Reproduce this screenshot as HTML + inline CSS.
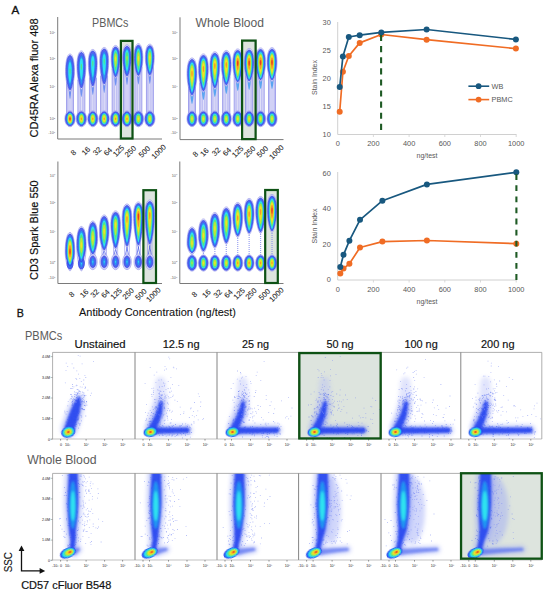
<!DOCTYPE html>
<html><head><meta charset="utf-8"><style>
html,body{margin:0;padding:0;background:#fff;width:550px;height:595px;overflow:hidden;}
svg{display:block;}
</style></head><body>
<svg width="550" height="595" viewBox="0 0 550 595">
<defs><filter id="bl1" x="-50%" y="-50%" width="200%" height="200%"><feGaussianBlur stdDeviation="1.1"/></filter><filter id="bl05" x="-50%" y="-50%" width="200%" height="200%"><feGaussianBlur stdDeviation="0.5"/></filter><filter id="bl03" x="-50%" y="-50%" width="200%" height="200%"><feGaussianBlur stdDeviation="0.3"/></filter><filter id="bl2" x="-50%" y="-50%" width="200%" height="200%"><feGaussianBlur stdDeviation="2.2"/></filter></defs>
<rect width="550" height="595" fill="#fff"/>
<rect x="119.8" y="39.8" width="13.799999999999997" height="99.2" fill="#dde4de"/>
<rect x="66.5" y="82" width="7" height="34" fill="#e4e4f9" stroke="#8282e6" stroke-width="0.7"/>
<path d="M67.6 82V116M72.4 82V116M69 82V116M71 82V116" stroke="#9898ec" stroke-width="0.5"/>
<path d="M70 82C70.78 82 71.3 84.04 71.3 87.1C71.3 93.05 70.39 99 70 99C69.61 99 68.7 93.05 68.7 87.1C68.7 84.04 69.22 82 70 82Z" fill="#4a7af0" opacity="0.75"/>
<ellipse cx="70" cy="118.8" rx="5.2" ry="8" fill="#e4e4f9" stroke="#9090ea" stroke-width="0.6"/>
<g filter="url(#bl03)">
<ellipse cx="70" cy="118.8" rx="4.5" ry="7.1" fill="#5566ee" stroke="#2434e6" stroke-width="0.6"/>
<ellipse cx="70" cy="118.8" rx="3.33" ry="6.25" fill="#2e94f2" stroke="#2a5cf0" stroke-width="0.4"/>
<ellipse cx="70" cy="118.8" rx="2.83" ry="5.68" fill="#2ee2f0"/>
<ellipse cx="70" cy="118.8" rx="2.39" ry="4.97" fill="#4fe68c"/>
<ellipse cx="70" cy="118.8" rx="2.11" ry="4.4" fill="#b4e83c"/>
<ellipse cx="70" cy="118.8" rx="1.89" ry="3.91" fill="#f2e226"/>
<ellipse cx="70" cy="118.8" rx="1.35" ry="2.7" fill="#f59a26"/>
<ellipse cx="70" cy="118.8" rx="0.72" ry="1.42" fill="#e83a1e"/>
</g>
<path d="M70 53.9C72.7 53.9 74.5 60.94 74.5 71.5C74.5 81.55 71.35 91.6 70 91.6C68.65 91.6 65.5 81.55 65.5 71.5C65.5 60.94 67.3 53.9 70 53.9Z" fill="#e4e4f9" stroke="#9090ea" stroke-width="0.6"/>
<g filter="url(#bl03)">
<path d="M70 55.5C72.28 55.5 73.8 61.9 73.8 71.5C73.8 80.75 71.14 90 70 90C68.86 90 66.2 80.75 66.2 71.5C66.2 61.9 67.72 55.5 70 55.5Z" fill="#5566ee" stroke="#2434e6" stroke-width="0.6"/>
<path d="M70 59.23C71.42 59.23 72.37 64.14 72.37 71.5C72.37 79.52 70.71 87.53 70 87.53C69.29 87.53 67.63 79.52 67.63 71.5C67.63 64.14 68.58 59.23 70 59.23Z" fill="#2e94f2" stroke="#2a5cf0" stroke-width="0.4"/>
<path d="M70 62.11C71 62.11 71.67 65.87 71.67 71.5C71.67 77.23 70.5 82.97 70 82.97C69.5 82.97 68.33 77.23 68.33 71.5C68.33 65.87 69 62.11 70 62.11Z" fill="#2ee2f0"/>
<path d="M70 68.3C70.39 68.3 70.65 69.58 70.65 71.5C70.65 73.07 70.19 74.64 70 74.64C69.81 74.64 69.35 73.07 69.35 71.5C69.35 69.58 69.61 68.3 70 68.3Z" fill="#4fe68c"/>
</g>
<rect x="77.9" y="80" width="7" height="36" fill="#e4e4f9" stroke="#8282e6" stroke-width="0.7"/>
<path d="M79 80V116M83.8 80V116M80.4 80V116M82.4 80V116" stroke="#9898ec" stroke-width="0.5"/>
<path d="M81.4 80C82.18 80 82.7 82.04 82.7 85.1C82.7 91.05 81.79 97 81.4 97C81.01 97 80.1 91.05 80.1 85.1C80.1 82.04 80.62 80 81.4 80Z" fill="#4a7af0" opacity="0.75"/>
<ellipse cx="81.4" cy="118.8" rx="5.2" ry="8" fill="#e4e4f9" stroke="#9090ea" stroke-width="0.6"/>
<g filter="url(#bl03)">
<ellipse cx="81.4" cy="118.8" rx="4.5" ry="7.1" fill="#5566ee" stroke="#2434e6" stroke-width="0.6"/>
<ellipse cx="81.4" cy="118.8" rx="3.25" ry="6.15" fill="#2e94f2" stroke="#2a5cf0" stroke-width="0.4"/>
<ellipse cx="81.4" cy="118.8" rx="2.69" ry="5.44" fill="#2ee2f0"/>
<ellipse cx="81.4" cy="118.8" rx="2.25" ry="4.69" fill="#4fe68c"/>
<ellipse cx="81.4" cy="118.8" rx="1.96" ry="4.07" fill="#b4e83c"/>
<ellipse cx="81.4" cy="118.8" rx="1.44" ry="2.9" fill="#f2e226"/>
<ellipse cx="81.4" cy="118.8" rx="0.72" ry="1.42" fill="#f59a26"/>
</g>
<path d="M81.4 50.9C84.1 50.9 85.9 57.14 85.9 66.5C85.9 78.05 82.75 89.6 81.4 89.6C80.05 89.6 76.9 78.05 76.9 66.5C76.9 57.14 78.7 50.9 81.4 50.9Z" fill="#e4e4f9" stroke="#9090ea" stroke-width="0.6"/>
<g filter="url(#bl03)">
<path d="M81.4 52.5C83.68 52.5 85.2 58.1 85.2 66.5C85.2 77.25 82.54 88 81.4 88C80.26 88 77.6 77.25 77.6 66.5C77.6 58.1 79.12 52.5 81.4 52.5Z" fill="#5566ee" stroke="#2434e6" stroke-width="0.6"/>
<path d="M81.4 55.77C82.82 55.77 83.77 60.06 83.77 66.5C83.77 75.82 82.11 85.13 81.4 85.13C80.69 85.13 79.03 75.82 79.03 66.5C79.03 60.06 79.98 55.77 81.4 55.77Z" fill="#2e94f2" stroke="#2a5cf0" stroke-width="0.4"/>
<path d="M81.4 58.29C82.4 58.29 83.07 61.57 83.07 66.5C83.07 73.16 81.9 79.83 81.4 79.83C80.9 79.83 79.73 73.16 79.73 66.5C79.73 61.57 80.4 58.29 81.4 58.29Z" fill="#2ee2f0"/>
<path d="M81.4 63.7C81.79 63.7 82.05 64.82 82.05 66.5C82.05 68.33 81.59 70.16 81.4 70.16C81.21 70.16 80.75 68.33 80.75 66.5C80.75 64.82 81.01 63.7 81.4 63.7Z" fill="#4fe68c"/>
</g>
<rect x="89.3" y="78" width="7" height="38" fill="#e4e4f9" stroke="#8282e6" stroke-width="0.7"/>
<path d="M90.4 78V116M95.2 78V116M91.8 78V116M93.8 78V116" stroke="#9898ec" stroke-width="0.5"/>
<path d="M92.8 78C93.58 78 94.1 80.04 94.1 83.1C94.1 89.05 93.19 95 92.8 95C92.41 95 91.5 89.05 91.5 83.1C91.5 80.04 92.02 78 92.8 78Z" fill="#4a7af0" opacity="0.75"/>
<ellipse cx="92.8" cy="118.8" rx="5.2" ry="8" fill="#e4e4f9" stroke="#9090ea" stroke-width="0.6"/>
<g filter="url(#bl03)">
<ellipse cx="92.8" cy="118.8" rx="4.5" ry="7.1" fill="#5566ee" stroke="#2434e6" stroke-width="0.6"/>
<ellipse cx="92.8" cy="118.8" rx="3.25" ry="6.15" fill="#2e94f2" stroke="#2a5cf0" stroke-width="0.4"/>
<ellipse cx="92.8" cy="118.8" rx="2.69" ry="5.44" fill="#2ee2f0"/>
<ellipse cx="92.8" cy="118.8" rx="2.25" ry="4.69" fill="#4fe68c"/>
<ellipse cx="92.8" cy="118.8" rx="1.96" ry="4.07" fill="#b4e83c"/>
<ellipse cx="92.8" cy="118.8" rx="1.44" ry="2.9" fill="#f2e226"/>
<ellipse cx="92.8" cy="118.8" rx="0.72" ry="1.42" fill="#f59a26"/>
</g>
<path d="M92.8 49.4C95.5 49.4 97.3 54.84 97.3 63C97.3 75.3 94.15 87.6 92.8 87.6C91.45 87.6 88.3 75.3 88.3 63C88.3 54.84 90.1 49.4 92.8 49.4Z" fill="#e4e4f9" stroke="#9090ea" stroke-width="0.6"/>
<g filter="url(#bl03)">
<path d="M92.8 51C95.08 51 96.6 55.8 96.6 63C96.6 74.5 93.94 86 92.8 86C91.66 86 89 74.5 89 63C89 55.8 90.52 51 92.8 51Z" fill="#5566ee" stroke="#2434e6" stroke-width="0.6"/>
<path d="M92.8 53.8C94.22 53.8 95.17 57.48 95.17 63C95.17 72.97 93.51 82.93 92.8 82.93C92.09 82.93 90.43 72.97 90.43 63C90.43 57.48 91.38 53.8 92.8 53.8Z" fill="#2e94f2" stroke="#2a5cf0" stroke-width="0.4"/>
<path d="M92.8 55.96C93.8 55.96 94.47 58.78 94.47 63C94.47 70.13 93.3 77.26 92.8 77.26C92.3 77.26 91.13 70.13 91.13 63C91.13 58.78 91.8 55.96 92.8 55.96Z" fill="#2ee2f0"/>
<path d="M92.8 60.6C93.19 60.6 93.45 61.56 93.45 63C93.45 64.95 92.99 66.91 92.8 66.91C92.61 66.91 92.15 64.95 92.15 63C92.15 61.56 92.41 60.6 92.8 60.6Z" fill="#4fe68c"/>
</g>
<rect x="100.7" y="76" width="7" height="40" fill="#e4e4f9" stroke="#8282e6" stroke-width="0.7"/>
<path d="M101.8 76V116M106.6 76V116M103.2 76V116M105.2 76V116" stroke="#9898ec" stroke-width="0.5"/>
<path d="M104.2 76C104.98 76 105.5 78.04 105.5 81.1C105.5 87.05 104.59 93 104.2 93C103.81 93 102.9 87.05 102.9 81.1C102.9 78.04 103.42 76 104.2 76Z" fill="#4a7af0" opacity="0.75"/>
<ellipse cx="104.2" cy="118.8" rx="5.2" ry="8" fill="#e4e4f9" stroke="#9090ea" stroke-width="0.6"/>
<g filter="url(#bl03)">
<ellipse cx="104.2" cy="118.8" rx="4.5" ry="7.1" fill="#5566ee" stroke="#2434e6" stroke-width="0.6"/>
<ellipse cx="104.2" cy="118.8" rx="3.25" ry="6.15" fill="#2e94f2" stroke="#2a5cf0" stroke-width="0.4"/>
<ellipse cx="104.2" cy="118.8" rx="2.69" ry="5.44" fill="#2ee2f0"/>
<ellipse cx="104.2" cy="118.8" rx="2.25" ry="4.69" fill="#4fe68c"/>
<ellipse cx="104.2" cy="118.8" rx="1.96" ry="4.07" fill="#b4e83c"/>
<ellipse cx="104.2" cy="118.8" rx="1.44" ry="2.9" fill="#f2e226"/>
<ellipse cx="104.2" cy="118.8" rx="0.72" ry="1.42" fill="#f59a26"/>
</g>
<path d="M104.2 47.4C106.9 47.4 108.7 52.84 108.7 61C108.7 73.3 105.55 85.6 104.2 85.6C102.85 85.6 99.7 73.3 99.7 61C99.7 52.84 101.5 47.4 104.2 47.4Z" fill="#e4e4f9" stroke="#9090ea" stroke-width="0.6"/>
<g filter="url(#bl03)">
<path d="M104.2 49C106.48 49 108 53.8 108 61C108 72.5 105.34 84 104.2 84C103.06 84 100.4 72.5 100.4 61C100.4 53.8 101.92 49 104.2 49Z" fill="#5566ee" stroke="#2434e6" stroke-width="0.6"/>
<path d="M104.2 51.8C105.62 51.8 106.57 55.48 106.57 61C106.57 70.97 104.91 80.93 104.2 80.93C103.49 80.93 101.83 70.97 101.83 61C101.83 55.48 102.78 51.8 104.2 51.8Z" fill="#2e94f2" stroke="#2a5cf0" stroke-width="0.4"/>
<path d="M104.2 53.96C105.2 53.96 105.87 56.78 105.87 61C105.87 68.13 104.7 75.26 104.2 75.26C103.7 75.26 102.53 68.13 102.53 61C102.53 56.78 103.2 53.96 104.2 53.96Z" fill="#2ee2f0"/>
<path d="M104.2 58.6C104.59 58.6 104.85 59.56 104.85 61C104.85 62.95 104.39 64.91 104.2 64.91C104.01 64.91 103.55 62.95 103.55 61C103.55 59.56 103.81 58.6 104.2 58.6Z" fill="#4fe68c"/>
</g>
<rect x="112.1" y="69" width="7" height="47" fill="#e4e4f9" stroke="#8282e6" stroke-width="0.7"/>
<path d="M113.2 69V116M118 69V116M114.6 69V116M116.6 69V116" stroke="#9898ec" stroke-width="0.5"/>
<path d="M115.6 69C116.38 69 116.9 71.04 116.9 74.1C116.9 80.05 115.99 86 115.6 86C115.21 86 114.3 80.05 114.3 74.1C114.3 71.04 114.82 69 115.6 69Z" fill="#4a7af0" opacity="0.75"/>
<ellipse cx="115.6" cy="118.8" rx="5.2" ry="8" fill="#e4e4f9" stroke="#9090ea" stroke-width="0.6"/>
<g filter="url(#bl03)">
<ellipse cx="115.6" cy="118.8" rx="4.5" ry="7.1" fill="#5566ee" stroke="#2434e6" stroke-width="0.6"/>
<ellipse cx="115.6" cy="118.8" rx="3.25" ry="6.15" fill="#2e94f2" stroke="#2a5cf0" stroke-width="0.4"/>
<ellipse cx="115.6" cy="118.8" rx="2.69" ry="5.44" fill="#2ee2f0"/>
<ellipse cx="115.6" cy="118.8" rx="2.25" ry="4.69" fill="#4fe68c"/>
<ellipse cx="115.6" cy="118.8" rx="1.96" ry="4.07" fill="#b4e83c"/>
<ellipse cx="115.6" cy="118.8" rx="1.44" ry="2.9" fill="#f2e226"/>
<ellipse cx="115.6" cy="118.8" rx="0.72" ry="1.42" fill="#f59a26"/>
</g>
<path d="M115.6 45.4C118.3 45.4 120.1 50.68 120.1 58.6C120.1 68.6 116.95 78.6 115.6 78.6C114.25 78.6 111.1 68.6 111.1 58.6C111.1 50.68 112.9 45.4 115.6 45.4Z" fill="#e4e4f9" stroke="#9090ea" stroke-width="0.6"/>
<g filter="url(#bl03)">
<path d="M115.6 47C117.88 47 119.4 51.64 119.4 58.6C119.4 67.8 116.74 77 115.6 77C114.46 77 111.8 67.8 111.8 58.6C111.8 51.64 113.32 47 115.6 47Z" fill="#5566ee" stroke="#2434e6" stroke-width="0.6"/>
<path d="M115.6 48.67C117.32 48.67 118.47 52.64 118.47 58.6C118.47 67.16 116.46 75.71 115.6 75.71C114.74 75.71 112.73 67.16 112.73 58.6C112.73 52.64 113.88 48.67 115.6 48.67Z" fill="#2e94f2" stroke="#2a5cf0" stroke-width="0.4"/>
<path d="M115.6 50.09C116.9 50.09 117.77 53.49 117.77 58.6C117.77 66.14 116.25 73.69 115.6 73.69C114.95 73.69 113.43 66.14 113.43 58.6C113.43 53.49 114.3 50.09 115.6 50.09Z" fill="#2ee2f0"/>
<path d="M115.6 51.36C116.67 51.36 117.38 54.26 117.38 58.6C117.38 64.82 116.13 71.04 115.6 71.04C115.07 71.04 113.82 64.82 113.82 58.6C113.82 54.26 114.53 51.36 115.6 51.36Z" fill="#4fe68c"/>
<path d="M115.6 53.22C116.42 53.22 116.97 55.37 116.97 58.6C116.97 62.94 116.01 67.28 115.6 67.28C115.19 67.28 114.23 62.94 114.23 58.6C114.23 55.37 114.78 53.22 115.6 53.22Z" fill="#b4e83c"/>
<path d="M115.6 56.28C115.99 56.28 116.25 57.21 116.25 58.6C116.25 60.16 115.79 61.73 115.6 61.73C115.41 61.73 114.95 60.16 114.95 58.6C114.95 57.21 115.21 56.28 115.6 56.28Z" fill="#f2e226"/>
</g>
<rect x="123.5" y="68" width="7" height="48" fill="#e4e4f9" stroke="#8282e6" stroke-width="0.7"/>
<path d="M124.6 68V116M129.4 68V116M126 68V116M128 68V116" stroke="#9898ec" stroke-width="0.5"/>
<path d="M127 68C127.78 68 128.3 70.04 128.3 73.1C128.3 79.05 127.39 85 127 85C126.61 85 125.7 79.05 125.7 73.1C125.7 70.04 126.22 68 127 68Z" fill="#4a7af0" opacity="0.75"/>
<ellipse cx="127" cy="118.8" rx="5.2" ry="8" fill="#e4e4f9" stroke="#9090ea" stroke-width="0.6"/>
<g filter="url(#bl03)">
<ellipse cx="127" cy="118.8" rx="4.5" ry="7.1" fill="#5566ee" stroke="#2434e6" stroke-width="0.6"/>
<ellipse cx="127" cy="118.8" rx="3.25" ry="6.15" fill="#2e94f2" stroke="#2a5cf0" stroke-width="0.4"/>
<ellipse cx="127" cy="118.8" rx="2.69" ry="5.44" fill="#2ee2f0"/>
<ellipse cx="127" cy="118.8" rx="2.25" ry="4.69" fill="#4fe68c"/>
<ellipse cx="127" cy="118.8" rx="1.96" ry="4.07" fill="#b4e83c"/>
<ellipse cx="127" cy="118.8" rx="1.44" ry="2.9" fill="#f2e226"/>
<ellipse cx="127" cy="118.8" rx="0.72" ry="1.42" fill="#f59a26"/>
</g>
<path d="M127 44.7C129.7 44.7 131.5 50.02 131.5 58C131.5 67.8 128.35 77.6 127 77.6C125.65 77.6 122.5 67.8 122.5 58C122.5 50.02 124.3 44.7 127 44.7Z" fill="#e4e4f9" stroke="#9090ea" stroke-width="0.6"/>
<g filter="url(#bl03)">
<path d="M127 46.3C129.28 46.3 130.8 50.98 130.8 58C130.8 67 128.14 76 127 76C125.86 76 123.2 67 123.2 58C123.2 50.98 124.72 46.3 127 46.3Z" fill="#5566ee" stroke="#2434e6" stroke-width="0.6"/>
<path d="M127 48.44C128.6 48.44 129.66 52.26 129.66 58C129.66 66.21 127.8 74.42 127 74.42C126.2 74.42 124.34 66.21 124.34 58C124.34 52.26 125.4 48.44 127 48.44Z" fill="#2e94f2" stroke="#2a5cf0" stroke-width="0.4"/>
<path d="M127 50.04C128.17 50.04 128.96 53.23 128.96 58C128.96 64.75 127.59 71.5 127 71.5C126.41 71.5 125.04 64.75 125.04 58C125.04 53.23 125.83 50.04 127 50.04Z" fill="#2ee2f0"/>
<path d="M127 51.92C127.9 51.92 128.5 54.35 128.5 58C128.5 62.81 127.45 67.63 127 67.63C126.55 67.63 125.5 62.81 125.5 58C125.5 54.35 126.1 51.92 127 51.92Z" fill="#4fe68c"/>
<path d="M127 55.66C127.39 55.66 127.65 56.6 127.65 58C127.65 59.53 127.19 61.06 127 61.06C126.81 61.06 126.35 59.53 126.35 58C126.35 56.6 126.61 55.66 127 55.66Z" fill="#b4e83c"/>
</g>
<rect x="134.9" y="67.5" width="7" height="48.5" fill="#e4e4f9" stroke="#8282e6" stroke-width="0.7"/>
<path d="M136 67.5V116M140.8 67.5V116M137.4 67.5V116M139.4 67.5V116" stroke="#9898ec" stroke-width="0.5"/>
<path d="M138.4 67.5C139.18 67.5 139.7 69.54 139.7 72.6C139.7 78.55 138.79 84.5 138.4 84.5C138.01 84.5 137.1 78.55 137.1 72.6C137.1 69.54 137.62 67.5 138.4 67.5Z" fill="#4a7af0" opacity="0.75"/>
<ellipse cx="138.4" cy="118.8" rx="5.2" ry="8" fill="#e4e4f9" stroke="#9090ea" stroke-width="0.6"/>
<g filter="url(#bl03)">
<ellipse cx="138.4" cy="118.8" rx="4.5" ry="7.1" fill="#5566ee" stroke="#2434e6" stroke-width="0.6"/>
<ellipse cx="138.4" cy="118.8" rx="3.13" ry="6.02" fill="#2e94f2" stroke="#2a5cf0" stroke-width="0.4"/>
<ellipse cx="138.4" cy="118.8" rx="2.48" ry="5.11" fill="#2ee2f0"/>
<ellipse cx="138.4" cy="118.8" rx="2.07" ry="4.3" fill="#4fe68c"/>
<ellipse cx="138.4" cy="118.8" rx="1.57" ry="3.18" fill="#b4e83c"/>
<ellipse cx="138.4" cy="118.8" rx="0.72" ry="1.42" fill="#f2e226"/>
</g>
<path d="M138.4 43.6C141.1 43.6 142.9 49.56 142.9 58.5C142.9 67.8 139.75 77.1 138.4 77.1C137.05 77.1 133.9 67.8 133.9 58.5C133.9 49.56 135.7 43.6 138.4 43.6Z" fill="#e4e4f9" stroke="#9090ea" stroke-width="0.6"/>
<g filter="url(#bl03)">
<path d="M138.4 45.2C140.68 45.2 142.2 50.52 142.2 58.5C142.2 67 139.54 75.5 138.4 75.5C137.26 75.5 134.6 67 134.6 58.5C134.6 50.52 136.12 45.2 138.4 45.2Z" fill="#5566ee" stroke="#2434e6" stroke-width="0.6"/>
<path d="M138.4 47.12C140.12 47.12 141.27 51.67 141.27 58.5C141.27 66.41 139.26 74.31 138.4 74.31C137.54 74.31 135.53 66.41 135.53 58.5C135.53 51.67 136.68 47.12 138.4 47.12Z" fill="#2e94f2" stroke="#2a5cf0" stroke-width="0.4"/>
<path d="M138.4 48.74C139.7 48.74 140.57 52.64 140.57 58.5C140.57 65.47 139.05 72.44 138.4 72.44C137.75 72.44 136.23 65.47 136.23 58.5C136.23 52.64 137.1 48.74 138.4 48.74Z" fill="#2ee2f0"/>
<path d="M138.4 50.2C139.47 50.2 140.18 53.52 140.18 58.5C140.18 64.25 138.93 69.99 138.4 69.99C137.87 69.99 136.62 64.25 136.62 58.5C136.62 53.52 137.33 50.2 138.4 50.2Z" fill="#4fe68c"/>
<path d="M138.4 52.33C139.22 52.33 139.77 54.8 139.77 58.5C139.77 62.51 138.81 66.52 138.4 66.52C137.99 66.52 137.03 62.51 137.03 58.5C137.03 54.8 137.58 52.33 138.4 52.33Z" fill="#b4e83c"/>
<path d="M138.4 55.84C138.79 55.84 139.05 56.9 139.05 58.5C139.05 59.95 138.59 61.39 138.4 61.39C138.21 61.39 137.75 59.95 137.75 58.5C137.75 56.9 138.01 55.84 138.4 55.84Z" fill="#f2e226"/>
</g>
<rect x="146.3" y="67" width="7" height="49" fill="#e4e4f9" stroke="#8282e6" stroke-width="0.7"/>
<path d="M147.4 67V116M152.2 67V116M148.8 67V116M150.8 67V116" stroke="#9898ec" stroke-width="0.5"/>
<path d="M149.8 67C150.58 67 151.1 69.04 151.1 72.1C151.1 78.05 150.19 84 149.8 84C149.41 84 148.5 78.05 148.5 72.1C148.5 69.04 149.02 67 149.8 67Z" fill="#4a7af0" opacity="0.75"/>
<ellipse cx="149.8" cy="118.8" rx="5.2" ry="8" fill="#e4e4f9" stroke="#9090ea" stroke-width="0.6"/>
<g filter="url(#bl03)">
<ellipse cx="149.8" cy="118.8" rx="4.5" ry="7.1" fill="#5566ee" stroke="#2434e6" stroke-width="0.6"/>
<ellipse cx="149.8" cy="118.8" rx="3.13" ry="6.02" fill="#2e94f2" stroke="#2a5cf0" stroke-width="0.4"/>
<ellipse cx="149.8" cy="118.8" rx="2.48" ry="5.11" fill="#2ee2f0"/>
<ellipse cx="149.8" cy="118.8" rx="2.07" ry="4.3" fill="#4fe68c"/>
<ellipse cx="149.8" cy="118.8" rx="1.57" ry="3.18" fill="#b4e83c"/>
<ellipse cx="149.8" cy="118.8" rx="0.72" ry="1.42" fill="#f2e226"/>
</g>
<path d="M149.8 44.1C152.5 44.1 154.3 49.46 154.3 57.5C154.3 67.05 151.15 76.6 149.8 76.6C148.45 76.6 145.3 67.05 145.3 57.5C145.3 49.46 147.1 44.1 149.8 44.1Z" fill="#e4e4f9" stroke="#9090ea" stroke-width="0.6"/>
<g filter="url(#bl03)">
<path d="M149.8 45.7C152.08 45.7 153.6 50.42 153.6 57.5C153.6 66.25 150.94 75 149.8 75C148.66 75 146 66.25 146 57.5C146 50.42 147.52 45.7 149.8 45.7Z" fill="#5566ee" stroke="#2434e6" stroke-width="0.6"/>
<path d="M149.8 47.4C151.52 47.4 152.67 51.44 152.67 57.5C152.67 65.64 150.66 73.78 149.8 73.78C148.94 73.78 146.93 65.64 146.93 57.5C146.93 51.44 148.08 47.4 149.8 47.4Z" fill="#2e94f2" stroke="#2a5cf0" stroke-width="0.4"/>
<path d="M149.8 48.84C151.1 48.84 151.97 52.3 151.97 57.5C151.97 64.67 150.45 71.85 149.8 71.85C149.15 71.85 147.63 64.67 147.63 57.5C147.63 52.3 148.5 48.84 149.8 48.84Z" fill="#2ee2f0"/>
<path d="M149.8 50.14C150.87 50.14 151.58 53.08 151.58 57.5C151.58 63.41 150.33 69.33 149.8 69.33C149.27 69.33 148.02 63.41 148.02 57.5C148.02 53.08 148.73 50.14 149.8 50.14Z" fill="#4fe68c"/>
<path d="M149.8 52.02C150.62 52.02 151.17 54.21 151.17 57.5C151.17 61.63 150.21 65.76 149.8 65.76C149.39 65.76 148.43 61.63 148.43 57.5C148.43 54.21 148.98 52.02 149.8 52.02Z" fill="#b4e83c"/>
<path d="M149.8 55.14C150.19 55.14 150.45 56.08 150.45 57.5C150.45 58.99 149.99 60.48 149.8 60.48C149.61 60.48 149.15 58.99 149.15 57.5C149.15 56.08 149.41 55.14 149.8 55.14Z" fill="#f2e226"/>
</g>
<path d="M57.7 17V139H162" fill="none" stroke="#7a7a7a" stroke-width="1"/>
<rect x="120.90" y="40.90" width="11.60" height="97.60" fill="none" stroke="#0e5214" stroke-width="2.2"/>
<text x="55.2" y="34.3" font-size="3.8" fill="#666" text-anchor="end" font-family="'Liberation Sans', sans-serif">10<tspan font-size="2.4" dy="-1.3">6</tspan></text>
<text x="55.2" y="60.3" font-size="3.8" fill="#666" text-anchor="end" font-family="'Liberation Sans', sans-serif">10<tspan font-size="2.4" dy="-1.3">5</tspan></text>
<text x="55.2" y="88.3" font-size="3.8" fill="#666" text-anchor="end" font-family="'Liberation Sans', sans-serif">10<tspan font-size="2.4" dy="-1.3">4</tspan></text>
<text x="55.2" y="119.8" font-size="3.8" fill="#666" text-anchor="end" font-family="'Liberation Sans', sans-serif">10<tspan font-size="2.4" dy="-1.3">2</tspan></text>
<text x="55.2" y="133.9" font-size="3.8" fill="#666" text-anchor="end" font-family="'Liberation Sans', sans-serif">-10<tspan font-size="2.4" dy="-1.3">1</tspan></text>
<text x="73.4" y="155.2" font-size="7.6" fill="#222" stroke="#222" stroke-width="0.08" text-anchor="middle" transform="rotate(-45 73.4 152.7)" font-family="'Liberation Sans', sans-serif">8</text>
<text x="86.0" y="153.5" font-size="7.6" fill="#222" stroke="#222" stroke-width="0.08" text-anchor="middle" transform="rotate(-45 86.0 151.0)" font-family="'Liberation Sans', sans-serif">16</text>
<text x="97.2" y="153.7" font-size="7.6" fill="#222" stroke="#222" stroke-width="0.08" text-anchor="middle" transform="rotate(-45 97.2 151.2)" font-family="'Liberation Sans', sans-serif">32</text>
<text x="108.1" y="154.1" font-size="7.6" fill="#222" stroke="#222" stroke-width="0.08" text-anchor="middle" transform="rotate(-45 108.1 151.6)" font-family="'Liberation Sans', sans-serif">64</text>
<text x="118.6" y="153.5" font-size="7.6" fill="#222" stroke="#222" stroke-width="0.08" text-anchor="middle" transform="rotate(-45 118.6 151.0)" font-family="'Liberation Sans', sans-serif">125</text>
<text x="130.6" y="153.9" font-size="7.6" fill="#222" stroke="#222" stroke-width="0.08" text-anchor="middle" transform="rotate(-45 130.6 151.4)" font-family="'Liberation Sans', sans-serif">250</text>
<text x="144.4" y="154.2" font-size="7.6" fill="#222" stroke="#222" stroke-width="0.08" text-anchor="middle" transform="rotate(-45 144.4 151.7)" font-family="'Liberation Sans', sans-serif">500</text>
<text x="158.7" y="154.2" font-size="7.6" fill="#222" stroke="#222" stroke-width="0.08" text-anchor="middle" transform="rotate(-45 158.7 151.7)" font-family="'Liberation Sans', sans-serif">1000</text>
<rect x="241" y="39.5" width="15.699999999999989" height="100.1" fill="#dde4de"/>
<rect x="188.4" y="87" width="7.2" height="29" fill="#e4e4f9" stroke="#8282e6" stroke-width="0.7"/>
<path d="M189.5 87V116M194.5 87V116M191 87V116M193 87V116" stroke="#9898ec" stroke-width="0.5"/>
<path d="M192 87C193.02 87 193.7 89.04 193.7 92.1C193.7 98.05 192.51 104 192 104C191.49 104 190.3 98.05 190.3 92.1C190.3 89.04 190.98 87 192 87Z" fill="#3a9af0" opacity="0.8"/>
<ellipse cx="192" cy="118.8" rx="5.1" ry="7.9" fill="#e4e4f9" stroke="#9090ea" stroke-width="0.6"/>
<g filter="url(#bl03)">
<ellipse cx="192" cy="118.8" rx="4.4" ry="7" fill="#5566ee" stroke="#2434e6" stroke-width="0.6"/>
<ellipse cx="192" cy="118.8" rx="3.06" ry="5.94" fill="#2e94f2" stroke="#2a5cf0" stroke-width="0.4"/>
<ellipse cx="192" cy="118.8" rx="2.42" ry="5.04" fill="#2ee2f0"/>
<ellipse cx="192" cy="118.8" rx="2.02" ry="4.24" fill="#4fe68c"/>
<ellipse cx="192" cy="118.8" rx="1.53" ry="3.14" fill="#b4e83c"/>
<ellipse cx="192" cy="118.8" rx="0.7" ry="1.4" fill="#f2e226"/>
</g>
<path d="M192 57.9C195 57.9 197 64.18 197 73.6C197 85.1 193.5 96.6 192 96.6C190.5 96.6 187 85.1 187 73.6C187 64.18 189 57.9 192 57.9Z" fill="#e4e4f9" stroke="#9090ea" stroke-width="0.6"/>
<g filter="url(#bl03)">
<path d="M192 59.5C194.58 59.5 196.3 65.14 196.3 73.6C196.3 84.3 193.29 95 192 95C190.71 95 187.7 84.3 187.7 73.6C187.7 65.14 189.42 59.5 192 59.5Z" fill="#5566ee" stroke="#2434e6" stroke-width="0.6"/>
<path d="M192 61.17C194.05 61.17 195.41 66.14 195.41 73.6C195.41 83.68 193.02 93.75 192 93.75C190.98 93.75 188.59 83.68 188.59 73.6C188.59 66.14 189.95 61.17 192 61.17Z" fill="#2e94f2" stroke="#2a5cf0" stroke-width="0.4"/>
<path d="M192 62.79C193.61 62.79 194.68 67.11 194.68 73.6C194.68 82.87 192.8 92.15 192 92.15C191.2 92.15 189.32 82.87 189.32 73.6C189.32 67.11 190.39 62.79 192 62.79Z" fill="#2ee2f0"/>
<path d="M192 64.01C193.33 64.01 194.21 67.85 194.21 73.6C194.21 81.62 192.66 89.65 192 89.65C191.34 89.65 189.79 81.62 189.79 73.6C189.79 67.85 190.67 64.01 192 64.01Z" fill="#4fe68c"/>
<path d="M192 65.33C193.14 65.33 193.89 68.64 193.89 73.6C193.89 80.23 192.57 86.87 192 86.87C191.43 86.87 190.11 80.23 190.11 73.6C190.11 68.64 190.86 65.33 192 65.33Z" fill="#b4e83c"/>
<path d="M192 67.58C192.87 67.58 193.45 69.99 193.45 73.6C193.45 78.2 192.43 82.8 192 82.8C191.57 82.8 190.55 78.2 190.55 73.6C190.55 69.99 191.13 67.58 192 67.58Z" fill="#f2e226"/>
<path d="M192 70.78C192.44 70.78 192.73 71.91 192.73 73.6C192.73 75.42 192.22 77.24 192 77.24C191.78 77.24 191.27 75.42 191.27 73.6C191.27 71.91 191.56 70.78 192 70.78Z" fill="#f59a26"/>
</g>
<rect x="199.83" y="83" width="7.2" height="33" fill="#e4e4f9" stroke="#8282e6" stroke-width="0.7"/>
<path d="M200.93 83V116M205.93 83V116M202.43 83V116M204.43 83V116" stroke="#9898ec" stroke-width="0.5"/>
<path d="M203.43 83C204.45 83 205.13 85.04 205.13 88.1C205.13 94.05 203.94 100 203.43 100C202.92 100 201.73 94.05 201.73 88.1C201.73 85.04 202.41 83 203.43 83Z" fill="#3a9af0" opacity="0.8"/>
<ellipse cx="203.43" cy="118.8" rx="5.1" ry="7.9" fill="#e4e4f9" stroke="#9090ea" stroke-width="0.6"/>
<g filter="url(#bl03)">
<ellipse cx="203.43" cy="118.8" rx="4.4" ry="7" fill="#5566ee" stroke="#2434e6" stroke-width="0.6"/>
<ellipse cx="203.43" cy="118.8" rx="3.06" ry="5.94" fill="#2e94f2" stroke="#2a5cf0" stroke-width="0.4"/>
<ellipse cx="203.43" cy="118.8" rx="2.42" ry="5.04" fill="#2ee2f0"/>
<ellipse cx="203.43" cy="118.8" rx="2.02" ry="4.24" fill="#4fe68c"/>
<ellipse cx="203.43" cy="118.8" rx="1.53" ry="3.14" fill="#b4e83c"/>
<ellipse cx="203.43" cy="118.8" rx="0.7" ry="1.4" fill="#f2e226"/>
</g>
<path d="M203.43 53.9C206.43 53.9 208.43 59.74 208.43 68.5C208.43 80.55 204.93 92.6 203.43 92.6C201.93 92.6 198.43 80.55 198.43 68.5C198.43 59.74 200.43 53.9 203.43 53.9Z" fill="#e4e4f9" stroke="#9090ea" stroke-width="0.6"/>
<g filter="url(#bl03)">
<path d="M203.43 55.5C206.01 55.5 207.73 60.7 207.73 68.5C207.73 79.75 204.72 91 203.43 91C202.14 91 199.13 79.75 199.13 68.5C199.13 60.7 200.85 55.5 203.43 55.5Z" fill="#5566ee" stroke="#2434e6" stroke-width="0.6"/>
<path d="M203.43 57.04C205.48 57.04 206.84 61.62 206.84 68.5C206.84 79.09 204.45 89.69 203.43 89.69C202.41 89.69 200.02 79.09 200.02 68.5C200.02 61.62 201.38 57.04 203.43 57.04Z" fill="#2e94f2" stroke="#2a5cf0" stroke-width="0.4"/>
<path d="M203.43 58.53C205.04 58.53 206.11 62.52 206.11 68.5C206.11 78.25 204.23 88 203.43 88C202.63 88 200.75 78.25 200.75 68.5C200.75 62.52 201.82 58.53 203.43 58.53Z" fill="#2ee2f0"/>
<path d="M203.43 59.66C204.76 59.66 205.64 63.2 205.64 68.5C205.64 76.94 204.09 85.38 203.43 85.38C202.77 85.38 201.22 76.94 201.22 68.5C201.22 63.2 202.1 59.66 203.43 59.66Z" fill="#4fe68c"/>
<path d="M203.43 60.87C204.57 60.87 205.32 63.92 205.32 68.5C205.32 75.47 204 82.45 203.43 82.45C202.86 82.45 201.54 75.47 201.54 68.5C201.54 63.92 202.29 60.87 203.43 60.87Z" fill="#b4e83c"/>
<path d="M203.43 62.95C204.3 62.95 204.88 65.17 204.88 68.5C204.88 73.34 203.86 78.17 203.43 78.17C203 78.17 201.98 73.34 201.98 68.5C201.98 65.17 202.56 62.95 203.43 62.95Z" fill="#f2e226"/>
<path d="M203.43 65.9C203.87 65.9 204.16 66.94 204.16 68.5C204.16 70.41 203.65 72.33 203.43 72.33C203.21 72.33 202.7 70.41 202.7 68.5C202.7 66.94 202.99 65.9 203.43 65.9Z" fill="#f59a26"/>
</g>
<rect x="211.26" y="80" width="7.2" height="36" fill="#e4e4f9" stroke="#8282e6" stroke-width="0.7"/>
<path d="M212.36 80V116M217.36 80V116M213.86 80V116M215.86 80V116" stroke="#9898ec" stroke-width="0.5"/>
<path d="M214.86 80C215.88 80 216.56 82.04 216.56 85.1C216.56 91.05 215.37 97 214.86 97C214.35 97 213.16 91.05 213.16 85.1C213.16 82.04 213.84 80 214.86 80Z" fill="#3a9af0" opacity="0.8"/>
<ellipse cx="214.86" cy="118.8" rx="5.1" ry="7.9" fill="#e4e4f9" stroke="#9090ea" stroke-width="0.6"/>
<g filter="url(#bl03)">
<ellipse cx="214.86" cy="118.8" rx="4.4" ry="7" fill="#5566ee" stroke="#2434e6" stroke-width="0.6"/>
<ellipse cx="214.86" cy="118.8" rx="3.06" ry="5.94" fill="#2e94f2" stroke="#2a5cf0" stroke-width="0.4"/>
<ellipse cx="214.86" cy="118.8" rx="2.42" ry="5.04" fill="#2ee2f0"/>
<ellipse cx="214.86" cy="118.8" rx="2.02" ry="4.24" fill="#4fe68c"/>
<ellipse cx="214.86" cy="118.8" rx="1.53" ry="3.14" fill="#b4e83c"/>
<ellipse cx="214.86" cy="118.8" rx="0.7" ry="1.4" fill="#f2e226"/>
</g>
<path d="M214.86 51.7C217.86 51.7 219.86 57.22 219.86 65.5C219.86 77.55 216.36 89.6 214.86 89.6C213.36 89.6 209.86 77.55 209.86 65.5C209.86 57.22 211.86 51.7 214.86 51.7Z" fill="#e4e4f9" stroke="#9090ea" stroke-width="0.6"/>
<g filter="url(#bl03)">
<path d="M214.86 53.3C217.44 53.3 219.16 58.18 219.16 65.5C219.16 76.75 216.15 88 214.86 88C213.57 88 210.56 76.75 210.56 65.5C210.56 58.18 212.28 53.3 214.86 53.3Z" fill="#5566ee" stroke="#2434e6" stroke-width="0.6"/>
<path d="M214.86 54.74C216.91 54.74 218.27 59.05 218.27 65.5C218.27 76.09 215.88 86.69 214.86 86.69C213.84 86.69 211.45 76.09 211.45 65.5C211.45 59.05 212.81 54.74 214.86 54.74Z" fill="#2e94f2" stroke="#2a5cf0" stroke-width="0.4"/>
<path d="M214.86 56.15C216.47 56.15 217.54 59.89 217.54 65.5C217.54 75.25 215.66 85 214.86 85C214.06 85 212.18 75.25 212.18 65.5C212.18 59.89 213.25 56.15 214.86 56.15Z" fill="#2ee2f0"/>
<path d="M214.86 57.2C216.19 57.2 217.07 60.52 217.07 65.5C217.07 73.94 215.52 82.38 214.86 82.38C214.2 82.38 212.65 73.94 212.65 65.5C212.65 60.52 213.53 57.2 214.86 57.2Z" fill="#4fe68c"/>
<path d="M214.86 58.34C216 58.34 216.75 61.21 216.75 65.5C216.75 72.47 215.43 79.45 214.86 79.45C214.29 79.45 212.97 72.47 212.97 65.5C212.97 61.21 213.72 58.34 214.86 58.34Z" fill="#b4e83c"/>
<path d="M214.86 60.29C215.73 60.29 216.31 62.38 216.31 65.5C216.31 70.34 215.29 75.17 214.86 75.17C214.43 75.17 213.41 70.34 213.41 65.5C213.41 62.38 213.99 60.29 214.86 60.29Z" fill="#f2e226"/>
<path d="M214.86 63.06C215.3 63.06 215.59 64.04 215.59 65.5C215.59 67.41 215.08 69.33 214.86 69.33C214.64 69.33 214.13 67.41 214.13 65.5C214.13 64.04 214.42 63.06 214.86 63.06Z" fill="#f59a26"/>
</g>
<rect x="222.69" y="77" width="7.2" height="39" fill="#e4e4f9" stroke="#8282e6" stroke-width="0.7"/>
<path d="M223.79 77V116M228.79 77V116M225.29 77V116M227.29 77V116" stroke="#9898ec" stroke-width="0.5"/>
<path d="M226.29 77C227.31 77 227.99 79.04 227.99 82.1C227.99 88.05 226.8 94 226.29 94C225.78 94 224.59 88.05 224.59 82.1C224.59 79.04 225.27 77 226.29 77Z" fill="#3a9af0" opacity="0.8"/>
<ellipse cx="226.29" cy="118.8" rx="5.1" ry="7.9" fill="#e4e4f9" stroke="#9090ea" stroke-width="0.6"/>
<g filter="url(#bl03)">
<ellipse cx="226.29" cy="118.8" rx="4.4" ry="7" fill="#5566ee" stroke="#2434e6" stroke-width="0.6"/>
<ellipse cx="226.29" cy="118.8" rx="3.06" ry="5.94" fill="#2e94f2" stroke="#2a5cf0" stroke-width="0.4"/>
<ellipse cx="226.29" cy="118.8" rx="2.42" ry="5.04" fill="#2ee2f0"/>
<ellipse cx="226.29" cy="118.8" rx="2.02" ry="4.24" fill="#4fe68c"/>
<ellipse cx="226.29" cy="118.8" rx="1.53" ry="3.14" fill="#b4e83c"/>
<ellipse cx="226.29" cy="118.8" rx="0.7" ry="1.4" fill="#f2e226"/>
</g>
<path d="M226.29 50.4C229.29 50.4 231.29 56.04 231.29 64.5C231.29 75.55 227.79 86.6 226.29 86.6C224.79 86.6 221.29 75.55 221.29 64.5C221.29 56.04 223.29 50.4 226.29 50.4Z" fill="#e4e4f9" stroke="#9090ea" stroke-width="0.6"/>
<g filter="url(#bl03)">
<path d="M226.29 52C228.87 52 230.59 57 230.59 64.5C230.59 74.75 227.58 85 226.29 85C225 85 221.99 74.75 221.99 64.5C221.99 57 223.71 52 226.29 52Z" fill="#5566ee" stroke="#2434e6" stroke-width="0.6"/>
<path d="M226.29 53.48C228.34 53.48 229.7 57.89 229.7 64.5C229.7 74.15 227.31 83.8 226.29 83.8C225.27 83.8 222.88 74.15 222.88 64.5C222.88 57.89 224.24 53.48 226.29 53.48Z" fill="#2e94f2" stroke="#2a5cf0" stroke-width="0.4"/>
<path d="M226.29 54.92C227.9 54.92 228.97 58.75 228.97 64.5C228.97 73.38 227.09 82.27 226.29 82.27C225.49 82.27 223.61 73.38 223.61 64.5C223.61 58.75 224.68 54.92 226.29 54.92Z" fill="#2ee2f0"/>
<path d="M226.29 56C227.62 56 228.5 59.4 228.5 64.5C228.5 72.19 226.95 79.88 226.29 79.88C225.63 79.88 224.08 72.19 224.08 64.5C224.08 59.4 224.96 56 226.29 56Z" fill="#4fe68c"/>
<path d="M226.29 57.17C227.43 57.17 228.18 60.1 228.18 64.5C228.18 70.85 226.86 77.21 226.29 77.21C225.72 77.21 224.4 70.85 224.4 64.5C224.4 60.1 225.15 57.17 226.29 57.17Z" fill="#b4e83c"/>
<path d="M226.29 59.17C227.16 59.17 227.74 61.3 227.74 64.5C227.74 68.91 226.72 73.31 226.29 73.31C225.86 73.31 224.84 68.91 224.84 64.5C224.84 61.3 225.42 59.17 226.29 59.17Z" fill="#f2e226"/>
<path d="M226.29 62C226.73 62 227.02 63 227.02 64.5C227.02 66.24 226.51 67.98 226.29 67.98C226.07 67.98 225.56 66.24 225.56 64.5C225.56 63 225.85 62 226.29 62Z" fill="#f59a26"/>
</g>
<rect x="234.12" y="74" width="7.2" height="42" fill="#e4e4f9" stroke="#8282e6" stroke-width="0.7"/>
<path d="M235.22 74V116M240.22 74V116M236.72 74V116M238.72 74V116" stroke="#9898ec" stroke-width="0.5"/>
<path d="M237.72 74C238.74 74 239.42 76.04 239.42 79.1C239.42 85.05 238.23 91 237.72 91C237.21 91 236.02 85.05 236.02 79.1C236.02 76.04 236.7 74 237.72 74Z" fill="#3a9af0" opacity="0.8"/>
<ellipse cx="237.72" cy="118.8" rx="5.1" ry="7.9" fill="#e4e4f9" stroke="#9090ea" stroke-width="0.6"/>
<g filter="url(#bl03)">
<ellipse cx="237.72" cy="118.8" rx="4.4" ry="7" fill="#5566ee" stroke="#2434e6" stroke-width="0.6"/>
<ellipse cx="237.72" cy="118.8" rx="3.06" ry="5.94" fill="#2e94f2" stroke="#2a5cf0" stroke-width="0.4"/>
<ellipse cx="237.72" cy="118.8" rx="2.42" ry="5.04" fill="#2ee2f0"/>
<ellipse cx="237.72" cy="118.8" rx="2.02" ry="4.24" fill="#4fe68c"/>
<ellipse cx="237.72" cy="118.8" rx="1.53" ry="3.14" fill="#b4e83c"/>
<ellipse cx="237.72" cy="118.8" rx="0.7" ry="1.4" fill="#f2e226"/>
</g>
<path d="M237.72 48.9C240.72 48.9 242.72 54.54 242.72 63C242.72 73.3 239.22 83.6 237.72 83.6C236.22 83.6 232.72 73.3 232.72 63C232.72 54.54 234.72 48.9 237.72 48.9Z" fill="#e4e4f9" stroke="#9090ea" stroke-width="0.6"/>
<g filter="url(#bl03)">
<path d="M237.72 50.5C240.3 50.5 242.02 55.5 242.02 63C242.02 72.5 239.01 82 237.72 82C236.43 82 233.42 72.5 233.42 63C233.42 55.5 235.14 50.5 237.72 50.5Z" fill="#5566ee" stroke="#2434e6" stroke-width="0.6"/>
<path d="M237.72 51.75C239.84 51.75 241.25 56.25 241.25 63C241.25 72.03 238.78 81.05 237.72 81.05C236.66 81.05 234.19 72.03 234.19 63C234.19 56.25 235.6 51.75 237.72 51.75Z" fill="#2e94f2" stroke="#2a5cf0" stroke-width="0.4"/>
<path d="M237.72 53.12C239.42 53.12 240.56 57.08 240.56 63C240.56 71.55 238.57 80.1 237.72 80.1C236.87 80.1 234.88 71.55 234.88 63C234.88 57.08 236.02 53.12 237.72 53.12Z" fill="#2ee2f0"/>
<path d="M237.72 54C239.14 54 240.09 57.6 240.09 63C240.09 70.6 238.43 78.2 237.72 78.2C237.01 78.2 235.35 70.6 235.35 63C235.35 57.6 236.3 54 237.72 54Z" fill="#4fe68c"/>
<path d="M237.72 55C238.96 55 239.78 58.2 239.78 63C239.78 69.65 238.34 76.3 237.72 76.3C237.1 76.3 235.66 69.65 235.66 63C235.66 58.2 236.48 55 237.72 55Z" fill="#b4e83c"/>
<path d="M237.72 56C238.8 56 239.53 58.8 239.53 63C239.53 68.51 238.26 74.02 237.72 74.02C237.18 74.02 235.91 68.51 235.91 63C235.91 58.8 236.64 56 237.72 56Z" fill="#f2e226"/>
<path d="M237.72 58C238.55 58 239.1 60 239.1 63C239.1 66.8 238.13 70.6 237.72 70.6C237.31 70.6 236.34 66.8 236.34 63C236.34 60 236.89 58 237.72 58Z" fill="#f59a26"/>
<path d="M237.72 60.5C238.16 60.5 238.45 61.5 238.45 63C238.45 64.62 237.94 66.23 237.72 66.23C237.5 66.23 236.99 64.62 236.99 63C236.99 61.5 237.28 60.5 237.72 60.5Z" fill="#e83a1e"/>
</g>
<rect x="245.55" y="73" width="7.2" height="43" fill="#e4e4f9" stroke="#8282e6" stroke-width="0.7"/>
<path d="M246.65 73V116M251.65 73V116M248.15 73V116M250.15 73V116" stroke="#9898ec" stroke-width="0.5"/>
<path d="M249.15 73C250.17 73 250.85 75.04 250.85 78.1C250.85 84.05 249.66 90 249.15 90C248.64 90 247.45 84.05 247.45 78.1C247.45 75.04 248.13 73 249.15 73Z" fill="#3a9af0" opacity="0.8"/>
<ellipse cx="249.15" cy="118.8" rx="5.1" ry="7.9" fill="#e4e4f9" stroke="#9090ea" stroke-width="0.6"/>
<g filter="url(#bl03)">
<ellipse cx="249.15" cy="118.8" rx="4.4" ry="7" fill="#5566ee" stroke="#2434e6" stroke-width="0.6"/>
<ellipse cx="249.15" cy="118.8" rx="3.06" ry="5.94" fill="#2e94f2" stroke="#2a5cf0" stroke-width="0.4"/>
<ellipse cx="249.15" cy="118.8" rx="2.42" ry="5.04" fill="#2ee2f0"/>
<ellipse cx="249.15" cy="118.8" rx="2.02" ry="4.24" fill="#4fe68c"/>
<ellipse cx="249.15" cy="118.8" rx="1.53" ry="3.14" fill="#b4e83c"/>
<ellipse cx="249.15" cy="118.8" rx="0.7" ry="1.4" fill="#f2e226"/>
</g>
<path d="M249.15 48.4C252.15 48.4 254.15 54.24 254.15 63C254.15 72.8 250.65 82.6 249.15 82.6C247.65 82.6 244.15 72.8 244.15 63C244.15 54.24 246.15 48.4 249.15 48.4Z" fill="#e4e4f9" stroke="#9090ea" stroke-width="0.6"/>
<g filter="url(#bl03)">
<path d="M249.15 50C251.73 50 253.45 55.2 253.45 63C253.45 72 250.44 81 249.15 81C247.86 81 244.85 72 244.85 63C244.85 55.2 246.57 50 249.15 50Z" fill="#5566ee" stroke="#2434e6" stroke-width="0.6"/>
<path d="M249.15 51.3C251.27 51.3 252.68 55.98 252.68 63C252.68 71.55 250.21 80.1 249.15 80.1C248.09 80.1 245.62 71.55 245.62 63C245.62 55.98 247.03 51.3 249.15 51.3Z" fill="#2e94f2" stroke="#2a5cf0" stroke-width="0.4"/>
<path d="M249.15 52.73C250.85 52.73 251.99 56.84 251.99 63C251.99 71.1 250 79.2 249.15 79.2C248.3 79.2 246.31 71.1 246.31 63C246.31 56.84 247.45 52.73 249.15 52.73Z" fill="#2ee2f0"/>
<path d="M249.15 53.64C250.57 53.64 251.52 57.38 251.52 63C251.52 70.2 249.86 77.4 249.15 77.4C248.44 77.4 246.78 70.2 246.78 63C246.78 57.38 247.73 53.64 249.15 53.64Z" fill="#4fe68c"/>
<path d="M249.15 54.68C250.39 54.68 251.21 58.01 251.21 63C251.21 69.3 249.77 75.6 249.15 75.6C248.53 75.6 247.09 69.3 247.09 63C247.09 58.01 247.91 54.68 249.15 54.68Z" fill="#b4e83c"/>
<path d="M249.15 55.72C250.23 55.72 250.96 58.63 250.96 63C250.96 68.22 249.69 73.44 249.15 73.44C248.61 73.44 247.34 68.22 247.34 63C247.34 58.63 248.07 55.72 249.15 55.72Z" fill="#f2e226"/>
<path d="M249.15 57.8C249.98 57.8 250.53 59.88 250.53 63C250.53 66.6 249.56 70.2 249.15 70.2C248.74 70.2 247.77 66.6 247.77 63C247.77 59.88 248.32 57.8 249.15 57.8Z" fill="#f59a26"/>
<path d="M249.15 60.4C249.59 60.4 249.88 61.44 249.88 63C249.88 64.53 249.37 66.06 249.15 66.06C248.93 66.06 248.42 64.53 248.42 63C248.42 61.44 248.71 60.4 249.15 60.4Z" fill="#e83a1e"/>
</g>
<rect x="256.98" y="72" width="7.2" height="44" fill="#e4e4f9" stroke="#8282e6" stroke-width="0.7"/>
<path d="M258.08 72V116M263.08 72V116M259.58 72V116M261.58 72V116" stroke="#9898ec" stroke-width="0.5"/>
<path d="M260.58 72C261.6 72 262.28 74.04 262.28 77.1C262.28 83.05 261.09 89 260.58 89C260.07 89 258.88 83.05 258.88 77.1C258.88 74.04 259.56 72 260.58 72Z" fill="#3a9af0" opacity="0.8"/>
<ellipse cx="260.58" cy="118.8" rx="5.1" ry="7.9" fill="#e4e4f9" stroke="#9090ea" stroke-width="0.6"/>
<g filter="url(#bl03)">
<ellipse cx="260.58" cy="118.8" rx="4.4" ry="7" fill="#5566ee" stroke="#2434e6" stroke-width="0.6"/>
<ellipse cx="260.58" cy="118.8" rx="3.06" ry="5.94" fill="#2e94f2" stroke="#2a5cf0" stroke-width="0.4"/>
<ellipse cx="260.58" cy="118.8" rx="2.42" ry="5.04" fill="#2ee2f0"/>
<ellipse cx="260.58" cy="118.8" rx="2.02" ry="4.24" fill="#4fe68c"/>
<ellipse cx="260.58" cy="118.8" rx="1.53" ry="3.14" fill="#b4e83c"/>
<ellipse cx="260.58" cy="118.8" rx="0.7" ry="1.4" fill="#f2e226"/>
</g>
<path d="M260.58 47.9C263.58 47.9 265.58 53.74 265.58 62.5C265.58 72.05 262.08 81.6 260.58 81.6C259.08 81.6 255.58 72.05 255.58 62.5C255.58 53.74 257.58 47.9 260.58 47.9Z" fill="#e4e4f9" stroke="#9090ea" stroke-width="0.6"/>
<g filter="url(#bl03)">
<path d="M260.58 49.5C263.16 49.5 264.88 54.7 264.88 62.5C264.88 71.25 261.87 80 260.58 80C259.29 80 256.28 71.25 256.28 62.5C256.28 54.7 258 49.5 260.58 49.5Z" fill="#5566ee" stroke="#2434e6" stroke-width="0.6"/>
<path d="M260.58 50.8C262.7 50.8 264.11 55.48 264.11 62.5C264.11 70.81 261.64 79.12 260.58 79.12C259.52 79.12 257.05 70.81 257.05 62.5C257.05 55.48 258.46 50.8 260.58 50.8Z" fill="#2e94f2" stroke="#2a5cf0" stroke-width="0.4"/>
<path d="M260.58 52.23C262.28 52.23 263.42 56.34 263.42 62.5C263.42 70.38 261.43 78.25 260.58 78.25C259.73 78.25 257.74 70.38 257.74 62.5C257.74 56.34 258.88 52.23 260.58 52.23Z" fill="#2ee2f0"/>
<path d="M260.58 53.14C262 53.14 262.94 56.88 262.94 62.5C262.94 69.5 261.29 76.5 260.58 76.5C259.87 76.5 258.21 69.5 258.21 62.5C258.21 56.88 259.16 53.14 260.58 53.14Z" fill="#4fe68c"/>
<path d="M260.58 54.18C261.82 54.18 262.64 57.51 262.64 62.5C262.64 68.62 261.2 74.75 260.58 74.75C259.96 74.75 258.52 68.62 258.52 62.5C258.52 57.51 259.34 54.18 260.58 54.18Z" fill="#b4e83c"/>
<path d="M260.58 55.22C261.66 55.22 262.39 58.13 262.39 62.5C262.39 67.58 261.12 72.65 260.58 72.65C260.04 72.65 258.77 67.58 258.77 62.5C258.77 58.13 259.5 55.22 260.58 55.22Z" fill="#f2e226"/>
<path d="M260.58 57.3C261.41 57.3 261.96 59.38 261.96 62.5C261.96 66 260.99 69.5 260.58 69.5C260.17 69.5 259.2 66 259.2 62.5C259.2 59.38 259.75 57.3 260.58 57.3Z" fill="#f59a26"/>
<path d="M260.58 59.9C261.02 59.9 261.31 60.94 261.31 62.5C261.31 63.99 260.8 65.47 260.58 65.47C260.36 65.47 259.85 63.99 259.85 62.5C259.85 60.94 260.14 59.9 260.58 59.9Z" fill="#e83a1e"/>
</g>
<rect x="268.41" y="72" width="7.2" height="44" fill="#e4e4f9" stroke="#8282e6" stroke-width="0.7"/>
<path d="M269.51 72V116M274.51 72V116M271.01 72V116M273.01 72V116" stroke="#9898ec" stroke-width="0.5"/>
<path d="M272.01 72C273.03 72 273.71 74.04 273.71 77.1C273.71 83.05 272.52 89 272.01 89C271.5 89 270.31 83.05 270.31 77.1C270.31 74.04 270.99 72 272.01 72Z" fill="#3a9af0" opacity="0.8"/>
<ellipse cx="272.01" cy="118.8" rx="5.1" ry="7.9" fill="#e4e4f9" stroke="#9090ea" stroke-width="0.6"/>
<g filter="url(#bl03)">
<ellipse cx="272.01" cy="118.8" rx="4.4" ry="7" fill="#5566ee" stroke="#2434e6" stroke-width="0.6"/>
<ellipse cx="272.01" cy="118.8" rx="3.06" ry="5.94" fill="#2e94f2" stroke="#2a5cf0" stroke-width="0.4"/>
<ellipse cx="272.01" cy="118.8" rx="2.42" ry="5.04" fill="#2ee2f0"/>
<ellipse cx="272.01" cy="118.8" rx="2.02" ry="4.24" fill="#4fe68c"/>
<ellipse cx="272.01" cy="118.8" rx="1.53" ry="3.14" fill="#b4e83c"/>
<ellipse cx="272.01" cy="118.8" rx="0.7" ry="1.4" fill="#f2e226"/>
</g>
<path d="M272.01 47.6C275.01 47.6 277.01 53.56 277.01 62.5C277.01 72.05 273.51 81.6 272.01 81.6C270.51 81.6 267.01 72.05 267.01 62.5C267.01 53.56 269.01 47.6 272.01 47.6Z" fill="#e4e4f9" stroke="#9090ea" stroke-width="0.6"/>
<g filter="url(#bl03)">
<path d="M272.01 49.2C274.59 49.2 276.31 54.52 276.31 62.5C276.31 71.25 273.3 80 272.01 80C270.72 80 267.71 71.25 267.71 62.5C267.71 54.52 269.43 49.2 272.01 49.2Z" fill="#5566ee" stroke="#2434e6" stroke-width="0.6"/>
<path d="M272.01 50.53C274.13 50.53 275.54 55.32 275.54 62.5C275.54 70.81 273.07 79.12 272.01 79.12C270.95 79.12 268.48 70.81 268.48 62.5C268.48 55.32 269.89 50.53 272.01 50.53Z" fill="#2e94f2" stroke="#2a5cf0" stroke-width="0.4"/>
<path d="M272.01 51.99C273.71 51.99 274.85 56.2 274.85 62.5C274.85 70.38 272.86 78.25 272.01 78.25C271.16 78.25 269.17 70.38 269.17 62.5C269.17 56.2 270.31 51.99 272.01 51.99Z" fill="#2ee2f0"/>
<path d="M272.01 52.92C273.43 52.92 274.38 56.75 274.38 62.5C274.38 69.5 272.72 76.5 272.01 76.5C271.3 76.5 269.64 69.5 269.64 62.5C269.64 56.75 270.59 52.92 272.01 52.92Z" fill="#4fe68c"/>
<path d="M272.01 53.99C273.25 53.99 274.07 57.39 274.07 62.5C274.07 68.62 272.63 74.75 272.01 74.75C271.39 74.75 269.95 68.62 269.95 62.5C269.95 57.39 270.77 53.99 272.01 53.99Z" fill="#b4e83c"/>
<path d="M272.01 55.05C273.09 55.05 273.82 58.03 273.82 62.5C273.82 67.58 272.55 72.65 272.01 72.65C271.47 72.65 270.2 67.58 270.2 62.5C270.2 58.03 270.93 55.05 272.01 55.05Z" fill="#f2e226"/>
<path d="M272.01 57.18C272.84 57.18 273.39 59.31 273.39 62.5C273.39 66 272.42 69.5 272.01 69.5C271.6 69.5 270.63 66 270.63 62.5C270.63 59.31 271.18 57.18 272.01 57.18Z" fill="#f59a26"/>
<path d="M272.01 59.84C272.45 59.84 272.74 60.9 272.74 62.5C272.74 63.99 272.23 65.47 272.01 65.47C271.79 65.47 271.28 63.99 271.28 62.5C271.28 60.9 271.57 59.84 272.01 59.84Z" fill="#e83a1e"/>
</g>
<path d="M180 17.3V139.6H283.5" fill="none" stroke="#7a7a7a" stroke-width="1"/>
<rect x="242.10" y="40.60" width="13.50" height="98.50" fill="none" stroke="#0e5214" stroke-width="2.2"/>
<text x="177.5" y="34.3" font-size="3.8" fill="#666" text-anchor="end" font-family="'Liberation Sans', sans-serif">10<tspan font-size="2.4" dy="-1.3">6</tspan></text>
<text x="177.5" y="60.3" font-size="3.8" fill="#666" text-anchor="end" font-family="'Liberation Sans', sans-serif">10<tspan font-size="2.4" dy="-1.3">5</tspan></text>
<text x="177.5" y="88.3" font-size="3.8" fill="#666" text-anchor="end" font-family="'Liberation Sans', sans-serif">10<tspan font-size="2.4" dy="-1.3">4</tspan></text>
<text x="177.5" y="119.8" font-size="3.8" fill="#666" text-anchor="end" font-family="'Liberation Sans', sans-serif">10<tspan font-size="2.4" dy="-1.3">2</tspan></text>
<text x="177.5" y="133.9" font-size="3.8" fill="#666" text-anchor="end" font-family="'Liberation Sans', sans-serif">-10<tspan font-size="2.4" dy="-1.3">1</tspan></text>
<text x="195.4" y="156.8" font-size="7.6" fill="#222" stroke="#222" stroke-width="0.08" text-anchor="middle" transform="rotate(-45 195.4 154.3)" font-family="'Liberation Sans', sans-serif">8</text>
<text x="204.6" y="154.8" font-size="7.6" fill="#222" stroke="#222" stroke-width="0.08" text-anchor="middle" transform="rotate(-45 204.6 152.3)" font-family="'Liberation Sans', sans-serif">16</text>
<text x="216.2" y="154.2" font-size="7.6" fill="#222" stroke="#222" stroke-width="0.08" text-anchor="middle" transform="rotate(-45 216.2 151.7)" font-family="'Liberation Sans', sans-serif">32</text>
<text x="226.9" y="154.2" font-size="7.6" fill="#222" stroke="#222" stroke-width="0.08" text-anchor="middle" transform="rotate(-45 226.9 151.7)" font-family="'Liberation Sans', sans-serif">64</text>
<text x="237.7" y="154.2" font-size="7.6" fill="#222" stroke="#222" stroke-width="0.08" text-anchor="middle" transform="rotate(-45 237.7 151.7)" font-family="'Liberation Sans', sans-serif">125</text>
<text x="249.8" y="154.2" font-size="7.6" fill="#222" stroke="#222" stroke-width="0.08" text-anchor="middle" transform="rotate(-45 249.8 151.7)" font-family="'Liberation Sans', sans-serif">250</text>
<text x="262.6" y="154.2" font-size="7.6" fill="#222" stroke="#222" stroke-width="0.08" text-anchor="middle" transform="rotate(-45 262.6 151.7)" font-family="'Liberation Sans', sans-serif">500</text>
<text x="276.5" y="154.8" font-size="7.6" fill="#222" stroke="#222" stroke-width="0.08" text-anchor="middle" transform="rotate(-45 276.5 152.3)" font-family="'Liberation Sans', sans-serif">1000</text>
<rect x="142.3" y="189.1" width="14.799999999999983" height="94.4" fill="#dde4de"/>
<path d="M70 232.4C72.88 232.4 74.8 240.32 74.8 252.2C74.8 261.6 71.44 271 70 271C68.56 271 65.2 261.6 65.2 252.2C65.2 240.32 67.12 232.4 70 232.4Z" fill="#e4e4f9" stroke="#9090ea" stroke-width="0.6"/>
<path d="M67 262Q70 269 73 262" fill="none" stroke="#9c9cee" stroke-width="0.5"/>
<g filter="url(#bl03)">
<ellipse cx="70" cy="263.5" rx="3" ry="5.6" fill="#5566ee" stroke="#2434e6" stroke-width="0.6"/>
<ellipse cx="70" cy="263.5" rx="1.5" ry="3.7" fill="#2e94f2" stroke="#2a5cf0" stroke-width="0.4"/>
<ellipse cx="70" cy="263.5" rx="0.48" ry="1.12" fill="#2ee2f0"/>
</g>
<g filter="url(#bl03)">
<path d="M70 234C72.52 234 74.2 241.28 74.2 252.2C74.2 259.1 71.26 266 70 266C68.74 266 65.8 259.1 65.8 252.2C65.8 241.28 67.48 234 70 234Z" fill="#5566ee" stroke="#2434e6" stroke-width="0.6"/>
<path d="M70 235.82C72.07 235.82 73.44 242.37 73.44 252.2C73.44 258.75 71.03 265.31 70 265.31C68.97 265.31 66.56 258.75 66.56 252.2C66.56 242.37 67.93 235.82 70 235.82Z" fill="#2e94f2" stroke="#2a5cf0" stroke-width="0.4"/>
<path d="M70 237.82C71.66 237.82 72.77 243.57 72.77 252.2C72.77 258.41 70.83 264.62 70 264.62C69.17 264.62 67.23 258.41 67.23 252.2C67.23 243.57 68.34 237.82 70 237.82Z" fill="#2ee2f0"/>
<path d="M70 239.1C71.39 239.1 72.31 244.34 72.31 252.2C72.31 257.72 70.69 263.24 70 263.24C69.31 263.24 67.69 257.72 67.69 252.2C67.69 244.34 68.61 239.1 70 239.1Z" fill="#4fe68c"/>
<path d="M70 240.55C71.21 240.55 72.02 245.21 72.02 252.2C72.02 257.03 70.6 261.86 70 261.86C69.4 261.86 67.98 257.03 67.98 252.2C67.98 245.21 68.79 240.55 70 240.55Z" fill="#b4e83c"/>
<path d="M70 242.01C71.06 242.01 71.76 246.08 71.76 252.2C71.76 256.2 70.53 260.2 70 260.2C69.47 260.2 68.24 256.2 68.24 252.2C68.24 246.08 68.94 242.01 70 242.01Z" fill="#f2e226"/>
<path d="M70 244.92C70.81 244.92 71.34 247.83 71.34 252.2C71.34 254.96 70.4 257.72 70 257.72C69.6 257.72 68.66 254.96 68.66 252.2C68.66 247.83 69.19 244.92 70 244.92Z" fill="#f59a26"/>
<path d="M70 248.56C70.43 248.56 70.71 250.02 70.71 252.2C70.71 253.37 70.21 254.55 70 254.55C69.79 254.55 69.29 253.37 69.29 252.2C69.29 250.02 69.57 248.56 70 248.56Z" fill="#e83a1e"/>
</g>
<path d="M81.4 226.4C84.28 226.4 86.2 234.04 86.2 245.5C86.2 258.25 82.84 271 81.4 271C79.96 271 76.6 258.25 76.6 245.5C76.6 234.04 78.52 226.4 81.4 226.4Z" fill="#e4e4f9" stroke="#9090ea" stroke-width="0.6"/>
<path d="M78.4 258Q81.4 265 84.4 258" fill="none" stroke="#9c9cee" stroke-width="0.5"/>
<g filter="url(#bl03)">
<ellipse cx="81.4" cy="263.5" rx="3" ry="5.6" fill="#5566ee" stroke="#2434e6" stroke-width="0.6"/>
<ellipse cx="81.4" cy="263.5" rx="1.5" ry="3.7" fill="#2e94f2" stroke="#2a5cf0" stroke-width="0.4"/>
<ellipse cx="81.4" cy="263.5" rx="0.48" ry="1.12" fill="#2ee2f0"/>
</g>
<g filter="url(#bl03)">
<path d="M81.4 228C83.92 228 85.6 235 85.6 245.5C85.6 253.75 82.66 262 81.4 262C80.14 262 77.2 253.75 77.2 245.5C77.2 235 78.88 228 81.4 228Z" fill="#5566ee" stroke="#2434e6" stroke-width="0.6"/>
<path d="M81.4 230.52C83.31 230.52 84.58 236.51 84.58 245.5C84.58 253.17 82.35 260.85 81.4 260.85C80.45 260.85 78.22 253.17 78.22 245.5C78.22 236.51 79.49 230.52 81.4 230.52Z" fill="#2e94f2" stroke="#2a5cf0" stroke-width="0.4"/>
<path d="M81.4 232.66C82.84 232.66 83.8 237.79 83.8 245.5C83.8 252.26 82.12 259.03 81.4 259.03C80.68 259.03 79 252.26 79 245.5C79 237.79 79.96 232.66 81.4 232.66Z" fill="#2ee2f0"/>
<path d="M81.4 234.58C82.58 234.58 83.37 238.95 83.37 245.5C83.37 251.08 81.99 256.65 81.4 256.65C80.81 256.65 79.43 251.08 79.43 245.5C79.43 238.95 80.22 234.58 81.4 234.58Z" fill="#4fe68c"/>
<path d="M81.4 237.38C82.31 237.38 82.91 240.63 82.91 245.5C82.91 249.39 81.85 253.29 81.4 253.29C80.95 253.29 79.89 249.39 79.89 245.5C79.89 240.63 80.49 237.38 81.4 237.38Z" fill="#b4e83c"/>
<path d="M81.4 242C81.83 242 82.11 243.4 82.11 245.5C82.11 246.9 81.61 248.31 81.4 248.31C81.19 248.31 80.69 246.9 80.69 245.5C80.69 243.4 80.97 242 81.4 242Z" fill="#f2e226"/>
</g>
<path d="M91 248L94.6 256M94.6 248L91 256" stroke="#3a4ae8" stroke-width="0.7"/>
<rect x="90.6" y="248" width="4.4" height="14" fill="none" stroke="#9090ea" stroke-width="0.6"/>
<ellipse cx="92.8" cy="261.8" rx="4.4" ry="7.9" fill="#e4e4f9" stroke="#9090ea" stroke-width="0.6"/>
<ellipse cx="92.8" cy="261.8" rx="3.4" ry="6.6" fill="none" stroke="#9c9cee" stroke-width="0.5"/>
<g filter="url(#bl03)">
<ellipse cx="92.8" cy="261.8" rx="3" ry="5.8" fill="#5566ee" stroke="#2434e6" stroke-width="0.6"/>
<ellipse cx="92.8" cy="261.8" rx="1.5" ry="3.83" fill="#2e94f2" stroke="#2a5cf0" stroke-width="0.4"/>
<ellipse cx="92.8" cy="261.8" rx="0.48" ry="1.16" fill="#2ee2f0"/>
</g>
<path d="M92.8 221C95.74 221 97.7 228 97.7 238.5C97.7 247.05 94.27 255.6 92.8 255.6C91.33 255.6 87.9 247.05 87.9 238.5C87.9 228 89.86 221 92.8 221Z" fill="#e4e4f9" stroke="#9090ea" stroke-width="0.6"/>
<g filter="url(#bl03)">
<path d="M92.8 222.6C95.32 222.6 97 228.96 97 238.5C97 246.25 94.06 254 92.8 254C91.54 254 88.6 246.25 88.6 238.5C88.6 228.96 90.28 222.6 92.8 222.6Z" fill="#5566ee" stroke="#2434e6" stroke-width="0.6"/>
<path d="M92.8 224.89C94.71 224.89 95.98 230.33 95.98 238.5C95.98 245.71 93.75 252.91 92.8 252.91C91.85 252.91 89.62 245.71 89.62 238.5C89.62 230.33 90.89 224.89 92.8 224.89Z" fill="#2e94f2" stroke="#2a5cf0" stroke-width="0.4"/>
<path d="M92.8 226.83C94.24 226.83 95.2 231.5 95.2 238.5C95.2 244.86 93.52 251.21 92.8 251.21C92.08 251.21 90.4 244.86 90.4 238.5C90.4 231.5 91.36 226.83 92.8 226.83Z" fill="#2ee2f0"/>
<path d="M92.8 228.58C93.98 228.58 94.77 232.55 94.77 238.5C94.77 243.74 93.39 248.98 92.8 248.98C92.21 248.98 90.83 243.74 90.83 238.5C90.83 232.55 91.62 228.58 92.8 228.58Z" fill="#4fe68c"/>
<path d="M92.8 231.12C93.71 231.12 94.31 234.07 94.31 238.5C94.31 242.16 93.25 245.82 92.8 245.82C92.35 245.82 91.29 242.16 91.29 238.5C91.29 234.07 91.89 231.12 92.8 231.12Z" fill="#b4e83c"/>
<path d="M92.8 235.32C93.23 235.32 93.51 236.59 93.51 238.5C93.51 239.82 93.01 241.13 92.8 241.13C92.59 241.13 92.09 239.82 92.09 238.5C92.09 236.59 92.37 235.32 92.8 235.32Z" fill="#f2e226"/>
</g>
<path d="M102.4 244L106 256M106 244L102.4 256" stroke="#3a4ae8" stroke-width="0.7"/>
<rect x="102" y="244" width="4.4" height="18" fill="none" stroke="#9090ea" stroke-width="0.6"/>
<ellipse cx="104.2" cy="261.8" rx="4.4" ry="7.9" fill="#e4e4f9" stroke="#9090ea" stroke-width="0.6"/>
<ellipse cx="104.2" cy="261.8" rx="3.4" ry="6.6" fill="none" stroke="#9c9cee" stroke-width="0.5"/>
<g filter="url(#bl03)">
<ellipse cx="104.2" cy="261.8" rx="3" ry="5.8" fill="#5566ee" stroke="#2434e6" stroke-width="0.6"/>
<ellipse cx="104.2" cy="261.8" rx="1.5" ry="3.83" fill="#2e94f2" stroke="#2a5cf0" stroke-width="0.4"/>
<ellipse cx="104.2" cy="261.8" rx="0.48" ry="1.16" fill="#2ee2f0"/>
</g>
<path d="M104.2 214.9C107.14 214.9 109.1 221.46 109.1 231.3C109.1 241.45 105.67 251.6 104.2 251.6C102.73 251.6 99.3 241.45 99.3 231.3C99.3 221.46 101.26 214.9 104.2 214.9Z" fill="#e4e4f9" stroke="#9090ea" stroke-width="0.6"/>
<g filter="url(#bl03)">
<path d="M104.2 216.5C106.72 216.5 108.4 222.42 108.4 231.3C108.4 240.65 105.46 250 104.2 250C102.94 250 100 240.65 100 231.3C100 222.42 101.68 216.5 104.2 216.5Z" fill="#5566ee" stroke="#2434e6" stroke-width="0.6"/>
<path d="M104.2 218.63C106.11 218.63 107.38 223.7 107.38 231.3C107.38 240 105.15 248.69 104.2 248.69C103.25 248.69 101.02 240 101.02 231.3C101.02 223.7 102.29 218.63 104.2 218.63Z" fill="#2e94f2" stroke="#2a5cf0" stroke-width="0.4"/>
<path d="M104.2 220.44C105.64 220.44 106.6 224.78 106.6 231.3C106.6 238.97 104.92 246.63 104.2 246.63C103.48 246.63 101.8 238.97 101.8 231.3C101.8 224.78 102.76 220.44 104.2 220.44Z" fill="#2ee2f0"/>
<path d="M104.2 222.06C105.38 222.06 106.17 225.76 106.17 231.3C106.17 237.62 104.79 243.94 104.2 243.94C103.61 243.94 102.23 237.62 102.23 231.3C102.23 225.76 103.02 222.06 104.2 222.06Z" fill="#4fe68c"/>
<path d="M104.2 224.43C105.11 224.43 105.71 227.18 105.71 231.3C105.71 235.71 104.65 240.13 104.2 240.13C103.75 240.13 102.69 235.71 102.69 231.3C102.69 227.18 103.29 224.43 104.2 224.43Z" fill="#b4e83c"/>
<path d="M104.2 228.34C104.63 228.34 104.91 229.52 104.91 231.3C104.91 232.89 104.41 234.48 104.2 234.48C103.99 234.48 103.49 232.89 103.49 231.3C103.49 229.52 103.77 228.34 104.2 228.34Z" fill="#f2e226"/>
</g>
<path d="M113.8 242L117.4 256M117.4 242L113.8 256" stroke="#3a4ae8" stroke-width="0.7"/>
<rect x="113.4" y="242" width="4.4" height="20" fill="none" stroke="#9090ea" stroke-width="0.6"/>
<ellipse cx="115.6" cy="261.8" rx="4.4" ry="7.9" fill="#e4e4f9" stroke="#9090ea" stroke-width="0.6"/>
<ellipse cx="115.6" cy="261.8" rx="3.4" ry="6.6" fill="none" stroke="#9c9cee" stroke-width="0.5"/>
<g filter="url(#bl03)">
<ellipse cx="115.6" cy="261.8" rx="3" ry="5.8" fill="#5566ee" stroke="#2434e6" stroke-width="0.6"/>
<ellipse cx="115.6" cy="261.8" rx="1.5" ry="3.83" fill="#2e94f2" stroke="#2a5cf0" stroke-width="0.4"/>
<ellipse cx="115.6" cy="261.8" rx="0.48" ry="1.16" fill="#2ee2f0"/>
</g>
<path d="M115.6 210.9C118.54 210.9 120.5 216.34 120.5 224.5C120.5 237.05 117.07 249.6 115.6 249.6C114.13 249.6 110.7 237.05 110.7 224.5C110.7 216.34 112.66 210.9 115.6 210.9Z" fill="#e4e4f9" stroke="#9090ea" stroke-width="0.6"/>
<g filter="url(#bl03)">
<path d="M115.6 212.5C118.12 212.5 119.8 217.3 119.8 224.5C119.8 236.25 116.86 248 115.6 248C114.34 248 111.4 236.25 111.4 224.5C111.4 217.3 113.08 212.5 115.6 212.5Z" fill="#5566ee" stroke="#2434e6" stroke-width="0.6"/>
<path d="M115.6 214.23C117.51 214.23 118.78 218.34 118.78 224.5C118.78 235.43 116.55 246.35 115.6 246.35C114.65 246.35 112.42 235.43 112.42 224.5C112.42 218.34 113.69 214.23 115.6 214.23Z" fill="#2e94f2" stroke="#2a5cf0" stroke-width="0.4"/>
<path d="M115.6 215.69C117.04 215.69 118 219.22 118 224.5C118 234.13 116.32 243.77 115.6 243.77C114.88 243.77 113.2 234.13 113.2 224.5C113.2 219.22 114.16 215.69 115.6 215.69Z" fill="#2ee2f0"/>
<path d="M115.6 217.01C116.78 217.01 117.57 220.01 117.57 224.5C117.57 232.44 116.19 240.39 115.6 240.39C115.01 240.39 113.63 232.44 113.63 224.5C113.63 220.01 114.42 217.01 115.6 217.01Z" fill="#4fe68c"/>
<path d="M115.6 218.93C116.51 218.93 117.11 221.16 117.11 224.5C117.11 230.05 116.05 235.59 115.6 235.59C115.15 235.59 114.09 230.05 114.09 224.5C114.09 221.16 114.69 218.93 115.6 218.93Z" fill="#b4e83c"/>
<path d="M115.6 222.1C116.03 222.1 116.31 223.06 116.31 224.5C116.31 226.5 115.81 228.5 115.6 228.5C115.39 228.5 114.89 226.5 114.89 224.5C114.89 223.06 115.17 222.1 115.6 222.1Z" fill="#f2e226"/>
</g>
<path d="M125.2 240L128.8 256M128.8 240L125.2 256" stroke="#3a4ae8" stroke-width="0.7"/>
<rect x="124.8" y="240" width="4.4" height="22" fill="none" stroke="#9090ea" stroke-width="0.6"/>
<ellipse cx="127" cy="261.8" rx="4.4" ry="7.9" fill="#e4e4f9" stroke="#9090ea" stroke-width="0.6"/>
<ellipse cx="127" cy="261.8" rx="3.4" ry="6.6" fill="none" stroke="#9c9cee" stroke-width="0.5"/>
<g filter="url(#bl03)">
<ellipse cx="127" cy="261.8" rx="3" ry="5.8" fill="#5566ee" stroke="#2434e6" stroke-width="0.6"/>
<ellipse cx="127" cy="261.8" rx="1.5" ry="3.83" fill="#2e94f2" stroke="#2a5cf0" stroke-width="0.4"/>
<ellipse cx="127" cy="261.8" rx="0.48" ry="1.16" fill="#2ee2f0"/>
</g>
<path d="M127 203.9C129.94 203.9 131.9 209.78 131.9 218.6C131.9 233.1 128.47 247.6 127 247.6C125.53 247.6 122.1 233.1 122.1 218.6C122.1 209.78 124.06 203.9 127 203.9Z" fill="#e4e4f9" stroke="#9090ea" stroke-width="0.6"/>
<g filter="url(#bl03)">
<path d="M127 205.5C129.52 205.5 131.2 210.74 131.2 218.6C131.2 232.3 128.26 246 127 246C125.74 246 122.8 232.3 122.8 218.6C122.8 210.74 124.48 205.5 127 205.5Z" fill="#5566ee" stroke="#2434e6" stroke-width="0.6"/>
<path d="M127 207.05C129 207.05 130.33 211.67 130.33 218.6C130.33 231.5 128 244.4 127 244.4C126 244.4 123.67 231.5 123.67 218.6C123.67 211.67 125 207.05 127 207.05Z" fill="#2e94f2" stroke="#2a5cf0" stroke-width="0.4"/>
<path d="M127 208.56C128.57 208.56 129.62 212.57 129.62 218.6C129.62 230.47 127.79 242.35 127 242.35C126.21 242.35 124.38 230.47 124.38 218.6C124.38 212.57 125.43 208.56 127 208.56Z" fill="#2ee2f0"/>
<path d="M127 209.69C128.3 209.69 129.16 213.26 129.16 218.6C129.16 228.88 127.65 239.15 127 239.15C126.35 239.15 124.84 228.88 124.84 218.6C124.84 213.26 125.7 209.69 127 209.69Z" fill="#4fe68c"/>
<path d="M127 210.91C128.11 210.91 128.85 213.99 128.85 218.6C128.85 227.09 127.55 235.59 127 235.59C126.45 235.59 125.15 227.09 125.15 218.6C125.15 213.99 125.89 210.91 127 210.91Z" fill="#b4e83c"/>
<path d="M127 213.01C127.85 213.01 128.41 215.25 128.41 218.6C128.41 224.49 127.42 230.38 127 230.38C126.58 230.38 125.59 224.49 125.59 218.6C125.59 215.25 126.15 213.01 127 213.01Z" fill="#f2e226"/>
<path d="M127 215.98C127.43 215.98 127.71 217.03 127.71 218.6C127.71 220.93 127.21 223.26 127 223.26C126.79 223.26 126.29 220.93 126.29 218.6C126.29 217.03 126.57 215.98 127 215.98Z" fill="#f59a26"/>
</g>
<path d="M136.6 239L140.2 256M140.2 239L136.6 256" stroke="#3a4ae8" stroke-width="0.7"/>
<rect x="136.2" y="239" width="4.4" height="23" fill="none" stroke="#9090ea" stroke-width="0.6"/>
<ellipse cx="138.4" cy="261.8" rx="4.4" ry="7.9" fill="#e4e4f9" stroke="#9090ea" stroke-width="0.6"/>
<ellipse cx="138.4" cy="261.8" rx="3.4" ry="6.6" fill="none" stroke="#9c9cee" stroke-width="0.5"/>
<g filter="url(#bl03)">
<ellipse cx="138.4" cy="261.8" rx="3" ry="5.8" fill="#5566ee" stroke="#2434e6" stroke-width="0.6"/>
<ellipse cx="138.4" cy="261.8" rx="1.5" ry="3.83" fill="#2e94f2" stroke="#2a5cf0" stroke-width="0.4"/>
<ellipse cx="138.4" cy="261.8" rx="0.48" ry="1.16" fill="#2ee2f0"/>
</g>
<path d="M138.4 201.9C141.34 201.9 143.3 207.46 143.3 215.8C143.3 231.2 139.87 246.6 138.4 246.6C136.93 246.6 133.5 231.2 133.5 215.8C133.5 207.46 135.46 201.9 138.4 201.9Z" fill="#e4e4f9" stroke="#9090ea" stroke-width="0.6"/>
<g filter="url(#bl03)">
<path d="M138.4 203.5C140.92 203.5 142.6 208.42 142.6 215.8C142.6 230.4 139.66 245 138.4 245C137.14 245 134.2 230.4 134.2 215.8C134.2 208.42 135.88 203.5 138.4 203.5Z" fill="#5566ee" stroke="#2434e6" stroke-width="0.6"/>
<path d="M138.4 204.73C140.47 204.73 141.84 209.16 141.84 215.8C141.84 229.67 139.43 243.54 138.4 243.54C137.37 243.54 134.96 229.67 134.96 215.8C134.96 209.16 136.33 204.73 138.4 204.73Z" fill="#2e94f2" stroke="#2a5cf0" stroke-width="0.4"/>
<path d="M138.4 206.08C140.06 206.08 141.17 209.97 141.17 215.8C141.17 228.94 139.23 242.08 138.4 242.08C137.57 242.08 135.63 228.94 135.63 215.8C135.63 209.97 136.74 206.08 138.4 206.08Z" fill="#2ee2f0"/>
<path d="M138.4 206.94C139.79 206.94 140.71 210.49 140.71 215.8C140.71 227.48 139.09 239.16 138.4 239.16C137.71 239.16 136.09 227.48 136.09 215.8C136.09 210.49 137.01 206.94 138.4 206.94Z" fill="#4fe68c"/>
<path d="M138.4 207.93C139.61 207.93 140.42 211.08 140.42 215.8C140.42 226.02 139 236.24 138.4 236.24C137.8 236.24 136.38 226.02 136.38 215.8C136.38 211.08 137.19 207.93 138.4 207.93Z" fill="#b4e83c"/>
<path d="M138.4 208.91C139.46 208.91 140.16 211.67 140.16 215.8C140.16 224.27 138.93 232.74 138.4 232.74C137.87 232.74 136.64 224.27 136.64 215.8C136.64 211.67 137.34 208.91 138.4 208.91Z" fill="#f2e226"/>
<path d="M138.4 210.88C139.21 210.88 139.74 212.85 139.74 215.8C139.74 221.64 138.8 227.48 138.4 227.48C138 227.48 137.06 221.64 137.06 215.8C137.06 212.85 137.59 210.88 138.4 210.88Z" fill="#f59a26"/>
<path d="M138.4 213.34C138.83 213.34 139.11 214.32 139.11 215.8C139.11 218.28 138.61 220.76 138.4 220.76C138.19 220.76 137.69 218.28 137.69 215.8C137.69 214.32 137.97 213.34 138.4 213.34Z" fill="#e83a1e"/>
</g>
<path d="M148 238L151.6 256M151.6 238L148 256" stroke="#3a4ae8" stroke-width="0.7"/>
<rect x="147.6" y="238" width="4.4" height="24" fill="none" stroke="#9090ea" stroke-width="0.6"/>
<ellipse cx="149.8" cy="261.8" rx="4.4" ry="7.9" fill="#e4e4f9" stroke="#9090ea" stroke-width="0.6"/>
<ellipse cx="149.8" cy="261.8" rx="3.4" ry="6.6" fill="none" stroke="#9c9cee" stroke-width="0.5"/>
<g filter="url(#bl03)">
<ellipse cx="149.8" cy="261.8" rx="3" ry="5.8" fill="#5566ee" stroke="#2434e6" stroke-width="0.6"/>
<ellipse cx="149.8" cy="261.8" rx="1.5" ry="3.83" fill="#2e94f2" stroke="#2a5cf0" stroke-width="0.4"/>
<ellipse cx="149.8" cy="261.8" rx="0.48" ry="1.16" fill="#2ee2f0"/>
</g>
<path d="M149.8 199.9C152.74 199.9 154.7 205.82 154.7 214.7C154.7 230.15 151.27 245.6 149.8 245.6C148.33 245.6 144.9 230.15 144.9 214.7C144.9 205.82 146.86 199.9 149.8 199.9Z" fill="#e4e4f9" stroke="#9090ea" stroke-width="0.6"/>
<g filter="url(#bl03)">
<path d="M149.8 201.5C152.32 201.5 154 206.78 154 214.7C154 229.35 151.06 244 149.8 244C148.54 244 145.6 229.35 145.6 214.7C145.6 206.78 147.28 201.5 149.8 201.5Z" fill="#5566ee" stroke="#2434e6" stroke-width="0.6"/>
<path d="M149.8 203.06C151.8 203.06 153.13 207.72 153.13 214.7C153.13 228.5 150.8 242.29 149.8 242.29C148.8 242.29 146.47 228.5 146.47 214.7C146.47 207.72 147.8 203.06 149.8 203.06Z" fill="#2e94f2" stroke="#2a5cf0" stroke-width="0.4"/>
<path d="M149.8 204.58C151.37 204.58 152.42 208.63 152.42 214.7C152.42 227.4 150.59 240.09 149.8 240.09C149.01 240.09 147.18 227.4 147.18 214.7C147.18 208.63 148.23 204.58 149.8 204.58Z" fill="#2ee2f0"/>
<path d="M149.8 205.72C151.1 205.72 151.96 209.31 151.96 214.7C151.96 225.69 150.45 236.68 149.8 236.68C149.15 236.68 147.64 225.69 147.64 214.7C147.64 209.31 148.5 205.72 149.8 205.72Z" fill="#4fe68c"/>
<path d="M149.8 206.96C150.91 206.96 151.65 210.05 151.65 214.7C151.65 223.78 150.35 232.87 149.8 232.87C149.25 232.87 147.95 223.78 147.95 214.7C147.95 210.05 148.69 206.96 149.8 206.96Z" fill="#b4e83c"/>
<path d="M149.8 209.07C150.65 209.07 151.21 211.32 151.21 214.7C151.21 221 150.22 227.3 149.8 227.3C149.38 227.3 148.39 221 148.39 214.7C148.39 211.32 148.95 209.07 149.8 209.07Z" fill="#f2e226"/>
<path d="M149.8 212.06C150.23 212.06 150.51 213.12 150.51 214.7C150.51 217.19 150.01 219.68 149.8 219.68C149.59 219.68 149.09 217.19 149.09 214.7C149.09 213.12 149.37 212.06 149.8 212.06Z" fill="#f59a26"/>
</g>
<path d="M57.9 161.5V283.5H162" fill="none" stroke="#7a7a7a" stroke-width="1"/>
<rect x="143.40" y="190.20" width="12.60" height="92.80" fill="none" stroke="#0e5214" stroke-width="2.2"/>
<text x="55.4" y="176.6" font-size="3.8" fill="#666" text-anchor="end" font-family="'Liberation Sans', sans-serif">10<tspan font-size="2.4" dy="-1.3">6</tspan></text>
<text x="55.4" y="204.3" font-size="3.8" fill="#666" text-anchor="end" font-family="'Liberation Sans', sans-serif">10<tspan font-size="2.4" dy="-1.3">5</tspan></text>
<text x="55.4" y="233.3" font-size="3.8" fill="#666" text-anchor="end" font-family="'Liberation Sans', sans-serif">10<tspan font-size="2.4" dy="-1.3">4</tspan></text>
<text x="55.4" y="263.7" font-size="3.8" fill="#666" text-anchor="end" font-family="'Liberation Sans', sans-serif">10<tspan font-size="2.4" dy="-1.3">2</tspan></text>
<text x="55.4" y="278.8" font-size="3.8" fill="#666" text-anchor="end" font-family="'Liberation Sans', sans-serif">-10<tspan font-size="2.4" dy="-1.3">1</tspan></text>
<text x="71.8" y="296.9" font-size="7.6" fill="#222" stroke="#222" stroke-width="0.08" text-anchor="middle" transform="rotate(-45 71.8 294.4)" font-family="'Liberation Sans', sans-serif">8</text>
<text x="84.2" y="296.1" font-size="7.6" fill="#222" stroke="#222" stroke-width="0.08" text-anchor="middle" transform="rotate(-45 84.2 293.6)" font-family="'Liberation Sans', sans-serif">16</text>
<text x="94.7" y="296.0" font-size="7.6" fill="#222" stroke="#222" stroke-width="0.08" text-anchor="middle" transform="rotate(-45 94.7 293.5)" font-family="'Liberation Sans', sans-serif">32</text>
<text x="105.6" y="296.3" font-size="7.6" fill="#222" stroke="#222" stroke-width="0.08" text-anchor="middle" transform="rotate(-45 105.6 293.8)" font-family="'Liberation Sans', sans-serif">64</text>
<text x="116.3" y="296.3" font-size="7.6" fill="#222" stroke="#222" stroke-width="0.08" text-anchor="middle" transform="rotate(-45 116.3 293.8)" font-family="'Liberation Sans', sans-serif">125</text>
<text x="128.2" y="296.3" font-size="7.6" fill="#222" stroke="#222" stroke-width="0.08" text-anchor="middle" transform="rotate(-45 128.2 293.8)" font-family="'Liberation Sans', sans-serif">250</text>
<text x="141.1" y="296.9" font-size="7.6" fill="#222" stroke="#222" stroke-width="0.08" text-anchor="middle" transform="rotate(-45 141.1 294.4)" font-family="'Liberation Sans', sans-serif">500</text>
<text x="153.5" y="297.3" font-size="7.6" fill="#222" stroke="#222" stroke-width="0.08" text-anchor="middle" transform="rotate(-45 153.5 294.8)" font-family="'Liberation Sans', sans-serif">1000</text>
<rect x="264.1" y="188.9" width="14.799999999999955" height="94.6" fill="#dde4de"/>
<path d="M192 253V256" stroke="#7a84ec" stroke-width="1.2" stroke-dasharray="0.8 1.2"/>
<ellipse cx="192" cy="263" rx="5" ry="8.2" fill="#e4e4f9" stroke="#9090ea" stroke-width="0.6"/>
<g filter="url(#bl03)">
<ellipse cx="192" cy="263" rx="4.3" ry="7.3" fill="#5566ee" stroke="#2434e6" stroke-width="0.6"/>
<ellipse cx="192" cy="263" rx="2.83" ry="5.99" fill="#2e94f2" stroke="#2a5cf0" stroke-width="0.4"/>
<ellipse cx="192" cy="263" rx="2.15" ry="4.82" fill="#2ee2f0"/>
<ellipse cx="192" cy="263" rx="1.68" ry="3.7" fill="#4fe68c"/>
<ellipse cx="192" cy="263" rx="0.69" ry="1.46" fill="#b4e83c"/>
</g>
<path d="M192 226.9C195 226.9 197 233.58 197 243.6C197 249.1 193.5 254.6 192 254.6C190.5 254.6 187 249.1 187 243.6C187 233.58 189 226.9 192 226.9Z" fill="#e4e4f9" stroke="#9090ea" stroke-width="0.6"/>
<g filter="url(#bl03)">
<path d="M192 228.5C194.58 228.5 196.3 234.54 196.3 243.6C196.3 248.3 193.29 253 192 253C190.71 253 187.7 248.3 187.7 243.6C187.7 234.54 189.42 228.5 192 228.5Z" fill="#5566ee" stroke="#2434e6" stroke-width="0.6"/>
<path d="M192 230.67C193.95 230.67 195.25 235.84 195.25 243.6C195.25 247.97 192.98 252.34 192 252.34C191.02 252.34 188.75 247.97 188.75 243.6C188.75 235.84 190.05 230.67 192 230.67Z" fill="#2e94f2" stroke="#2a5cf0" stroke-width="0.4"/>
<path d="M192 232.52C193.48 232.52 194.46 236.95 194.46 243.6C194.46 247.45 192.74 251.31 192 251.31C191.26 251.31 189.54 247.45 189.54 243.6C189.54 236.95 190.52 232.52 192 232.52Z" fill="#2ee2f0"/>
<path d="M192 234.18C193.21 234.18 194.01 237.95 194.01 243.6C194.01 246.78 192.6 249.95 192 249.95C191.4 249.95 189.99 246.78 189.99 243.6C189.99 237.95 190.79 234.18 192 234.18Z" fill="#4fe68c"/>
<path d="M192 236.59C192.93 236.59 193.55 239.4 193.55 243.6C193.55 245.82 192.46 248.04 192 248.04C191.54 248.04 190.45 245.82 190.45 243.6C190.45 239.4 191.07 236.59 192 236.59Z" fill="#b4e83c"/>
<path d="M192 240.58C192.44 240.58 192.73 241.79 192.73 243.6C192.73 244.4 192.22 245.2 192 245.2C191.78 245.2 191.27 244.4 191.27 243.6C191.27 241.79 191.56 240.58 192 240.58Z" fill="#f2e226"/>
</g>
<path d="M203.43 251V256" stroke="#7a84ec" stroke-width="1.2" stroke-dasharray="0.8 1.2"/>
<ellipse cx="203.43" cy="263" rx="5" ry="8.2" fill="#e4e4f9" stroke="#9090ea" stroke-width="0.6"/>
<g filter="url(#bl03)">
<ellipse cx="203.43" cy="263" rx="4.3" ry="7.3" fill="#5566ee" stroke="#2434e6" stroke-width="0.6"/>
<ellipse cx="203.43" cy="263" rx="2.99" ry="6.19" fill="#2e94f2" stroke="#2a5cf0" stroke-width="0.4"/>
<ellipse cx="203.43" cy="263" rx="2.37" ry="5.26" fill="#2ee2f0"/>
<ellipse cx="203.43" cy="263" rx="1.98" ry="4.42" fill="#4fe68c"/>
<ellipse cx="203.43" cy="263" rx="1.5" ry="3.27" fill="#b4e83c"/>
<ellipse cx="203.43" cy="263" rx="0.69" ry="1.46" fill="#f2e226"/>
</g>
<path d="M203.43 218.9C206.43 218.9 208.43 225.62 208.43 235.7C208.43 244.15 204.93 252.6 203.43 252.6C201.93 252.6 198.43 244.15 198.43 235.7C198.43 225.62 200.43 218.9 203.43 218.9Z" fill="#e4e4f9" stroke="#9090ea" stroke-width="0.6"/>
<g filter="url(#bl03)">
<path d="M203.43 220.5C206.01 220.5 207.73 226.58 207.73 235.7C207.73 243.35 204.72 251 203.43 251C202.14 251 199.13 243.35 199.13 235.7C199.13 226.58 200.85 220.5 203.43 220.5Z" fill="#5566ee" stroke="#2434e6" stroke-width="0.6"/>
<path d="M203.43 222.69C205.38 222.69 206.68 227.89 206.68 235.7C206.68 242.81 204.41 249.93 203.43 249.93C202.45 249.93 200.18 242.81 200.18 235.7C200.18 227.89 201.48 222.69 203.43 222.69Z" fill="#2e94f2" stroke="#2a5cf0" stroke-width="0.4"/>
<path d="M203.43 224.54C204.91 224.54 205.89 229.01 205.89 235.7C205.89 241.97 204.17 248.25 203.43 248.25C202.69 248.25 200.97 241.97 200.97 235.7C200.97 229.01 201.95 224.54 203.43 224.54Z" fill="#2ee2f0"/>
<path d="M203.43 226.22C204.64 226.22 205.44 230.01 205.44 235.7C205.44 240.87 204.03 246.04 203.43 246.04C202.83 246.04 201.42 240.87 201.42 235.7C201.42 230.01 202.22 226.22 203.43 226.22Z" fill="#4fe68c"/>
<path d="M203.43 228.65C204.36 228.65 204.98 231.47 204.98 235.7C204.98 239.31 203.89 242.92 203.43 242.92C202.97 242.92 201.88 239.31 201.88 235.7C201.88 231.47 202.5 228.65 203.43 228.65Z" fill="#b4e83c"/>
<path d="M203.43 232.66C203.87 232.66 204.16 233.88 204.16 235.7C204.16 237 203.65 238.3 203.43 238.3C203.21 238.3 202.7 237 202.7 235.7C202.7 233.88 202.99 232.66 203.43 232.66Z" fill="#f2e226"/>
</g>
<path d="M214.86 247V256" stroke="#7a84ec" stroke-width="1.2" stroke-dasharray="0.8 1.2"/>
<ellipse cx="214.86" cy="263" rx="5" ry="8.2" fill="#e4e4f9" stroke="#9090ea" stroke-width="0.6"/>
<g filter="url(#bl03)">
<ellipse cx="214.86" cy="263" rx="4.3" ry="7.3" fill="#5566ee" stroke="#2434e6" stroke-width="0.6"/>
<ellipse cx="214.86" cy="263" rx="2.99" ry="6.19" fill="#2e94f2" stroke="#2a5cf0" stroke-width="0.4"/>
<ellipse cx="214.86" cy="263" rx="2.37" ry="5.26" fill="#2ee2f0"/>
<ellipse cx="214.86" cy="263" rx="1.98" ry="4.42" fill="#4fe68c"/>
<ellipse cx="214.86" cy="263" rx="1.5" ry="3.27" fill="#b4e83c"/>
<ellipse cx="214.86" cy="263" rx="0.69" ry="1.46" fill="#f2e226"/>
</g>
<path d="M214.86 212.4C217.86 212.4 219.86 218.84 219.86 228.5C219.86 238.55 216.36 248.6 214.86 248.6C213.36 248.6 209.86 238.55 209.86 228.5C209.86 218.84 211.86 212.4 214.86 212.4Z" fill="#e4e4f9" stroke="#9090ea" stroke-width="0.6"/>
<g filter="url(#bl03)">
<path d="M214.86 214C217.44 214 219.16 219.8 219.16 228.5C219.16 237.75 216.15 247 214.86 247C213.57 247 210.56 237.75 210.56 228.5C210.56 219.8 212.28 214 214.86 214Z" fill="#5566ee" stroke="#2434e6" stroke-width="0.6"/>
<path d="M214.86 216.09C216.81 216.09 218.11 221.05 218.11 228.5C218.11 237.1 215.84 245.7 214.86 245.7C213.88 245.7 211.61 237.1 211.61 228.5C211.61 221.05 212.91 216.09 214.86 216.09Z" fill="#2e94f2" stroke="#2a5cf0" stroke-width="0.4"/>
<path d="M214.86 217.86C216.34 217.86 217.32 222.11 217.32 228.5C217.32 236.09 215.6 243.67 214.86 243.67C214.12 243.67 212.4 236.09 212.4 228.5C212.4 222.11 213.38 217.86 214.86 217.86Z" fill="#2ee2f0"/>
<path d="M214.86 219.45C216.07 219.45 216.87 223.07 216.87 228.5C216.87 234.75 215.46 241.01 214.86 241.01C214.26 241.01 212.85 234.75 212.85 228.5C212.85 223.07 213.65 219.45 214.86 219.45Z" fill="#4fe68c"/>
<path d="M214.86 221.77C215.79 221.77 216.41 224.46 216.41 228.5C216.41 232.87 215.32 237.23 214.86 237.23C214.4 237.23 213.31 232.87 213.31 228.5C213.31 224.46 213.93 221.77 214.86 221.77Z" fill="#b4e83c"/>
<path d="M214.86 225.6C215.3 225.6 215.59 226.76 215.59 228.5C215.59 230.07 215.08 231.65 214.86 231.65C214.64 231.65 214.13 230.07 214.13 228.5C214.13 226.76 214.42 225.6 214.86 225.6Z" fill="#f2e226"/>
</g>
<path d="M226.29 243V256" stroke="#7a84ec" stroke-width="1.2" stroke-dasharray="0.8 1.2"/>
<ellipse cx="226.29" cy="263" rx="5" ry="8.2" fill="#e4e4f9" stroke="#9090ea" stroke-width="0.6"/>
<g filter="url(#bl03)">
<ellipse cx="226.29" cy="263" rx="4.3" ry="7.3" fill="#5566ee" stroke="#2434e6" stroke-width="0.6"/>
<ellipse cx="226.29" cy="263" rx="2.99" ry="6.19" fill="#2e94f2" stroke="#2a5cf0" stroke-width="0.4"/>
<ellipse cx="226.29" cy="263" rx="2.37" ry="5.26" fill="#2ee2f0"/>
<ellipse cx="226.29" cy="263" rx="1.98" ry="4.42" fill="#4fe68c"/>
<ellipse cx="226.29" cy="263" rx="1.5" ry="3.27" fill="#b4e83c"/>
<ellipse cx="226.29" cy="263" rx="0.69" ry="1.46" fill="#f2e226"/>
</g>
<path d="M226.29 206.9C229.29 206.9 231.29 213.34 231.29 223C231.29 233.8 227.79 244.6 226.29 244.6C224.79 244.6 221.29 233.8 221.29 223C221.29 213.34 223.29 206.9 226.29 206.9Z" fill="#e4e4f9" stroke="#9090ea" stroke-width="0.6"/>
<g filter="url(#bl03)">
<path d="M226.29 208.5C228.87 208.5 230.59 214.3 230.59 223C230.59 233 227.58 243 226.29 243C225 243 221.99 233 221.99 223C221.99 214.3 223.71 208.5 226.29 208.5Z" fill="#5566ee" stroke="#2434e6" stroke-width="0.6"/>
<path d="M226.29 210.59C228.24 210.59 229.54 215.55 229.54 223C229.54 232.3 227.27 241.6 226.29 241.6C225.31 241.6 223.04 232.3 223.04 223C223.04 215.55 224.34 210.59 226.29 210.59Z" fill="#2e94f2" stroke="#2a5cf0" stroke-width="0.4"/>
<path d="M226.29 212.36C227.77 212.36 228.75 216.61 228.75 223C228.75 231.2 227.03 239.4 226.29 239.4C225.55 239.4 223.83 231.2 223.83 223C223.83 216.61 224.81 212.36 226.29 212.36Z" fill="#2ee2f0"/>
<path d="M226.29 213.95C227.5 213.95 228.3 217.57 228.3 223C228.3 229.76 226.89 236.52 226.29 236.52C225.69 236.52 224.28 229.76 224.28 223C224.28 217.57 225.08 213.95 226.29 213.95Z" fill="#4fe68c"/>
<path d="M226.29 216.27C227.22 216.27 227.84 218.96 227.84 223C227.84 227.72 226.75 232.44 226.29 232.44C225.83 232.44 224.74 227.72 224.74 223C224.74 218.96 225.36 216.27 226.29 216.27Z" fill="#b4e83c"/>
<path d="M226.29 220.1C226.73 220.1 227.02 221.26 227.02 223C227.02 224.7 226.51 226.4 226.29 226.4C226.07 226.4 225.56 224.7 225.56 223C225.56 221.26 225.85 220.1 226.29 220.1Z" fill="#f2e226"/>
</g>
<path d="M237.72 236V256" stroke="#7a84ec" stroke-width="1.2" stroke-dasharray="0.8 1.2"/>
<ellipse cx="237.72" cy="263" rx="5" ry="8.2" fill="#e4e4f9" stroke="#9090ea" stroke-width="0.6"/>
<g filter="url(#bl03)">
<ellipse cx="237.72" cy="263" rx="4.3" ry="7.3" fill="#5566ee" stroke="#2434e6" stroke-width="0.6"/>
<ellipse cx="237.72" cy="263" rx="3.1" ry="6.33" fill="#2e94f2" stroke="#2a5cf0" stroke-width="0.4"/>
<ellipse cx="237.72" cy="263" rx="2.57" ry="5.6" fill="#2ee2f0"/>
<ellipse cx="237.72" cy="263" rx="2.15" ry="4.82" fill="#4fe68c"/>
<ellipse cx="237.72" cy="263" rx="1.88" ry="4.19" fill="#b4e83c"/>
<ellipse cx="237.72" cy="263" rx="1.38" ry="2.98" fill="#f2e226"/>
<ellipse cx="237.72" cy="263" rx="0.69" ry="1.46" fill="#f59a26"/>
</g>
<path d="M237.72 202.4C240.72 202.4 242.72 208.64 242.72 218C242.72 227.8 239.22 237.6 237.72 237.6C236.22 237.6 232.72 227.8 232.72 218C232.72 208.64 234.72 202.4 237.72 202.4Z" fill="#e4e4f9" stroke="#9090ea" stroke-width="0.6"/>
<g filter="url(#bl03)">
<path d="M237.72 204C240.3 204 242.02 209.6 242.02 218C242.02 227 239.01 236 237.72 236C236.43 236 233.42 227 233.42 218C233.42 209.6 235.14 204 237.72 204Z" fill="#5566ee" stroke="#2434e6" stroke-width="0.6"/>
<path d="M237.72 205.66C239.77 205.66 241.13 210.59 241.13 218C241.13 226.47 238.74 234.95 237.72 234.95C236.7 234.95 234.31 226.47 234.31 218C234.31 210.59 235.67 205.66 237.72 205.66Z" fill="#2e94f2" stroke="#2a5cf0" stroke-width="0.4"/>
<path d="M237.72 207.27C239.33 207.27 240.4 211.56 240.4 218C240.4 225.8 238.52 233.6 237.72 233.6C236.92 233.6 235.04 225.8 235.04 218C235.04 211.56 236.11 207.27 237.72 207.27Z" fill="#2ee2f0"/>
<path d="M237.72 208.48C239.05 208.48 239.93 212.29 239.93 218C239.93 224.75 238.38 231.5 237.72 231.5C237.06 231.5 235.51 224.75 235.51 218C235.51 212.29 236.39 208.48 237.72 208.48Z" fill="#4fe68c"/>
<path d="M237.72 209.79C238.86 209.79 239.61 213.07 239.61 218C239.61 223.58 238.29 229.16 237.72 229.16C237.15 229.16 235.83 223.58 235.83 218C235.83 213.07 236.58 209.79 237.72 209.79Z" fill="#b4e83c"/>
<path d="M237.72 212.03C238.59 212.03 239.17 214.42 239.17 218C239.17 221.87 238.15 225.74 237.72 225.74C237.29 225.74 236.27 221.87 236.27 218C236.27 214.42 236.85 212.03 237.72 212.03Z" fill="#f2e226"/>
<path d="M237.72 215.2C238.16 215.2 238.45 216.32 238.45 218C238.45 219.53 237.94 221.06 237.72 221.06C237.5 221.06 236.99 219.53 236.99 218C236.99 216.32 237.28 215.2 237.72 215.2Z" fill="#f59a26"/>
</g>
<path d="M249.15 233V256" stroke="#7a84ec" stroke-width="1.2" stroke-dasharray="0.8 1.2"/>
<ellipse cx="249.15" cy="263" rx="5" ry="8.2" fill="#e4e4f9" stroke="#9090ea" stroke-width="0.6"/>
<g filter="url(#bl03)">
<ellipse cx="249.15" cy="263" rx="4.3" ry="7.3" fill="#5566ee" stroke="#2434e6" stroke-width="0.6"/>
<ellipse cx="249.15" cy="263" rx="3.1" ry="6.33" fill="#2e94f2" stroke="#2a5cf0" stroke-width="0.4"/>
<ellipse cx="249.15" cy="263" rx="2.57" ry="5.6" fill="#2ee2f0"/>
<ellipse cx="249.15" cy="263" rx="2.15" ry="4.82" fill="#4fe68c"/>
<ellipse cx="249.15" cy="263" rx="1.88" ry="4.19" fill="#b4e83c"/>
<ellipse cx="249.15" cy="263" rx="1.38" ry="2.98" fill="#f2e226"/>
<ellipse cx="249.15" cy="263" rx="0.69" ry="1.46" fill="#f59a26"/>
</g>
<path d="M249.15 198.4C252.15 198.4 254.15 204.64 254.15 214C254.15 224.3 250.65 234.6 249.15 234.6C247.65 234.6 244.15 224.3 244.15 214C244.15 204.64 246.15 198.4 249.15 198.4Z" fill="#e4e4f9" stroke="#9090ea" stroke-width="0.6"/>
<g filter="url(#bl03)">
<path d="M249.15 200C251.73 200 253.45 205.6 253.45 214C253.45 223.5 250.44 233 249.15 233C247.86 233 244.85 223.5 244.85 214C244.85 205.6 246.57 200 249.15 200Z" fill="#5566ee" stroke="#2434e6" stroke-width="0.6"/>
<path d="M249.15 201.66C251.2 201.66 252.56 206.59 252.56 214C252.56 222.95 250.17 231.89 249.15 231.89C248.13 231.89 245.74 222.95 245.74 214C245.74 206.59 247.1 201.66 249.15 201.66Z" fill="#2e94f2" stroke="#2a5cf0" stroke-width="0.4"/>
<path d="M249.15 203.27C250.76 203.27 251.83 207.56 251.83 214C251.83 222.23 249.95 230.47 249.15 230.47C248.35 230.47 246.47 222.23 246.47 214C246.47 207.56 247.54 203.27 249.15 203.27Z" fill="#2ee2f0"/>
<path d="M249.15 204.48C250.48 204.48 251.36 208.29 251.36 214C251.36 221.12 249.81 228.25 249.15 228.25C248.49 228.25 246.94 221.12 246.94 214C246.94 208.29 247.82 204.48 249.15 204.48Z" fill="#4fe68c"/>
<path d="M249.15 205.79C250.29 205.79 251.04 209.07 251.04 214C251.04 219.89 249.72 225.78 249.15 225.78C248.58 225.78 247.26 219.89 247.26 214C247.26 209.07 248.01 205.79 249.15 205.79Z" fill="#b4e83c"/>
<path d="M249.15 208.03C250.02 208.03 250.6 210.42 250.6 214C250.6 218.08 249.58 222.17 249.15 222.17C248.72 222.17 247.7 218.08 247.7 214C247.7 210.42 248.28 208.03 249.15 208.03Z" fill="#f2e226"/>
<path d="M249.15 211.2C249.59 211.2 249.88 212.32 249.88 214C249.88 215.62 249.37 217.23 249.15 217.23C248.93 217.23 248.42 215.62 248.42 214C248.42 212.32 248.71 211.2 249.15 211.2Z" fill="#f59a26"/>
</g>
<path d="M260.58 232V256" stroke="#7a84ec" stroke-width="1.2" stroke-dasharray="0.8 1.2"/>
<ellipse cx="260.58" cy="263" rx="5" ry="8.2" fill="#e4e4f9" stroke="#9090ea" stroke-width="0.6"/>
<g filter="url(#bl03)">
<ellipse cx="260.58" cy="263" rx="4.3" ry="7.3" fill="#5566ee" stroke="#2434e6" stroke-width="0.6"/>
<ellipse cx="260.58" cy="263" rx="3.1" ry="6.33" fill="#2e94f2" stroke="#2a5cf0" stroke-width="0.4"/>
<ellipse cx="260.58" cy="263" rx="2.57" ry="5.6" fill="#2ee2f0"/>
<ellipse cx="260.58" cy="263" rx="2.15" ry="4.82" fill="#4fe68c"/>
<ellipse cx="260.58" cy="263" rx="1.88" ry="4.19" fill="#b4e83c"/>
<ellipse cx="260.58" cy="263" rx="1.38" ry="2.98" fill="#f2e226"/>
<ellipse cx="260.58" cy="263" rx="0.69" ry="1.46" fill="#f59a26"/>
</g>
<path d="M260.58 196.4C263.58 196.4 265.58 202.56 265.58 211.8C265.58 222.7 262.08 233.6 260.58 233.6C259.08 233.6 255.58 222.7 255.58 211.8C255.58 202.56 257.58 196.4 260.58 196.4Z" fill="#e4e4f9" stroke="#9090ea" stroke-width="0.6"/>
<g filter="url(#bl03)">
<path d="M260.58 198C263.16 198 264.88 203.52 264.88 211.8C264.88 221.9 261.87 232 260.58 232C259.29 232 256.28 221.9 256.28 211.8C256.28 203.52 258 198 260.58 198Z" fill="#5566ee" stroke="#2434e6" stroke-width="0.6"/>
<path d="M260.58 199.63C262.63 199.63 263.99 204.5 263.99 211.8C263.99 221.31 261.6 230.82 260.58 230.82C259.56 230.82 257.17 221.31 257.17 211.8C257.17 204.5 258.53 199.63 260.58 199.63Z" fill="#2e94f2" stroke="#2a5cf0" stroke-width="0.4"/>
<path d="M260.58 201.22C262.19 201.22 263.26 205.45 263.26 211.8C263.26 220.55 261.38 229.31 260.58 229.31C259.78 229.31 257.9 220.55 257.9 211.8C257.9 205.45 258.97 201.22 260.58 201.22Z" fill="#2ee2f0"/>
<path d="M260.58 202.42C261.91 202.42 262.79 206.17 262.79 211.8C262.79 219.38 261.24 226.95 260.58 226.95C259.92 226.95 258.37 219.38 258.37 211.8C258.37 206.17 259.25 202.42 260.58 202.42Z" fill="#4fe68c"/>
<path d="M260.58 203.7C261.72 203.7 262.47 206.94 262.47 211.8C262.47 218.06 261.15 224.32 260.58 224.32C260.01 224.32 258.69 218.06 258.69 211.8C258.69 206.94 259.44 203.7 260.58 203.7Z" fill="#b4e83c"/>
<path d="M260.58 205.91C261.45 205.91 262.03 208.27 262.03 211.8C262.03 216.14 261.01 220.49 260.58 220.49C260.15 220.49 259.13 216.14 259.13 211.8C259.13 208.27 259.71 205.91 260.58 205.91Z" fill="#f2e226"/>
<path d="M260.58 209.04C261.02 209.04 261.31 210.14 261.31 211.8C261.31 213.52 260.8 215.23 260.58 215.23C260.36 215.23 259.85 213.52 259.85 211.8C259.85 210.14 260.14 209.04 260.58 209.04Z" fill="#f59a26"/>
</g>
<path d="M272.01 231V256" stroke="#7a84ec" stroke-width="1.2" stroke-dasharray="0.8 1.2"/>
<ellipse cx="272.01" cy="263" rx="5" ry="8.2" fill="#e4e4f9" stroke="#9090ea" stroke-width="0.6"/>
<g filter="url(#bl03)">
<ellipse cx="272.01" cy="263" rx="4.3" ry="7.3" fill="#5566ee" stroke="#2434e6" stroke-width="0.6"/>
<ellipse cx="272.01" cy="263" rx="3.1" ry="6.33" fill="#2e94f2" stroke="#2a5cf0" stroke-width="0.4"/>
<ellipse cx="272.01" cy="263" rx="2.57" ry="5.6" fill="#2ee2f0"/>
<ellipse cx="272.01" cy="263" rx="2.15" ry="4.82" fill="#4fe68c"/>
<ellipse cx="272.01" cy="263" rx="1.88" ry="4.19" fill="#b4e83c"/>
<ellipse cx="272.01" cy="263" rx="1.38" ry="2.98" fill="#f2e226"/>
<ellipse cx="272.01" cy="263" rx="0.69" ry="1.46" fill="#f59a26"/>
</g>
<path d="M272.01 194.4C275.01 194.4 277.01 200.84 277.01 210.5C277.01 221.55 273.51 232.6 272.01 232.6C270.51 232.6 267.01 221.55 267.01 210.5C267.01 200.84 269.01 194.4 272.01 194.4Z" fill="#e4e4f9" stroke="#9090ea" stroke-width="0.6"/>
<g filter="url(#bl03)">
<path d="M272.01 196C274.59 196 276.31 201.8 276.31 210.5C276.31 220.75 273.3 231 272.01 231C270.72 231 267.71 220.75 267.71 210.5C267.71 201.8 269.43 196 272.01 196Z" fill="#5566ee" stroke="#2434e6" stroke-width="0.6"/>
<path d="M272.01 197.45C274.13 197.45 275.54 202.67 275.54 210.5C275.54 220.24 273.07 229.97 272.01 229.97C270.95 229.97 268.48 220.24 268.48 210.5C268.48 202.67 269.89 197.45 272.01 197.45Z" fill="#2e94f2" stroke="#2a5cf0" stroke-width="0.4"/>
<path d="M272.01 199.04C273.71 199.04 274.85 203.63 274.85 210.5C274.85 219.72 272.86 228.95 272.01 228.95C271.16 228.95 269.17 219.72 269.17 210.5C269.17 203.63 270.31 199.04 272.01 199.04Z" fill="#2ee2f0"/>
<path d="M272.01 200.06C273.43 200.06 274.38 204.24 274.38 210.5C274.38 218.7 272.72 226.9 272.01 226.9C271.3 226.9 269.64 218.7 269.64 210.5C269.64 204.24 270.59 200.06 272.01 200.06Z" fill="#4fe68c"/>
<path d="M272.01 201.22C273.25 201.22 274.07 204.93 274.07 210.5C274.07 217.68 272.63 224.85 272.01 224.85C271.39 224.85 269.95 217.68 269.95 210.5C269.95 204.93 270.77 201.22 272.01 201.22Z" fill="#b4e83c"/>
<path d="M272.01 202.38C273.09 202.38 273.82 205.63 273.82 210.5C273.82 216.44 272.55 222.39 272.01 222.39C271.47 222.39 270.2 216.44 270.2 210.5C270.2 205.63 270.93 202.38 272.01 202.38Z" fill="#f2e226"/>
<path d="M272.01 204.7C272.84 204.7 273.39 207.02 273.39 210.5C273.39 214.6 272.42 218.7 272.01 218.7C271.6 218.7 270.63 214.6 270.63 210.5C270.63 207.02 271.18 204.7 272.01 204.7Z" fill="#f59a26"/>
<path d="M272.01 207.6C272.45 207.6 272.74 208.76 272.74 210.5C272.74 212.24 272.23 213.99 272.01 213.99C271.79 213.99 271.28 212.24 271.28 210.5C271.28 208.76 271.57 207.6 272.01 207.6Z" fill="#e83a1e"/>
</g>
<path d="M179.8 161.5V283.5H283.5" fill="none" stroke="#7a7a7a" stroke-width="1"/>
<rect x="265.20" y="190.00" width="12.60" height="93.00" fill="none" stroke="#0e5214" stroke-width="2.2"/>
<text x="177.3" y="176.6" font-size="3.8" fill="#666" text-anchor="end" font-family="'Liberation Sans', sans-serif">10<tspan font-size="2.4" dy="-1.3">6</tspan></text>
<text x="177.3" y="204.3" font-size="3.8" fill="#666" text-anchor="end" font-family="'Liberation Sans', sans-serif">10<tspan font-size="2.4" dy="-1.3">5</tspan></text>
<text x="177.3" y="233.3" font-size="3.8" fill="#666" text-anchor="end" font-family="'Liberation Sans', sans-serif">10<tspan font-size="2.4" dy="-1.3">4</tspan></text>
<text x="177.3" y="263.7" font-size="3.8" fill="#666" text-anchor="end" font-family="'Liberation Sans', sans-serif">10<tspan font-size="2.4" dy="-1.3">2</tspan></text>
<text x="177.3" y="278.8" font-size="3.8" fill="#666" text-anchor="end" font-family="'Liberation Sans', sans-serif">-10<tspan font-size="2.4" dy="-1.3">1</tspan></text>
<text x="194.4" y="296.9" font-size="7.6" fill="#222" stroke="#222" stroke-width="0.08" text-anchor="middle" transform="rotate(-45 194.4 294.4)" font-family="'Liberation Sans', sans-serif">8</text>
<text x="206.6" y="296.3" font-size="7.6" fill="#222" stroke="#222" stroke-width="0.08" text-anchor="middle" transform="rotate(-45 206.6 293.8)" font-family="'Liberation Sans', sans-serif">16</text>
<text x="217.7" y="296.3" font-size="7.6" fill="#222" stroke="#222" stroke-width="0.08" text-anchor="middle" transform="rotate(-45 217.7 293.8)" font-family="'Liberation Sans', sans-serif">32</text>
<text x="228.4" y="296.3" font-size="7.6" fill="#222" stroke="#222" stroke-width="0.08" text-anchor="middle" transform="rotate(-45 228.4 293.8)" font-family="'Liberation Sans', sans-serif">64</text>
<text x="239.3" y="296.3" font-size="7.6" fill="#222" stroke="#222" stroke-width="0.08" text-anchor="middle" transform="rotate(-45 239.3 293.8)" font-family="'Liberation Sans', sans-serif">125</text>
<text x="251.1" y="296.3" font-size="7.6" fill="#222" stroke="#222" stroke-width="0.08" text-anchor="middle" transform="rotate(-45 251.1 293.8)" font-family="'Liberation Sans', sans-serif">250</text>
<text x="264.5" y="296.9" font-size="7.6" fill="#222" stroke="#222" stroke-width="0.08" text-anchor="middle" transform="rotate(-45 264.5 294.4)" font-family="'Liberation Sans', sans-serif">500</text>
<text x="276.5" y="297.3" font-size="7.6" fill="#222" stroke="#222" stroke-width="0.08" text-anchor="middle" transform="rotate(-45 276.5 294.8)" font-family="'Liberation Sans', sans-serif">1000</text>
<line x1="337.7" y1="22" x2="337.7" y2="134.5" stroke="#d0d0d0" stroke-width="1"/>
<line x1="337.7" y1="134.5" x2="516.5" y2="134.5" stroke="#d0d0d0" stroke-width="1"/>
<line x1="373.4" y1="134.5" x2="373.4" y2="137.0" stroke="#d0d0d0" stroke-width="0.8"/>
<line x1="409.1" y1="134.5" x2="409.1" y2="137.0" stroke="#d0d0d0" stroke-width="0.8"/>
<line x1="444.8" y1="134.5" x2="444.8" y2="137.0" stroke="#d0d0d0" stroke-width="0.8"/>
<line x1="480.5" y1="134.5" x2="480.5" y2="137.0" stroke="#d0d0d0" stroke-width="0.8"/>
<line x1="516.2" y1="134.5" x2="516.2" y2="137.0" stroke="#d0d0d0" stroke-width="0.8"/>
<text x="330.8" y="25.3" font-size="7.4" fill="#595959" text-anchor="end" font-family="'Liberation Sans', sans-serif">30</text>
<text x="330.8" y="53.4" font-size="7.4" fill="#595959" text-anchor="end" font-family="'Liberation Sans', sans-serif">25</text>
<text x="330.8" y="81.3" font-size="7.4" fill="#595959" text-anchor="end" font-family="'Liberation Sans', sans-serif">20</text>
<text x="330.8" y="109.2" font-size="7.4" fill="#595959" text-anchor="end" font-family="'Liberation Sans', sans-serif">15</text>
<text x="330.8" y="136.8" font-size="7.4" fill="#595959" text-anchor="end" font-family="'Liberation Sans', sans-serif">10</text>
<text x="337.7" y="146.4" font-size="7.4" fill="#595959" text-anchor="middle" font-family="'Liberation Sans', sans-serif">0</text>
<text x="373.4" y="146.4" font-size="7.4" fill="#595959" text-anchor="middle" font-family="'Liberation Sans', sans-serif">200</text>
<text x="409.1" y="146.4" font-size="7.4" fill="#595959" text-anchor="middle" font-family="'Liberation Sans', sans-serif">400</text>
<text x="444.8" y="146.4" font-size="7.4" fill="#595959" text-anchor="middle" font-family="'Liberation Sans', sans-serif">600</text>
<text x="480.5" y="146.4" font-size="7.4" fill="#595959" text-anchor="middle" font-family="'Liberation Sans', sans-serif">800</text>
<text x="516.2" y="146.4" font-size="7.4" fill="#595959" text-anchor="middle" font-family="'Liberation Sans', sans-serif">1000</text>
<text x="427" y="158.1" font-size="7" fill="#595959" text-anchor="middle" font-family="'Liberation Sans', sans-serif">ng/test</text>
<text x="315" y="77.5" font-size="7" fill="#595959" text-anchor="middle" transform="rotate(-90 315 77.5) translate(0 2.4)" font-family="'Liberation Sans', sans-serif">Stain Index</text>
<path d="M339.7 111.7 L342.9 71.8 L348.8 56.0 L359.7 42.9 L381.3 34.5 L426.6 39.7 L515.9 48.6" fill="none" stroke="#f06c24" stroke-width="1.7" stroke-linejoin="round"/>
<circle cx="339.7" cy="111.7" r="3.0" fill="#f06c24"/>
<circle cx="342.9" cy="71.8" r="3.0" fill="#f06c24"/>
<circle cx="348.8" cy="56.0" r="3.0" fill="#f06c24"/>
<circle cx="359.7" cy="42.9" r="3.0" fill="#f06c24"/>
<circle cx="381.3" cy="34.5" r="3.0" fill="#f06c24"/>
<circle cx="426.6" cy="39.7" r="3.0" fill="#f06c24"/>
<circle cx="515.9" cy="48.6" r="3.0" fill="#f06c24"/>
<path d="M339.7 87.1 L342.9 56.4 L348.8 37.0 L359.7 35.2 L381.3 32.4 L426.6 29.5 L515.9 39.4" fill="none" stroke="#18587f" stroke-width="1.7" stroke-linejoin="round"/>
<circle cx="339.7" cy="87.1" r="3.0" fill="#18587f"/>
<circle cx="342.9" cy="56.4" r="3.0" fill="#18587f"/>
<circle cx="348.8" cy="37.0" r="3.0" fill="#18587f"/>
<circle cx="359.7" cy="35.2" r="3.0" fill="#18587f"/>
<circle cx="381.3" cy="32.4" r="3.0" fill="#18587f"/>
<circle cx="426.6" cy="29.5" r="3.0" fill="#18587f"/>
<circle cx="515.9" cy="39.4" r="3.0" fill="#18587f"/>
<line x1="381.1" y1="35.0" x2="381.1" y2="130.2" stroke="#1e5a24" stroke-width="2.1" stroke-dasharray="6.1 5.0"/>
<line x1="468.4" y1="86.2" x2="489.2" y2="86.2" stroke="#18587f" stroke-width="1.6"/>
<circle cx="478.6" cy="86.2" r="2.9" fill="#18587f"/>
<text x="491.6" y="88.8" font-size="7.3" fill="#595959" font-family="'Liberation Sans', sans-serif">WB</text>
<line x1="468.4" y1="99.6" x2="489.2" y2="99.6" stroke="#f06c24" stroke-width="1.6"/>
<circle cx="478.6" cy="99.6" r="2.9" fill="#f06c24"/>
<text x="491.6" y="102.2" font-size="7.3" fill="#595959" font-family="'Liberation Sans', sans-serif">PBMC</text>
<line x1="337.7" y1="172" x2="337.7" y2="280" stroke="#d0d0d0" stroke-width="1"/>
<line x1="337.7" y1="280" x2="516.5" y2="280" stroke="#d0d0d0" stroke-width="1"/>
<line x1="373.4" y1="280" x2="373.4" y2="282.5" stroke="#d0d0d0" stroke-width="0.8"/>
<line x1="409.1" y1="280" x2="409.1" y2="282.5" stroke="#d0d0d0" stroke-width="0.8"/>
<line x1="444.8" y1="280" x2="444.8" y2="282.5" stroke="#d0d0d0" stroke-width="0.8"/>
<line x1="480.5" y1="280" x2="480.5" y2="282.5" stroke="#d0d0d0" stroke-width="0.8"/>
<line x1="516.2" y1="280" x2="516.2" y2="282.5" stroke="#d0d0d0" stroke-width="0.8"/>
<text x="330.8" y="175.6" font-size="7.4" fill="#595959" text-anchor="end" font-family="'Liberation Sans', sans-serif">60</text>
<text x="330.8" y="211.3" font-size="7.4" fill="#595959" text-anchor="end" font-family="'Liberation Sans', sans-serif">40</text>
<text x="330.8" y="246.8" font-size="7.4" fill="#595959" text-anchor="end" font-family="'Liberation Sans', sans-serif">20</text>
<text x="330.8" y="282.2" font-size="7.4" fill="#595959" text-anchor="end" font-family="'Liberation Sans', sans-serif">0</text>
<text x="337.7" y="291.6" font-size="7.4" fill="#595959" text-anchor="middle" font-family="'Liberation Sans', sans-serif">0</text>
<text x="373.4" y="291.6" font-size="7.4" fill="#595959" text-anchor="middle" font-family="'Liberation Sans', sans-serif">200</text>
<text x="409.1" y="291.6" font-size="7.4" fill="#595959" text-anchor="middle" font-family="'Liberation Sans', sans-serif">400</text>
<text x="444.8" y="291.6" font-size="7.4" fill="#595959" text-anchor="middle" font-family="'Liberation Sans', sans-serif">600</text>
<text x="480.5" y="291.6" font-size="7.4" fill="#595959" text-anchor="middle" font-family="'Liberation Sans', sans-serif">800</text>
<text x="516.2" y="291.6" font-size="7.4" fill="#595959" text-anchor="middle" font-family="'Liberation Sans', sans-serif">1000</text>
<text x="427" y="303.8" font-size="7" fill="#595959" text-anchor="middle" font-family="'Liberation Sans', sans-serif">ng/test</text>
<text x="315" y="226.0" font-size="7" fill="#595959" text-anchor="middle" transform="rotate(-90 315 226.0) translate(0 2.4)" font-family="'Liberation Sans', sans-serif">Stain Index</text>
<path d="M340.3 273.6 L343.5 268.5 L349.4 263.8 L360.0 247.5 L382.4 241.6 L426.9 240.5 L516.3 243.7" fill="none" stroke="#f06c24" stroke-width="1.7" stroke-linejoin="round"/>
<circle cx="340.3" cy="273.6" r="3.0" fill="#f06c24"/>
<circle cx="343.5" cy="268.5" r="3.0" fill="#f06c24"/>
<circle cx="349.4" cy="263.8" r="3.0" fill="#f06c24"/>
<circle cx="360.0" cy="247.5" r="3.0" fill="#f06c24"/>
<circle cx="382.4" cy="241.6" r="3.0" fill="#f06c24"/>
<circle cx="426.9" cy="240.5" r="3.0" fill="#f06c24"/>
<circle cx="516.3" cy="243.7" r="3.0" fill="#f06c24"/>
<path d="M340.3 267.0 L343.5 254.8 L349.4 240.7 L360.0 219.8 L382.4 200.7 L426.9 184.4 L516.3 172.3" fill="none" stroke="#18587f" stroke-width="1.7" stroke-linejoin="round"/>
<circle cx="340.3" cy="267.0" r="3.0" fill="#18587f"/>
<circle cx="343.5" cy="254.8" r="3.0" fill="#18587f"/>
<circle cx="349.4" cy="240.7" r="3.0" fill="#18587f"/>
<circle cx="360.0" cy="219.8" r="3.0" fill="#18587f"/>
<circle cx="382.4" cy="200.7" r="3.0" fill="#18587f"/>
<circle cx="426.9" cy="184.4" r="3.0" fill="#18587f"/>
<circle cx="516.3" cy="172.3" r="3.0" fill="#18587f"/>
<line x1="516.4" y1="174.2" x2="516.4" y2="280" stroke="#1e5a24" stroke-width="2.1" stroke-dasharray="5.8 5.3"/>
<text x="11.4" y="13.8" font-size="11.6" fill="#111" stroke="#111" stroke-width="0.35" font-family="'Liberation Sans', sans-serif">A</text>
<text x="92.1" y="27.3" font-size="12.4" fill="#5c5c5c" textLength="36.3" lengthAdjust="spacingAndGlyphs" font-family="'Liberation Sans', sans-serif">PBMCs</text>
<text x="195.6" y="27.4" font-size="12.4" fill="#5c5c5c" textLength="68.4" lengthAdjust="spacingAndGlyphs" font-family="'Liberation Sans', sans-serif">Whole Blood</text>
<text x="38.3" y="137.4" font-size="11.6" fill="#111" stroke="#111" stroke-width="0.2" textLength="119" lengthAdjust="spacingAndGlyphs" transform="rotate(-90 38.3 137.4)" font-family="'Liberation Sans', sans-serif">CD45RA Alexa fluor 488</text>
<text x="38.2" y="280" font-size="11.6" fill="#111" stroke="#111" stroke-width="0.2" textLength="99.7" lengthAdjust="spacingAndGlyphs" transform="rotate(-90 38.2 280)" font-family="'Liberation Sans', sans-serif">CD3 Spark Blue 550</text>
<text x="79" y="316.2" font-size="10.4" fill="#111" stroke="#111" stroke-width="0.08" textLength="157" lengthAdjust="spacingAndGlyphs" font-family="'Liberation Sans', sans-serif">Antibody Concentration (ng/test)</text>
<text x="16.8" y="316.7" font-size="10.6" fill="#111" stroke="#111" stroke-width="0.3" font-family="'Liberation Sans', sans-serif">B</text>
<text x="25" y="339.6" font-size="13" fill="#5c5c5c" textLength="37.3" lengthAdjust="spacingAndGlyphs" font-family="'Liberation Sans', sans-serif">PBMCs</text>
<text x="27.2" y="464.2" font-size="13" fill="#5c5c5c" textLength="69.3" lengthAdjust="spacingAndGlyphs" font-family="'Liberation Sans', sans-serif">Whole Blood</text>
<text x="74.6" y="348.4" font-size="10.2" fill="#111" stroke="#111" stroke-width="0.16" textLength="51.0" lengthAdjust="spacingAndGlyphs" font-family="'Liberation Sans', sans-serif">Unstained</text>
<text x="162.7" y="348.4" font-size="10.2" fill="#111" stroke="#111" stroke-width="0.16" textLength="36.9" lengthAdjust="spacingAndGlyphs" font-family="'Liberation Sans', sans-serif">12.5 ng</text>
<text x="242.1" y="348.4" font-size="10.2" fill="#111" stroke="#111" stroke-width="0.16" textLength="27.0" lengthAdjust="spacingAndGlyphs" font-family="'Liberation Sans', sans-serif">25 ng</text>
<text x="326.4" y="348.4" font-size="10.2" fill="#111" stroke="#111" stroke-width="0.16" textLength="27.2" lengthAdjust="spacingAndGlyphs" font-family="'Liberation Sans', sans-serif">50 ng</text>
<text x="404.5" y="348.4" font-size="10.2" fill="#111" stroke="#111" stroke-width="0.16" textLength="33.2" lengthAdjust="spacingAndGlyphs" font-family="'Liberation Sans', sans-serif">100 ng</text>
<text x="481" y="348.4" font-size="10.2" fill="#111" stroke="#111" stroke-width="0.16" textLength="33.5" lengthAdjust="spacingAndGlyphs" font-family="'Liberation Sans', sans-serif">200 ng</text>
<clipPath id="c52_352"><rect x="52.6" y="352.4" width="82.4" height="86.60000000000002"/></clipPath>
<g clip-path="url(#c52_352)">
<g filter="url(#bl2)" fill="#93a0f6" opacity="0.6"><path d="M76.9 431.5L79.9 422.5L82.5 413.3L83.9 404.8L83.7 400.2L73.9 397.8L71.7 401.2L68.1 408.7L64.7 417.5L61.7 426.5Z"/><circle cx="69.3" cy="429.0" r="8.0"/><circle cx="78.8" cy="399.0" r="5.0"/></g>
<g filter="url(#bl1)" fill="#2a48f0" opacity="0.95"><path d="M74.0 430.6L77.0 421.6L79.7 412.4L81.1 404.0L80.7 399.5L76.9 398.5L74.5 402.0L70.9 409.6L67.6 418.4L64.6 427.4Z"/><circle cx="69.3" cy="429.0" r="5.0"/><circle cx="78.8" cy="399.0" r="2.0"/></g>
<path d="M69.6 399.4h0.8v0.8h-0.8zM73.4 399.7h0.8v0.8h-0.8zM79.4 392.9h0.8v0.8h-0.8zM90.2 394.9h0.8v0.8h-0.8zM82.9 399.3h0.8v0.8h-0.8zM71.8 396.6h0.8v0.8h-0.8zM78.2 373.8h0.8v0.8h-0.8zM80.9 381.2h0.8v0.8h-0.8zM79.4 398.6h0.8v0.8h-0.8zM79.4 378.3h0.8v0.8h-0.8zM83.4 379.6h0.8v0.8h-0.8zM77.8 355.3h0.8v0.8h-0.8zM75.0 401.6h0.8v0.8h-0.8zM83.3 401.4h0.8v0.8h-0.8zM71.5 396.3h0.8v0.8h-0.8zM79.8 386.4h0.8v0.8h-0.8zM71.7 363.4h0.8v0.8h-0.8zM86.3 401.6h0.8v0.8h-0.8zM77.9 392.6h0.8v0.8h-0.8zM84.8 386.5h0.8v0.8h-0.8zM80.3 391.4h0.8v0.8h-0.8zM72.1 386.2h0.8v0.8h-0.8zM84.3 401.8h0.8v0.8h-0.8zM72.2 384.1h0.8v0.8h-0.8zM76.0 395.2h0.8v0.8h-0.8zM85.4 377.1h0.8v0.8h-0.8zM76.3 384.7h0.8v0.8h-0.8zM72.4 401.0h0.8v0.8h-0.8zM65.8 362.7h0.8v0.8h-0.8zM84.5 375.3h0.8v0.8h-0.8zM67.3 366.3h0.8v0.8h-0.8zM83.4 391.9h0.8v0.8h-0.8zM75.9 395.1h0.8v0.8h-0.8zM75.6 378.1h0.8v0.8h-0.8zM76.4 370.4h0.8v0.8h-0.8zM75.9 395.2h0.8v0.8h-0.8zM79.1 396.9h0.8v0.8h-0.8zM70.9 398.5h0.8v0.8h-0.8zM73.4 367.6h0.8v0.8h-0.8zM80.9 399.5h0.8v0.8h-0.8zM73.5 386.5h0.8v0.8h-0.8zM70.7 394.2h0.8v0.8h-0.8zM78.1 390.7h0.8v0.8h-0.8zM79.7 355.8h0.8v0.8h-0.8zM72.1 401.7h0.8v0.8h-0.8zM93.1 360.9h0.8v0.8h-0.8zM73.2 398.3h0.8v0.8h-0.8zM77.2 393.0h0.8v0.8h-0.8zM74.9 393.9h0.8v0.8h-0.8zM76.6 385.0h0.8v0.8h-0.8zM64.9 382.5h0.8v0.8h-0.8zM76.3 379.3h0.8v0.8h-0.8zM70.0 388.2h0.8v0.8h-0.8zM72.4 388.0h0.8v0.8h-0.8zM80.8 395.3h0.8v0.8h-0.8zM79.3 399.7h0.8v0.8h-0.8zM67.8 401.3h0.8v0.8h-0.8zM79.0 390.4h0.8v0.8h-0.8zM75.7 385.5h0.8v0.8h-0.8zM71.0 387.9h0.8v0.8h-0.8zM87.5 389.8h0.8v0.8h-0.8zM77.2 398.7h0.8v0.8h-0.8zM85.5 395.0h0.8v0.8h-0.8zM81.7 386.8h0.8v0.8h-0.8zM76.2 401.8h0.8v0.8h-0.8zM65.6 370.3h0.8v0.8h-0.8zM81.7 363.5h0.8v0.8h-0.8z" fill="#8090f4" fill-opacity="0.7"/>
<path d="M78.0 418.9h0.8v0.8h-0.8zM67.8 423.8h0.8v0.8h-0.8zM70.6 424.9h0.8v0.8h-0.8zM77.0 411.9h0.8v0.8h-0.8zM76.2 410.4h0.8v0.8h-0.8zM65.7 413.7h0.8v0.8h-0.8zM66.7 411.2h0.8v0.8h-0.8zM74.1 423.4h0.8v0.8h-0.8zM75.5 423.5h0.8v0.8h-0.8zM81.1 401.2h0.8v0.8h-0.8zM73.1 406.7h0.8v0.8h-0.8zM74.7 425.5h0.8v0.8h-0.8zM73.9 403.7h0.8v0.8h-0.8zM72.9 406.7h0.8v0.8h-0.8zM77.4 396.3h0.8v0.8h-0.8zM67.4 405.4h0.8v0.8h-0.8zM74.9 408.9h0.8v0.8h-0.8zM65.8 425.2h0.8v0.8h-0.8zM71.4 421.6h0.8v0.8h-0.8zM77.9 399.0h0.8v0.8h-0.8zM76.5 399.7h0.8v0.8h-0.8zM72.3 404.0h0.8v0.8h-0.8zM83.7 395.6h0.8v0.8h-0.8zM83.8 404.8h0.8v0.8h-0.8zM85.5 403.5h0.8v0.8h-0.8zM68.8 419.7h0.8v0.8h-0.8zM68.9 426.6h0.8v0.8h-0.8zM79.5 424.6h0.8v0.8h-0.8zM72.5 425.3h0.8v0.8h-0.8zM83.4 397.2h0.8v0.8h-0.8zM82.4 403.5h0.8v0.8h-0.8zM78.2 399.0h0.8v0.8h-0.8zM83.0 409.1h0.8v0.8h-0.8zM74.1 423.5h0.8v0.8h-0.8zM67.4 419.0h0.8v0.8h-0.8zM78.4 417.6h0.8v0.8h-0.8zM64.4 410.7h0.8v0.8h-0.8zM71.3 401.7h0.8v0.8h-0.8zM86.5 404.8h0.8v0.8h-0.8zM84.0 395.1h0.8v0.8h-0.8zM73.1 413.7h0.8v0.8h-0.8zM78.6 404.6h0.8v0.8h-0.8zM75.3 421.8h0.8v0.8h-0.8zM74.4 425.1h0.8v0.8h-0.8zM71.5 423.9h0.8v0.8h-0.8zM77.2 394.4h0.8v0.8h-0.8zM71.1 420.3h0.8v0.8h-0.8zM80.7 414.9h0.8v0.8h-0.8zM73.6 410.4h0.8v0.8h-0.8zM70.3 425.3h0.8v0.8h-0.8zM79.3 397.7h0.8v0.8h-0.8zM77.4 392.5h0.8v0.8h-0.8zM81.6 408.1h0.8v0.8h-0.8zM84.6 388.3h0.8v0.8h-0.8zM71.8 418.9h0.8v0.8h-0.8zM70.6 398.2h0.8v0.8h-0.8zM75.7 420.5h0.8v0.8h-0.8zM85.1 387.2h0.8v0.8h-0.8zM78.5 395.4h0.8v0.8h-0.8zM75.3 408.9h0.8v0.8h-0.8zM70.9 428.3h0.8v0.8h-0.8zM82.3 401.2h0.8v0.8h-0.8zM90.9 392.7h0.8v0.8h-0.8zM75.2 416.0h0.8v0.8h-0.8zM74.9 423.9h0.8v0.8h-0.8zM82.2 391.7h0.8v0.8h-0.8zM77.8 402.3h0.8v0.8h-0.8zM83.9 400.4h0.8v0.8h-0.8zM75.3 400.3h0.8v0.8h-0.8zM74.4 403.3h0.8v0.8h-0.8zM76.4 393.9h0.8v0.8h-0.8zM79.4 391.1h0.8v0.8h-0.8zM78.1 427.7h0.8v0.8h-0.8zM83.7 402.4h0.8v0.8h-0.8zM77.8 389.4h0.8v0.8h-0.8zM76.8 407.6h0.8v0.8h-0.8zM76.8 389.1h0.8v0.8h-0.8zM71.4 395.8h0.8v0.8h-0.8zM79.6 399.5h0.8v0.8h-0.8zM74.3 420.4h0.8v0.8h-0.8zM71.6 418.4h0.8v0.8h-0.8zM76.5 396.9h0.8v0.8h-0.8zM80.4 404.2h0.8v0.8h-0.8zM74.0 393.9h0.8v0.8h-0.8zM80.8 408.5h0.8v0.8h-0.8zM81.0 420.5h0.8v0.8h-0.8zM65.7 421.6h0.8v0.8h-0.8zM73.8 410.2h0.8v0.8h-0.8zM76.8 405.6h0.8v0.8h-0.8zM76.4 409.2h0.8v0.8h-0.8zM72.5 399.0h0.8v0.8h-0.8zM82.3 397.9h0.8v0.8h-0.8zM71.4 404.8h0.8v0.8h-0.8zM72.2 403.2h0.8v0.8h-0.8zM82.1 408.1h0.8v0.8h-0.8zM82.5 394.6h0.8v0.8h-0.8zM84.4 404.9h0.8v0.8h-0.8zM76.0 424.3h0.8v0.8h-0.8zM72.1 425.6h0.8v0.8h-0.8zM79.4 396.6h0.8v0.8h-0.8zM71.3 417.1h0.8v0.8h-0.8zM81.3 416.6h0.8v0.8h-0.8zM77.6 418.2h0.8v0.8h-0.8zM84.2 409.1h0.8v0.8h-0.8zM67.8 422.7h0.8v0.8h-0.8zM75.7 417.3h0.8v0.8h-0.8zM83.5 401.5h0.8v0.8h-0.8zM79.3 411.4h0.8v0.8h-0.8zM75.3 404.5h0.8v0.8h-0.8zM83.0 383.8h0.8v0.8h-0.8zM72.1 424.1h0.8v0.8h-0.8zM78.0 400.5h0.8v0.8h-0.8zM82.2 408.9h0.8v0.8h-0.8zM79.6 423.1h0.8v0.8h-0.8zM75.8 405.2h0.8v0.8h-0.8zM70.0 422.0h0.8v0.8h-0.8zM77.9 422.8h0.8v0.8h-0.8zM86.2 401.1h0.8v0.8h-0.8zM75.1 422.1h0.8v0.8h-0.8zM64.6 412.5h0.8v0.8h-0.8zM77.5 420.0h0.8v0.8h-0.8zM75.5 419.5h0.8v0.8h-0.8zM72.9 427.7h0.8v0.8h-0.8zM74.3 413.5h0.8v0.8h-0.8zM77.6 411.5h0.8v0.8h-0.8zM71.5 426.9h0.8v0.8h-0.8zM75.1 400.0h0.8v0.8h-0.8zM77.5 409.3h0.8v0.8h-0.8zM73.9 399.0h0.8v0.8h-0.8zM74.6 399.2h0.8v0.8h-0.8zM81.6 401.9h0.8v0.8h-0.8zM77.1 392.9h0.8v0.8h-0.8zM74.1 413.3h0.8v0.8h-0.8zM79.1 424.4h0.8v0.8h-0.8zM74.6 418.9h0.8v0.8h-0.8zM83.5 393.5h0.8v0.8h-0.8zM74.0 419.3h0.8v0.8h-0.8zM78.1 413.2h0.8v0.8h-0.8zM85.4 415.6h0.8v0.8h-0.8zM76.6 415.1h0.8v0.8h-0.8zM74.0 416.0h0.8v0.8h-0.8zM69.5 413.8h0.8v0.8h-0.8zM72.7 419.8h0.8v0.8h-0.8zM77.5 419.1h0.8v0.8h-0.8zM75.5 425.9h0.8v0.8h-0.8zM68.7 416.7h0.8v0.8h-0.8zM74.1 396.0h0.8v0.8h-0.8zM76.1 397.1h0.8v0.8h-0.8zM84.4 395.4h0.8v0.8h-0.8zM85.3 405.4h0.8v0.8h-0.8zM74.2 391.4h0.8v0.8h-0.8zM82.1 400.6h0.8v0.8h-0.8zM80.0 404.2h0.8v0.8h-0.8zM70.5 394.1h0.8v0.8h-0.8zM76.3 400.4h0.8v0.8h-0.8zM74.4 428.0h0.8v0.8h-0.8zM75.2 419.9h0.8v0.8h-0.8zM72.2 401.2h0.8v0.8h-0.8zM83.7 409.5h0.8v0.8h-0.8zM72.5 400.0h0.8v0.8h-0.8zM84.0 405.2h0.8v0.8h-0.8zM76.7 419.0h0.8v0.8h-0.8zM79.9 405.5h0.8v0.8h-0.8zM75.7 392.0h0.8v0.8h-0.8zM72.5 405.1h0.8v0.8h-0.8zM75.7 403.8h0.8v0.8h-0.8zM72.4 426.6h0.8v0.8h-0.8zM73.4 415.8h0.8v0.8h-0.8zM71.1 429.3h0.8v0.8h-0.8zM75.9 399.9h0.8v0.8h-0.8z" fill="#2e4cf0" fill-opacity="0.5"/>
<g filter="url(#bl05)" transform="rotate(-20 68.3 432.0)">
<ellipse cx="68.3" cy="432.0" rx="7.20" ry="5.60" fill="#2a42ee"/>
<ellipse cx="68.3" cy="432.0" rx="6.33" ry="4.92" fill="#1e9cf2"/>
<ellipse cx="68.3" cy="432.0" rx="5.45" ry="4.24" fill="#2ee2f0"/>
<ellipse cx="68.3" cy="432.0" rx="4.58" ry="3.56" fill="#4fe68c"/>
<ellipse cx="68.3" cy="432.0" rx="3.70" ry="2.88" fill="#b4e83c"/>
<ellipse cx="68.3" cy="432.0" rx="2.83" ry="2.20" fill="#f2e226"/>
<ellipse cx="68.3" cy="432.0" rx="1.95" ry="1.52" fill="#f59a26"/>
<ellipse cx="68.3" cy="432.0" rx="1.08" ry="0.84" fill="#e83a1e"/>
</g>
</g>
<clipPath id="c135_352"><rect x="135" y="352.4" width="82" height="86.60000000000002"/></clipPath>
<g clip-path="url(#c135_352)">
<g filter="url(#bl2)" fill="#b4bcf8" opacity="0.4"><path d="M159.2 430.1L164.3 413.8L167.0 398.6L165.5 382.0L155.5 382.0L154.0 397.4L150.7 410.2L145.8 425.9Z"/><circle cx="152.5" cy="428.0" r="7.0"/><circle cx="160.5" cy="382.0" r="5.0"/></g>
<g filter="url(#bl2)" fill="#93a0f6" opacity="0.55"><path d="M158.6 431.0L161.4 424.7L164.4 417.0L165.6 410.2L165.7 403.8L156.3 402.2L154.4 407.8L152.6 413.0L149.6 419.3L146.4 425.0Z"/><circle cx="152.5" cy="428.0" r="6.8"/><circle cx="161.0" cy="403.0" r="4.8"/></g>
<g filter="url(#bl2)" fill="#93a0f6" opacity="0.55"><path d="M154.5 436.2L170.1 435.9L187.1 435.4L186.9 425.0L169.9 424.9L154.5 424.8Z"/><circle cx="154.5" cy="430.5" r="5.7"/><circle cx="187.0" cy="430.2" r="5.2"/></g>
<g filter="url(#bl1)" fill="#2a48f0" opacity="0.95"><path d="M155.9 429.7L158.7 423.5L161.5 416.0L162.6 409.6L162.8 403.3L159.2 402.7L157.4 408.4L155.5 414.0L152.3 420.5L149.1 426.3Z"/><circle cx="152.5" cy="428.0" r="3.8"/><circle cx="161.0" cy="403.0" r="1.8"/></g>
<g filter="url(#bl1)" fill="#2a48f0" opacity="0.95"><path d="M154.5 433.7L170.0 433.4L187.0 432.9L187.0 427.5L170.0 427.4L154.5 427.3Z"/><circle cx="154.5" cy="430.5" r="3.2"/><circle cx="187.0" cy="430.2" r="2.7"/></g>
<path d="M169.6 409.7h0.8v0.8h-0.8zM172.3 396.3h0.8v0.8h-0.8zM164.2 385.2h0.8v0.8h-0.8zM167.7 388.1h0.8v0.8h-0.8zM170.9 411.8h0.8v0.8h-0.8zM151.5 388.3h0.8v0.8h-0.8zM166.6 415.4h0.8v0.8h-0.8zM158.6 390.0h0.8v0.8h-0.8zM160.1 403.7h0.8v0.8h-0.8zM158.5 400.4h0.8v0.8h-0.8zM165.9 368.6h0.8v0.8h-0.8zM168.1 403.7h0.8v0.8h-0.8zM167.8 381.0h0.8v0.8h-0.8zM164.5 410.4h0.8v0.8h-0.8zM161.7 386.1h0.8v0.8h-0.8zM165.6 389.2h0.8v0.8h-0.8zM164.4 413.7h0.8v0.8h-0.8zM153.8 374.8h0.8v0.8h-0.8zM159.9 403.0h0.8v0.8h-0.8zM166.9 416.1h0.8v0.8h-0.8zM161.5 397.4h0.8v0.8h-0.8zM158.5 414.2h0.8v0.8h-0.8zM165.2 395.6h0.8v0.8h-0.8zM169.2 410.4h0.8v0.8h-0.8zM171.1 390.7h0.8v0.8h-0.8zM164.5 383.4h0.8v0.8h-0.8zM183.3 413.0h0.8v0.8h-0.8zM160.9 405.0h0.8v0.8h-0.8zM164.2 369.8h0.8v0.8h-0.8zM176.1 368.4h0.8v0.8h-0.8zM172.9 366.7h0.8v0.8h-0.8zM170.5 377.2h0.8v0.8h-0.8zM164.6 366.0h0.8v0.8h-0.8zM163.9 385.8h0.8v0.8h-0.8zM151.6 396.2h0.8v0.8h-0.8zM160.4 397.6h0.8v0.8h-0.8zM161.7 417.6h0.8v0.8h-0.8zM169.5 392.3h0.8v0.8h-0.8zM146.0 404.3h0.8v0.8h-0.8zM169.4 391.5h0.8v0.8h-0.8zM156.4 371.8h0.8v0.8h-0.8zM144.7 383.2h0.8v0.8h-0.8zM153.3 387.8h0.8v0.8h-0.8zM160.6 391.0h0.8v0.8h-0.8zM145.0 412.3h0.8v0.8h-0.8zM160.9 379.5h0.8v0.8h-0.8zM168.6 397.6h0.8v0.8h-0.8zM149.8 410.3h0.8v0.8h-0.8zM158.3 406.4h0.8v0.8h-0.8zM170.5 397.3h0.8v0.8h-0.8zM155.4 399.2h0.8v0.8h-0.8zM147.0 414.9h0.8v0.8h-0.8zM164.3 393.8h0.8v0.8h-0.8zM163.0 382.6h0.8v0.8h-0.8zM167.2 410.2h0.8v0.8h-0.8zM166.6 394.8h0.8v0.8h-0.8zM161.2 415.0h0.8v0.8h-0.8zM174.5 399.8h0.8v0.8h-0.8zM169.3 358.4h0.8v0.8h-0.8zM159.2 391.7h0.8v0.8h-0.8zM152.9 393.9h0.8v0.8h-0.8zM163.3 391.1h0.8v0.8h-0.8zM163.4 407.5h0.8v0.8h-0.8zM168.4 356.7h0.8v0.8h-0.8zM158.5 379.8h0.8v0.8h-0.8zM157.5 409.8h0.8v0.8h-0.8zM158.4 406.4h0.8v0.8h-0.8zM149.8 367.3h0.8v0.8h-0.8zM158.9 414.7h0.8v0.8h-0.8zM172.1 384.0h0.8v0.8h-0.8zM162.3 416.4h0.8v0.8h-0.8zM155.5 382.0h0.8v0.8h-0.8zM153.4 413.6h0.8v0.8h-0.8zM158.0 402.8h0.8v0.8h-0.8zM167.0 417.7h0.8v0.8h-0.8zM173.5 367.5h0.8v0.8h-0.8zM162.2 407.2h0.8v0.8h-0.8zM193.6 422.6h0.8v0.8h-0.8zM172.8 394.8h0.8v0.8h-0.8zM167.5 419.7h0.8v0.8h-0.8zM198.9 395.9h0.8v0.8h-0.8zM194.0 402.1h0.8v0.8h-0.8zM193.2 411.2h0.8v0.8h-0.8zM183.5 411.4h0.8v0.8h-0.8zM203.1 418.3h0.8v0.8h-0.8zM193.5 420.9h0.8v0.8h-0.8zM190.9 423.8h0.8v0.8h-0.8zM197.4 410.4h0.8v0.8h-0.8zM193.9 416.5h0.8v0.8h-0.8zM172.0 410.7h0.8v0.8h-0.8zM167.8 408.1h0.8v0.8h-0.8zM179.8 406.8h0.8v0.8h-0.8zM191.9 415.2h0.8v0.8h-0.8zM171.2 419.0h0.8v0.8h-0.8zM190.7 407.6h0.8v0.8h-0.8zM190.1 408.5h0.8v0.8h-0.8zM196.2 415.2h0.8v0.8h-0.8zM202.4 419.0h0.8v0.8h-0.8zM176.9 401.3h0.8v0.8h-0.8zM167.9 396.3h0.8v0.8h-0.8zM197.8 419.4h0.8v0.8h-0.8zM178.4 385.0h0.8v0.8h-0.8zM197.9 393.4h0.8v0.8h-0.8zM188.9 417.1h0.8v0.8h-0.8zM200.1 406.2h0.8v0.8h-0.8zM180.2 414.3h0.8v0.8h-0.8zM200.4 401.6h0.8v0.8h-0.8z" fill="#8090f4" fill-opacity="0.7"/>
<path d="M161.3 395.4h0.8v0.8h-0.8zM148.7 421.1h0.8v0.8h-0.8zM160.0 390.7h0.8v0.8h-0.8zM154.7 402.0h0.8v0.8h-0.8zM154.4 423.5h0.8v0.8h-0.8zM158.8 393.7h0.8v0.8h-0.8zM154.5 426.9h0.8v0.8h-0.8zM160.3 404.0h0.8v0.8h-0.8zM154.3 407.7h0.8v0.8h-0.8zM154.8 419.1h0.8v0.8h-0.8zM146.1 418.6h0.8v0.8h-0.8zM162.0 402.8h0.8v0.8h-0.8zM155.6 426.6h0.8v0.8h-0.8zM158.8 403.6h0.8v0.8h-0.8zM155.6 407.3h0.8v0.8h-0.8zM151.0 412.3h0.8v0.8h-0.8zM158.9 419.9h0.8v0.8h-0.8zM155.8 410.9h0.8v0.8h-0.8zM159.6 396.4h0.8v0.8h-0.8zM158.5 419.5h0.8v0.8h-0.8zM160.4 401.2h0.8v0.8h-0.8zM156.8 408.2h0.8v0.8h-0.8zM158.6 412.1h0.8v0.8h-0.8zM151.9 406.5h0.8v0.8h-0.8zM152.5 423.3h0.8v0.8h-0.8zM162.1 394.6h0.8v0.8h-0.8zM147.3 428.9h0.8v0.8h-0.8zM159.1 386.6h0.8v0.8h-0.8zM159.7 397.0h0.8v0.8h-0.8zM161.0 394.4h0.8v0.8h-0.8zM156.0 406.4h0.8v0.8h-0.8zM156.3 415.9h0.8v0.8h-0.8zM149.8 423.5h0.8v0.8h-0.8zM157.1 422.3h0.8v0.8h-0.8zM159.6 409.9h0.8v0.8h-0.8zM161.3 413.3h0.8v0.8h-0.8zM158.8 413.4h0.8v0.8h-0.8zM157.2 414.2h0.8v0.8h-0.8zM159.4 408.3h0.8v0.8h-0.8zM155.2 425.9h0.8v0.8h-0.8zM160.6 400.7h0.8v0.8h-0.8zM159.0 398.5h0.8v0.8h-0.8zM158.8 392.9h0.8v0.8h-0.8zM157.9 404.8h0.8v0.8h-0.8zM153.8 420.2h0.8v0.8h-0.8zM159.4 405.2h0.8v0.8h-0.8zM145.5 420.2h0.8v0.8h-0.8zM158.8 396.1h0.8v0.8h-0.8zM147.8 412.7h0.8v0.8h-0.8zM157.1 416.1h0.8v0.8h-0.8zM160.9 395.0h0.8v0.8h-0.8zM154.5 418.4h0.8v0.8h-0.8zM162.1 401.4h0.8v0.8h-0.8zM159.5 402.5h0.8v0.8h-0.8zM150.4 425.0h0.8v0.8h-0.8zM170.2 387.7h0.8v0.8h-0.8zM157.2 418.7h0.8v0.8h-0.8zM156.4 406.9h0.8v0.8h-0.8zM150.5 421.1h0.8v0.8h-0.8zM158.8 398.3h0.8v0.8h-0.8zM164.4 408.4h0.8v0.8h-0.8zM152.3 415.8h0.8v0.8h-0.8zM160.4 404.1h0.8v0.8h-0.8zM160.2 423.8h0.8v0.8h-0.8zM156.3 410.0h0.8v0.8h-0.8zM158.5 393.2h0.8v0.8h-0.8zM153.0 392.0h0.8v0.8h-0.8zM147.0 424.4h0.8v0.8h-0.8zM161.2 398.0h0.8v0.8h-0.8zM157.7 418.3h0.8v0.8h-0.8zM153.3 390.5h0.8v0.8h-0.8zM159.4 411.9h0.8v0.8h-0.8zM157.3 411.0h0.8v0.8h-0.8zM149.8 421.0h0.8v0.8h-0.8zM153.7 420.8h0.8v0.8h-0.8zM155.0 424.1h0.8v0.8h-0.8zM158.9 405.3h0.8v0.8h-0.8zM155.0 414.1h0.8v0.8h-0.8zM158.1 421.5h0.8v0.8h-0.8zM159.6 408.9h0.8v0.8h-0.8zM151.2 412.2h0.8v0.8h-0.8zM157.4 427.9h0.8v0.8h-0.8zM156.1 415.6h0.8v0.8h-0.8zM159.2 398.2h0.8v0.8h-0.8zM149.4 417.9h0.8v0.8h-0.8zM159.7 394.6h0.8v0.8h-0.8zM159.4 402.6h0.8v0.8h-0.8zM154.1 398.9h0.8v0.8h-0.8zM160.0 410.9h0.8v0.8h-0.8zM159.8 421.8h0.8v0.8h-0.8zM160.1 404.5h0.8v0.8h-0.8zM155.2 408.4h0.8v0.8h-0.8zM153.7 425.6h0.8v0.8h-0.8zM164.5 397.7h0.8v0.8h-0.8zM162.5 399.2h0.8v0.8h-0.8zM164.7 419.8h0.8v0.8h-0.8zM166.0 412.8h0.8v0.8h-0.8zM161.2 411.4h0.8v0.8h-0.8zM163.8 403.4h0.8v0.8h-0.8zM148.9 422.7h0.8v0.8h-0.8zM161.3 400.7h0.8v0.8h-0.8zM152.8 413.1h0.8v0.8h-0.8zM154.6 427.6h0.8v0.8h-0.8zM165.7 397.5h0.8v0.8h-0.8zM167.0 402.6h0.8v0.8h-0.8zM150.3 420.8h0.8v0.8h-0.8zM157.1 408.6h0.8v0.8h-0.8zM152.9 409.2h0.8v0.8h-0.8zM156.3 412.1h0.8v0.8h-0.8zM155.5 406.1h0.8v0.8h-0.8zM160.4 397.8h0.8v0.8h-0.8zM153.1 421.1h0.8v0.8h-0.8zM152.9 423.2h0.8v0.8h-0.8zM155.9 411.9h0.8v0.8h-0.8zM164.2 407.8h0.8v0.8h-0.8zM158.4 400.5h0.8v0.8h-0.8zM150.5 415.0h0.8v0.8h-0.8zM162.9 414.6h0.8v0.8h-0.8zM160.4 400.3h0.8v0.8h-0.8zM151.3 394.0h0.8v0.8h-0.8zM164.4 400.4h0.8v0.8h-0.8zM164.4 396.5h0.8v0.8h-0.8zM164.2 406.7h0.8v0.8h-0.8zM156.6 416.1h0.8v0.8h-0.8zM159.9 408.9h0.8v0.8h-0.8zM152.1 418.0h0.8v0.8h-0.8zM154.8 427.4h0.8v0.8h-0.8zM157.4 389.4h0.8v0.8h-0.8zM155.3 419.8h0.8v0.8h-0.8zM155.3 406.8h0.8v0.8h-0.8zM185.8 428.4h0.8v0.8h-0.8zM189.9 436.7h0.8v0.8h-0.8zM177.1 433.9h0.8v0.8h-0.8zM167.1 429.7h0.8v0.8h-0.8zM169.2 426.2h0.8v0.8h-0.8zM162.7 428.9h0.8v0.8h-0.8zM185.2 435.0h0.8v0.8h-0.8zM189.7 427.3h0.8v0.8h-0.8zM167.7 430.0h0.8v0.8h-0.8zM160.9 427.5h0.8v0.8h-0.8zM174.9 428.9h0.8v0.8h-0.8zM164.3 429.4h0.8v0.8h-0.8zM156.3 431.3h0.8v0.8h-0.8zM169.2 434.6h0.8v0.8h-0.8zM177.5 434.7h0.8v0.8h-0.8zM174.7 436.2h0.8v0.8h-0.8zM165.3 431.3h0.8v0.8h-0.8zM180.0 425.6h0.8v0.8h-0.8zM170.6 430.5h0.8v0.8h-0.8zM178.2 428.8h0.8v0.8h-0.8zM176.9 432.8h0.8v0.8h-0.8zM182.2 437.6h0.8v0.8h-0.8zM157.0 429.3h0.8v0.8h-0.8zM166.4 432.2h0.8v0.8h-0.8zM154.7 427.4h0.8v0.8h-0.8zM161.9 434.6h0.8v0.8h-0.8zM173.1 425.0h0.8v0.8h-0.8zM162.3 432.8h0.8v0.8h-0.8zM159.5 426.1h0.8v0.8h-0.8zM183.5 430.3h0.8v0.8h-0.8zM181.0 431.2h0.8v0.8h-0.8zM172.4 431.6h0.8v0.8h-0.8zM165.5 430.8h0.8v0.8h-0.8zM182.1 423.6h0.8v0.8h-0.8zM181.3 434.4h0.8v0.8h-0.8zM172.1 425.9h0.8v0.8h-0.8zM164.2 422.9h0.8v0.8h-0.8zM164.2 429.6h0.8v0.8h-0.8zM165.8 435.8h0.8v0.8h-0.8zM189.5 426.9h0.8v0.8h-0.8zM187.0 432.3h0.8v0.8h-0.8zM187.2 426.1h0.8v0.8h-0.8zM180.9 429.5h0.8v0.8h-0.8zM185.3 423.5h0.8v0.8h-0.8zM171.6 425.5h0.8v0.8h-0.8zM167.6 434.7h0.8v0.8h-0.8zM159.7 429.0h0.8v0.8h-0.8zM159.2 435.0h0.8v0.8h-0.8zM168.7 430.7h0.8v0.8h-0.8zM157.5 425.4h0.8v0.8h-0.8zM180.9 428.7h0.8v0.8h-0.8zM176.0 434.9h0.8v0.8h-0.8zM185.5 429.2h0.8v0.8h-0.8zM188.9 425.7h0.8v0.8h-0.8zM160.4 431.6h0.8v0.8h-0.8zM158.8 424.8h0.8v0.8h-0.8zM179.3 425.6h0.8v0.8h-0.8zM166.9 430.9h0.8v0.8h-0.8zM183.3 432.9h0.8v0.8h-0.8zM172.1 430.4h0.8v0.8h-0.8zM166.2 426.7h0.8v0.8h-0.8zM168.9 429.1h0.8v0.8h-0.8zM186.1 429.4h0.8v0.8h-0.8zM169.4 432.3h0.8v0.8h-0.8zM168.3 425.8h0.8v0.8h-0.8zM164.4 428.8h0.8v0.8h-0.8zM185.2 430.2h0.8v0.8h-0.8zM163.8 420.4h0.8v0.8h-0.8zM155.5 430.2h0.8v0.8h-0.8zM184.9 433.7h0.8v0.8h-0.8zM169.0 427.6h0.8v0.8h-0.8zM189.4 432.4h0.8v0.8h-0.8zM180.5 430.0h0.8v0.8h-0.8zM180.3 433.0h0.8v0.8h-0.8zM181.2 425.2h0.8v0.8h-0.8zM168.1 432.0h0.8v0.8h-0.8zM189.5 433.8h0.8v0.8h-0.8zM157.6 432.6h0.8v0.8h-0.8zM187.1 430.0h0.8v0.8h-0.8zM187.6 433.9h0.8v0.8h-0.8zM175.2 424.1h0.8v0.8h-0.8zM178.6 432.5h0.8v0.8h-0.8zM162.7 425.7h0.8v0.8h-0.8zM183.0 433.3h0.8v0.8h-0.8zM183.1 429.1h0.8v0.8h-0.8zM173.2 428.3h0.8v0.8h-0.8zM162.7 435.2h0.8v0.8h-0.8zM186.4 431.7h0.8v0.8h-0.8zM164.6 433.8h0.8v0.8h-0.8zM161.8 432.0h0.8v0.8h-0.8zM190.6 428.4h0.8v0.8h-0.8zM191.0 432.1h0.8v0.8h-0.8zM191.4 424.5h0.8v0.8h-0.8zM172.2 434.7h0.8v0.8h-0.8zM160.5 433.3h0.8v0.8h-0.8zM156.3 433.7h0.8v0.8h-0.8zM179.4 430.0h0.8v0.8h-0.8zM173.6 433.7h0.8v0.8h-0.8zM170.5 422.4h0.8v0.8h-0.8zM170.1 427.4h0.8v0.8h-0.8zM171.5 435.6h0.8v0.8h-0.8zM187.5 424.6h0.8v0.8h-0.8zM185.7 425.5h0.8v0.8h-0.8zM171.8 434.5h0.8v0.8h-0.8zM158.4 433.0h0.8v0.8h-0.8zM180.9 428.1h0.8v0.8h-0.8zM170.0 431.4h0.8v0.8h-0.8zM169.8 422.8h0.8v0.8h-0.8zM161.9 425.0h0.8v0.8h-0.8zM167.4 430.6h0.8v0.8h-0.8z" fill="#2e4cf0" fill-opacity="0.5"/>
<g filter="url(#bl05)" transform="rotate(-10 150.5 432.0)">
<ellipse cx="150.5" cy="432.0" rx="7.00" ry="5.00" fill="#2a42ee"/>
<ellipse cx="150.5" cy="432.0" rx="6.15" ry="4.39" fill="#1e9cf2"/>
<ellipse cx="150.5" cy="432.0" rx="5.30" ry="3.79" fill="#2ee2f0"/>
<ellipse cx="150.5" cy="432.0" rx="4.45" ry="3.18" fill="#4fe68c"/>
<ellipse cx="150.5" cy="432.0" rx="3.60" ry="2.57" fill="#b4e83c"/>
<ellipse cx="150.5" cy="432.0" rx="2.75" ry="1.96" fill="#f2e226"/>
<ellipse cx="150.5" cy="432.0" rx="1.90" ry="1.36" fill="#f59a26"/>
<ellipse cx="150.5" cy="432.0" rx="1.05" ry="0.75" fill="#e83a1e"/>
</g>
</g>
<clipPath id="c217_352"><rect x="217" y="352.4" width="81.60000000000002" height="86.60000000000002"/></clipPath>
<g clip-path="url(#c217_352)">
<g filter="url(#bl2)" fill="#b4bcf8" opacity="0.4"><path d="M241.2 430.1L246.3 413.8L249.0 398.6L247.5 382.0L237.5 382.0L236.0 397.4L232.7 410.2L227.8 425.9Z"/><circle cx="234.5" cy="428.0" r="7.0"/><circle cx="242.5" cy="382.0" r="5.0"/></g>
<g filter="url(#bl2)" fill="#93a0f6" opacity="0.55"><path d="M240.6 431.0L243.4 424.7L246.4 417.0L247.6 410.2L247.7 403.8L238.3 402.2L236.4 407.8L234.6 413.0L231.6 419.3L228.4 425.0Z"/><circle cx="234.5" cy="428.0" r="6.8"/><circle cx="243.0" cy="403.0" r="4.8"/></g>
<g filter="url(#bl2)" fill="#93a0f6" opacity="0.55"><path d="M236.5 436.2L255.8 435.9L276.6 435.4L276.4 425.0L255.7 424.9L236.5 424.8Z"/><circle cx="236.5" cy="430.5" r="5.7"/><circle cx="276.5" cy="430.2" r="5.2"/></g>
<g filter="url(#bl1)" fill="#2a48f0" opacity="0.95"><path d="M237.9 429.7L240.7 423.5L243.5 416.0L244.6 409.6L244.8 403.3L241.2 402.7L239.4 408.4L237.5 414.0L234.3 420.5L231.1 426.3Z"/><circle cx="234.5" cy="428.0" r="3.8"/><circle cx="243.0" cy="403.0" r="1.8"/></g>
<g filter="url(#bl1)" fill="#2a48f0" opacity="0.95"><path d="M236.5 433.7L255.8 433.4L276.5 432.9L276.5 427.5L255.7 427.4L236.5 427.3Z"/><circle cx="236.5" cy="430.5" r="3.2"/><circle cx="276.5" cy="430.2" r="2.7"/></g>
<path d="M236.7 395.8h0.8v0.8h-0.8zM244.3 389.9h0.8v0.8h-0.8zM252.4 411.6h0.8v0.8h-0.8zM260.1 406.2h0.8v0.8h-0.8zM250.6 382.9h0.8v0.8h-0.8zM238.3 391.3h0.8v0.8h-0.8zM251.8 408.4h0.8v0.8h-0.8zM244.7 395.0h0.8v0.8h-0.8zM241.1 377.8h0.8v0.8h-0.8zM246.4 384.3h0.8v0.8h-0.8zM250.5 407.8h0.8v0.8h-0.8zM250.0 407.7h0.8v0.8h-0.8zM240.5 373.5h0.8v0.8h-0.8zM248.4 401.0h0.8v0.8h-0.8zM242.8 399.9h0.8v0.8h-0.8zM246.1 406.0h0.8v0.8h-0.8zM239.1 403.4h0.8v0.8h-0.8zM247.6 399.8h0.8v0.8h-0.8zM241.5 413.6h0.8v0.8h-0.8zM236.7 412.8h0.8v0.8h-0.8zM252.4 416.2h0.8v0.8h-0.8zM248.7 406.3h0.8v0.8h-0.8zM251.5 413.5h0.8v0.8h-0.8zM235.9 415.9h0.8v0.8h-0.8zM249.8 417.0h0.8v0.8h-0.8zM244.8 387.0h0.8v0.8h-0.8zM240.9 400.6h0.8v0.8h-0.8zM250.3 412.9h0.8v0.8h-0.8zM246.5 398.1h0.8v0.8h-0.8zM242.0 376.7h0.8v0.8h-0.8zM255.8 375.2h0.8v0.8h-0.8zM243.0 393.1h0.8v0.8h-0.8zM248.0 396.1h0.8v0.8h-0.8zM243.4 409.5h0.8v0.8h-0.8zM247.3 409.9h0.8v0.8h-0.8zM239.6 380.6h0.8v0.8h-0.8zM260.4 380.2h0.8v0.8h-0.8zM240.4 418.0h0.8v0.8h-0.8zM245.9 412.4h0.8v0.8h-0.8zM255.1 392.1h0.8v0.8h-0.8zM247.6 413.7h0.8v0.8h-0.8zM245.6 376.2h0.8v0.8h-0.8zM256.8 371.7h0.8v0.8h-0.8zM243.0 407.7h0.8v0.8h-0.8zM237.6 415.3h0.8v0.8h-0.8zM240.2 402.4h0.8v0.8h-0.8zM247.9 408.5h0.8v0.8h-0.8zM236.5 405.4h0.8v0.8h-0.8zM245.7 406.9h0.8v0.8h-0.8zM232.5 399.7h0.8v0.8h-0.8zM263.7 361.3h0.8v0.8h-0.8zM232.8 383.0h0.8v0.8h-0.8zM240.2 383.6h0.8v0.8h-0.8zM230.7 388.1h0.8v0.8h-0.8zM241.4 399.1h0.8v0.8h-0.8zM244.6 413.6h0.8v0.8h-0.8zM239.0 390.5h0.8v0.8h-0.8zM243.7 395.2h0.8v0.8h-0.8zM239.7 400.7h0.8v0.8h-0.8zM240.6 409.6h0.8v0.8h-0.8zM249.4 395.5h0.8v0.8h-0.8zM245.9 401.7h0.8v0.8h-0.8zM241.2 413.9h0.8v0.8h-0.8zM242.5 411.3h0.8v0.8h-0.8zM253.8 396.1h0.8v0.8h-0.8zM248.5 404.2h0.8v0.8h-0.8zM234.0 397.3h0.8v0.8h-0.8zM240.0 372.1h0.8v0.8h-0.8zM253.7 415.4h0.8v0.8h-0.8zM246.6 393.5h0.8v0.8h-0.8zM258.0 409.0h0.8v0.8h-0.8zM250.0 381.3h0.8v0.8h-0.8zM242.2 391.1h0.8v0.8h-0.8zM240.5 407.2h0.8v0.8h-0.8zM248.4 389.5h0.8v0.8h-0.8zM236.9 378.8h0.8v0.8h-0.8zM255.5 389.9h0.8v0.8h-0.8zM249.0 392.4h0.8v0.8h-0.8zM237.2 370.6h0.8v0.8h-0.8zM243.0 385.2h0.8v0.8h-0.8zM281.1 400.4h0.8v0.8h-0.8zM252.1 417.4h0.8v0.8h-0.8zM273.0 421.1h0.8v0.8h-0.8zM290.5 415.7h0.8v0.8h-0.8zM278.9 423.7h0.8v0.8h-0.8zM268.3 412.2h0.8v0.8h-0.8zM286.5 416.3h0.8v0.8h-0.8zM248.5 419.7h0.8v0.8h-0.8zM252.6 420.4h0.8v0.8h-0.8zM273.3 413.1h0.8v0.8h-0.8zM261.0 417.2h0.8v0.8h-0.8zM254.2 407.7h0.8v0.8h-0.8zM288.2 397.3h0.8v0.8h-0.8zM285.1 417.4h0.8v0.8h-0.8zM291.6 407.6h0.8v0.8h-0.8zM254.5 422.6h0.8v0.8h-0.8zM270.8 401.4h0.8v0.8h-0.8zM249.1 400.9h0.8v0.8h-0.8zM256.0 412.7h0.8v0.8h-0.8zM265.8 399.3h0.8v0.8h-0.8zM269.6 405.1h0.8v0.8h-0.8zM265.8 394.9h0.8v0.8h-0.8zM288.1 418.5h0.8v0.8h-0.8zM262.8 419.4h0.8v0.8h-0.8zM257.6 405.1h0.8v0.8h-0.8zM249.5 409.2h0.8v0.8h-0.8zM255.4 411.0h0.8v0.8h-0.8zM274.3 408.5h0.8v0.8h-0.8zM265.5 422.8h0.8v0.8h-0.8zM274.4 422.4h0.8v0.8h-0.8z" fill="#8090f4" fill-opacity="0.7"/>
<path d="M241.9 399.7h0.8v0.8h-0.8zM232.9 419.9h0.8v0.8h-0.8zM242.9 398.7h0.8v0.8h-0.8zM245.2 393.1h0.8v0.8h-0.8zM238.9 413.3h0.8v0.8h-0.8zM238.4 393.5h0.8v0.8h-0.8zM242.6 417.1h0.8v0.8h-0.8zM243.9 404.6h0.8v0.8h-0.8zM243.5 399.4h0.8v0.8h-0.8zM238.3 404.4h0.8v0.8h-0.8zM237.6 413.0h0.8v0.8h-0.8zM245.4 414.2h0.8v0.8h-0.8zM242.2 404.7h0.8v0.8h-0.8zM246.3 394.1h0.8v0.8h-0.8zM237.1 409.8h0.8v0.8h-0.8zM239.7 424.7h0.8v0.8h-0.8zM234.7 413.5h0.8v0.8h-0.8zM240.4 410.1h0.8v0.8h-0.8zM242.1 394.1h0.8v0.8h-0.8zM241.1 403.8h0.8v0.8h-0.8zM237.6 409.7h0.8v0.8h-0.8zM247.6 428.2h0.8v0.8h-0.8zM237.3 397.9h0.8v0.8h-0.8zM238.4 415.0h0.8v0.8h-0.8zM243.9 389.3h0.8v0.8h-0.8zM243.2 395.1h0.8v0.8h-0.8zM237.8 421.3h0.8v0.8h-0.8zM228.3 423.1h0.8v0.8h-0.8zM247.5 409.3h0.8v0.8h-0.8zM232.7 423.1h0.8v0.8h-0.8zM239.4 422.3h0.8v0.8h-0.8zM233.7 402.0h0.8v0.8h-0.8zM237.4 406.3h0.8v0.8h-0.8zM248.9 419.6h0.8v0.8h-0.8zM240.3 420.0h0.8v0.8h-0.8zM245.4 411.3h0.8v0.8h-0.8zM248.9 400.1h0.8v0.8h-0.8zM234.1 395.9h0.8v0.8h-0.8zM240.1 429.1h0.8v0.8h-0.8zM241.5 392.8h0.8v0.8h-0.8zM240.3 405.5h0.8v0.8h-0.8zM238.0 417.5h0.8v0.8h-0.8zM240.8 412.6h0.8v0.8h-0.8zM236.4 421.7h0.8v0.8h-0.8zM241.6 403.4h0.8v0.8h-0.8zM244.6 402.3h0.8v0.8h-0.8zM244.1 396.5h0.8v0.8h-0.8zM246.6 415.7h0.8v0.8h-0.8zM239.2 396.0h0.8v0.8h-0.8zM240.2 412.4h0.8v0.8h-0.8zM242.3 407.3h0.8v0.8h-0.8zM234.8 421.4h0.8v0.8h-0.8zM238.8 420.4h0.8v0.8h-0.8zM240.6 415.0h0.8v0.8h-0.8zM241.0 400.0h0.8v0.8h-0.8zM235.8 416.2h0.8v0.8h-0.8zM237.8 423.0h0.8v0.8h-0.8zM241.3 394.8h0.8v0.8h-0.8zM238.6 413.0h0.8v0.8h-0.8zM229.0 427.1h0.8v0.8h-0.8zM245.1 392.4h0.8v0.8h-0.8zM238.9 416.5h0.8v0.8h-0.8zM238.3 410.3h0.8v0.8h-0.8zM236.9 423.9h0.8v0.8h-0.8zM244.2 422.3h0.8v0.8h-0.8zM241.4 412.0h0.8v0.8h-0.8zM243.8 399.8h0.8v0.8h-0.8zM239.5 427.0h0.8v0.8h-0.8zM241.7 404.0h0.8v0.8h-0.8zM232.6 421.8h0.8v0.8h-0.8zM239.2 421.7h0.8v0.8h-0.8zM243.2 399.3h0.8v0.8h-0.8zM243.1 422.1h0.8v0.8h-0.8zM238.5 412.1h0.8v0.8h-0.8zM238.1 404.4h0.8v0.8h-0.8zM241.7 397.6h0.8v0.8h-0.8zM234.8 396.9h0.8v0.8h-0.8zM240.6 423.2h0.8v0.8h-0.8zM240.4 417.0h0.8v0.8h-0.8zM245.1 406.9h0.8v0.8h-0.8zM237.0 411.7h0.8v0.8h-0.8zM244.5 397.2h0.8v0.8h-0.8zM237.1 413.2h0.8v0.8h-0.8zM249.0 403.7h0.8v0.8h-0.8zM238.3 394.7h0.8v0.8h-0.8zM238.9 408.8h0.8v0.8h-0.8zM243.7 396.0h0.8v0.8h-0.8zM236.3 429.0h0.8v0.8h-0.8zM240.8 428.6h0.8v0.8h-0.8zM242.4 420.8h0.8v0.8h-0.8zM233.9 406.7h0.8v0.8h-0.8zM240.7 420.0h0.8v0.8h-0.8zM239.2 427.9h0.8v0.8h-0.8zM239.1 411.5h0.8v0.8h-0.8zM242.2 416.3h0.8v0.8h-0.8zM245.5 400.8h0.8v0.8h-0.8zM245.3 406.4h0.8v0.8h-0.8zM239.8 397.1h0.8v0.8h-0.8zM238.3 398.0h0.8v0.8h-0.8zM243.6 392.3h0.8v0.8h-0.8zM235.2 421.6h0.8v0.8h-0.8zM246.3 387.4h0.8v0.8h-0.8zM242.8 398.5h0.8v0.8h-0.8zM248.6 407.6h0.8v0.8h-0.8zM232.5 420.5h0.8v0.8h-0.8zM236.9 414.4h0.8v0.8h-0.8zM238.1 412.3h0.8v0.8h-0.8zM243.4 421.3h0.8v0.8h-0.8zM238.1 391.1h0.8v0.8h-0.8zM243.4 396.4h0.8v0.8h-0.8zM240.0 409.7h0.8v0.8h-0.8zM228.9 415.9h0.8v0.8h-0.8zM240.5 409.5h0.8v0.8h-0.8zM242.1 411.5h0.8v0.8h-0.8zM236.7 415.4h0.8v0.8h-0.8zM244.9 405.8h0.8v0.8h-0.8zM232.8 418.7h0.8v0.8h-0.8zM238.2 423.1h0.8v0.8h-0.8zM235.1 418.4h0.8v0.8h-0.8zM241.7 420.7h0.8v0.8h-0.8zM238.2 396.0h0.8v0.8h-0.8zM242.6 409.4h0.8v0.8h-0.8zM233.9 410.1h0.8v0.8h-0.8zM238.1 413.1h0.8v0.8h-0.8zM233.4 419.2h0.8v0.8h-0.8zM243.9 407.3h0.8v0.8h-0.8zM242.8 401.5h0.8v0.8h-0.8zM236.9 419.0h0.8v0.8h-0.8zM238.2 415.2h0.8v0.8h-0.8zM239.0 422.4h0.8v0.8h-0.8zM240.3 432.4h0.8v0.8h-0.8zM270.3 431.6h0.8v0.8h-0.8zM279.2 428.0h0.8v0.8h-0.8zM251.9 434.2h0.8v0.8h-0.8zM265.8 424.7h0.8v0.8h-0.8zM260.4 424.2h0.8v0.8h-0.8zM269.1 431.0h0.8v0.8h-0.8zM269.1 429.1h0.8v0.8h-0.8zM277.2 430.2h0.8v0.8h-0.8zM260.8 430.1h0.8v0.8h-0.8zM261.3 433.0h0.8v0.8h-0.8zM274.8 427.9h0.8v0.8h-0.8zM256.2 431.5h0.8v0.8h-0.8zM250.0 432.8h0.8v0.8h-0.8zM254.1 435.5h0.8v0.8h-0.8zM273.5 430.0h0.8v0.8h-0.8zM246.1 431.8h0.8v0.8h-0.8zM262.6 429.3h0.8v0.8h-0.8zM276.7 436.0h0.8v0.8h-0.8zM274.8 429.4h0.8v0.8h-0.8zM256.7 429.7h0.8v0.8h-0.8zM239.4 428.4h0.8v0.8h-0.8zM277.8 425.7h0.8v0.8h-0.8zM279.7 429.5h0.8v0.8h-0.8zM266.9 432.1h0.8v0.8h-0.8zM262.3 436.8h0.8v0.8h-0.8zM266.8 429.7h0.8v0.8h-0.8zM253.4 432.6h0.8v0.8h-0.8zM264.8 423.8h0.8v0.8h-0.8zM257.9 431.8h0.8v0.8h-0.8zM280.2 433.6h0.8v0.8h-0.8zM273.6 432.7h0.8v0.8h-0.8zM280.6 426.3h0.8v0.8h-0.8zM244.4 426.7h0.8v0.8h-0.8zM275.5 429.6h0.8v0.8h-0.8zM256.8 432.4h0.8v0.8h-0.8zM259.6 429.9h0.8v0.8h-0.8zM245.3 426.5h0.8v0.8h-0.8zM254.9 429.8h0.8v0.8h-0.8zM238.8 433.3h0.8v0.8h-0.8zM251.5 429.7h0.8v0.8h-0.8zM252.2 426.1h0.8v0.8h-0.8zM267.3 433.9h0.8v0.8h-0.8zM261.9 435.0h0.8v0.8h-0.8zM262.4 429.9h0.8v0.8h-0.8zM256.4 431.4h0.8v0.8h-0.8zM271.1 431.0h0.8v0.8h-0.8zM243.9 429.1h0.8v0.8h-0.8zM264.7 428.8h0.8v0.8h-0.8zM239.1 426.9h0.8v0.8h-0.8zM268.5 431.7h0.8v0.8h-0.8zM251.6 434.4h0.8v0.8h-0.8zM262.6 433.1h0.8v0.8h-0.8zM256.9 432.5h0.8v0.8h-0.8zM264.3 429.1h0.8v0.8h-0.8zM264.9 431.0h0.8v0.8h-0.8zM278.6 427.6h0.8v0.8h-0.8zM277.0 427.3h0.8v0.8h-0.8zM265.2 429.0h0.8v0.8h-0.8zM278.9 433.5h0.8v0.8h-0.8zM269.2 433.0h0.8v0.8h-0.8zM273.9 430.6h0.8v0.8h-0.8zM249.3 432.9h0.8v0.8h-0.8zM247.2 429.5h0.8v0.8h-0.8zM263.3 432.9h0.8v0.8h-0.8zM254.6 430.7h0.8v0.8h-0.8zM244.2 427.1h0.8v0.8h-0.8zM249.2 432.7h0.8v0.8h-0.8zM250.0 431.1h0.8v0.8h-0.8zM253.9 434.5h0.8v0.8h-0.8zM242.2 436.6h0.8v0.8h-0.8zM242.1 432.3h0.8v0.8h-0.8zM273.2 432.7h0.8v0.8h-0.8zM267.4 436.2h0.8v0.8h-0.8zM248.5 428.7h0.8v0.8h-0.8zM247.7 430.5h0.8v0.8h-0.8zM268.4 437.5h0.8v0.8h-0.8zM263.0 431.9h0.8v0.8h-0.8zM264.8 436.9h0.8v0.8h-0.8zM242.5 429.6h0.8v0.8h-0.8zM250.1 426.6h0.8v0.8h-0.8zM265.7 428.8h0.8v0.8h-0.8zM255.6 431.1h0.8v0.8h-0.8zM274.0 434.7h0.8v0.8h-0.8zM242.3 428.7h0.8v0.8h-0.8zM259.7 431.2h0.8v0.8h-0.8zM251.8 431.8h0.8v0.8h-0.8zM268.8 433.5h0.8v0.8h-0.8zM277.5 422.8h0.8v0.8h-0.8zM275.6 432.1h0.8v0.8h-0.8zM239.1 425.3h0.8v0.8h-0.8zM252.2 432.7h0.8v0.8h-0.8zM268.2 436.8h0.8v0.8h-0.8zM253.0 428.4h0.8v0.8h-0.8zM244.8 427.0h0.8v0.8h-0.8zM269.1 430.3h0.8v0.8h-0.8zM245.7 432.8h0.8v0.8h-0.8zM255.5 430.7h0.8v0.8h-0.8zM266.4 436.1h0.8v0.8h-0.8zM262.6 427.4h0.8v0.8h-0.8zM256.6 427.0h0.8v0.8h-0.8zM239.4 424.8h0.8v0.8h-0.8zM252.6 431.8h0.8v0.8h-0.8zM265.0 430.8h0.8v0.8h-0.8zM243.4 427.7h0.8v0.8h-0.8zM277.4 428.5h0.8v0.8h-0.8zM266.7 433.6h0.8v0.8h-0.8zM273.6 431.5h0.8v0.8h-0.8zM276.7 433.7h0.8v0.8h-0.8zM267.8 423.4h0.8v0.8h-0.8z" fill="#2e4cf0" fill-opacity="0.5"/>
<g filter="url(#bl05)" transform="rotate(-10 232.5 432.0)">
<ellipse cx="232.5" cy="432.0" rx="7.00" ry="5.00" fill="#2a42ee"/>
<ellipse cx="232.5" cy="432.0" rx="6.15" ry="4.39" fill="#1e9cf2"/>
<ellipse cx="232.5" cy="432.0" rx="5.30" ry="3.79" fill="#2ee2f0"/>
<ellipse cx="232.5" cy="432.0" rx="4.45" ry="3.18" fill="#4fe68c"/>
<ellipse cx="232.5" cy="432.0" rx="3.60" ry="2.57" fill="#b4e83c"/>
<ellipse cx="232.5" cy="432.0" rx="2.75" ry="1.96" fill="#f2e226"/>
<ellipse cx="232.5" cy="432.0" rx="1.90" ry="1.36" fill="#f59a26"/>
<ellipse cx="232.5" cy="432.0" rx="1.05" ry="0.75" fill="#e83a1e"/>
</g>
</g>
<rect x="298.6" y="352.4" width="82.39999999999998" height="86.60000000000002" fill="#dde4de"/>
<clipPath id="c298_352"><rect x="298.6" y="352.4" width="82.39999999999998" height="86.60000000000002"/></clipPath>
<g clip-path="url(#c298_352)">
<g filter="url(#bl2)" fill="#b4bcf8" opacity="0.4"><path d="M323.2 430.1L328.3 413.8L331.0 398.6L329.5 382.0L319.5 382.0L318.0 397.4L314.7 410.2L309.8 425.9Z"/><circle cx="316.5" cy="428.0" r="7.0"/><circle cx="324.5" cy="382.0" r="5.0"/></g>
<g filter="url(#bl2)" fill="#93a0f6" opacity="0.55"><path d="M322.6 431.0L325.4 424.7L328.4 417.0L329.6 410.2L329.7 403.8L320.3 402.2L318.4 407.8L316.6 413.0L313.6 419.3L310.4 425.0Z"/><circle cx="316.5" cy="428.0" r="6.8"/><circle cx="325.0" cy="403.0" r="4.8"/></g>
<g filter="url(#bl2)" fill="#93a0f6" opacity="0.55"><path d="M318.5 436.2L340.0 435.9L363.0 435.4L363.0 425.0L340.0 424.9L318.5 424.8Z"/><circle cx="318.5" cy="430.5" r="5.7"/><circle cx="363.0" cy="430.2" r="5.2"/></g>
<g filter="url(#bl1)" fill="#2a48f0" opacity="0.95"><path d="M319.9 429.7L322.7 423.5L325.5 416.0L326.6 409.6L326.8 403.3L323.2 402.7L321.4 408.4L319.5 414.0L316.3 420.5L313.1 426.3Z"/><circle cx="316.5" cy="428.0" r="3.8"/><circle cx="325.0" cy="403.0" r="1.8"/></g>
<g filter="url(#bl1)" fill="#2a48f0" opacity="0.95"><path d="M318.5 433.7L340.0 433.4L363.0 432.9L363.0 427.5L340.0 427.4L318.5 427.3Z"/><circle cx="318.5" cy="430.5" r="3.2"/><circle cx="363.0" cy="430.2" r="2.7"/></g>
<path d="M336.3 393.6h0.8v0.8h-0.8zM339.8 356.0h0.8v0.8h-0.8zM331.7 402.9h0.8v0.8h-0.8zM345.0 394.6h0.8v0.8h-0.8zM335.6 374.2h0.8v0.8h-0.8zM319.3 397.3h0.8v0.8h-0.8zM337.2 400.9h0.8v0.8h-0.8zM308.1 404.6h0.8v0.8h-0.8zM338.1 408.3h0.8v0.8h-0.8zM328.2 400.7h0.8v0.8h-0.8zM323.5 412.6h0.8v0.8h-0.8zM339.5 394.8h0.8v0.8h-0.8zM321.9 387.2h0.8v0.8h-0.8zM324.9 357.1h0.8v0.8h-0.8zM327.5 411.4h0.8v0.8h-0.8zM332.7 396.1h0.8v0.8h-0.8zM330.0 375.4h0.8v0.8h-0.8zM323.3 417.7h0.8v0.8h-0.8zM332.3 391.0h0.8v0.8h-0.8zM319.5 411.3h0.8v0.8h-0.8zM321.5 375.0h0.8v0.8h-0.8zM325.4 406.4h0.8v0.8h-0.8zM327.8 389.2h0.8v0.8h-0.8zM331.6 404.7h0.8v0.8h-0.8zM337.9 404.6h0.8v0.8h-0.8zM332.0 360.0h0.8v0.8h-0.8zM334.0 400.7h0.8v0.8h-0.8zM341.4 408.9h0.8v0.8h-0.8zM330.0 369.0h0.8v0.8h-0.8zM325.1 417.9h0.8v0.8h-0.8zM338.8 407.6h0.8v0.8h-0.8zM324.5 391.9h0.8v0.8h-0.8zM315.5 399.9h0.8v0.8h-0.8zM320.9 373.0h0.8v0.8h-0.8zM328.3 408.4h0.8v0.8h-0.8zM310.6 393.8h0.8v0.8h-0.8zM322.0 384.4h0.8v0.8h-0.8zM322.2 412.2h0.8v0.8h-0.8zM326.6 417.7h0.8v0.8h-0.8zM342.8 399.4h0.8v0.8h-0.8zM323.9 407.2h0.8v0.8h-0.8zM339.8 389.4h0.8v0.8h-0.8zM330.9 412.6h0.8v0.8h-0.8zM339.1 400.8h0.8v0.8h-0.8zM316.1 398.8h0.8v0.8h-0.8zM320.9 388.9h0.8v0.8h-0.8zM324.1 371.4h0.8v0.8h-0.8zM326.2 410.0h0.8v0.8h-0.8zM322.7 377.3h0.8v0.8h-0.8zM317.5 368.9h0.8v0.8h-0.8zM323.1 397.0h0.8v0.8h-0.8zM319.8 394.2h0.8v0.8h-0.8zM326.5 405.4h0.8v0.8h-0.8zM333.9 406.4h0.8v0.8h-0.8zM326.9 396.7h0.8v0.8h-0.8zM331.1 391.7h0.8v0.8h-0.8zM331.0 413.8h0.8v0.8h-0.8zM331.1 411.6h0.8v0.8h-0.8zM323.0 412.9h0.8v0.8h-0.8zM327.7 400.9h0.8v0.8h-0.8zM332.1 399.2h0.8v0.8h-0.8zM317.2 401.6h0.8v0.8h-0.8zM326.1 394.0h0.8v0.8h-0.8zM329.4 386.5h0.8v0.8h-0.8zM320.7 376.9h0.8v0.8h-0.8zM318.6 370.5h0.8v0.8h-0.8zM323.7 379.6h0.8v0.8h-0.8zM332.0 409.9h0.8v0.8h-0.8zM326.9 407.4h0.8v0.8h-0.8zM323.7 397.2h0.8v0.8h-0.8zM319.1 403.9h0.8v0.8h-0.8zM313.8 391.5h0.8v0.8h-0.8zM329.6 380.3h0.8v0.8h-0.8zM324.1 386.0h0.8v0.8h-0.8zM317.8 377.1h0.8v0.8h-0.8zM327.7 394.6h0.8v0.8h-0.8zM329.6 403.5h0.8v0.8h-0.8zM321.9 411.3h0.8v0.8h-0.8zM329.9 409.3h0.8v0.8h-0.8zM332.9 405.8h0.8v0.8h-0.8zM372.9 413.0h0.8v0.8h-0.8zM363.6 407.8h0.8v0.8h-0.8zM358.8 415.4h0.8v0.8h-0.8zM343.5 406.2h0.8v0.8h-0.8zM372.3 397.7h0.8v0.8h-0.8zM337.2 409.7h0.8v0.8h-0.8zM355.0 397.4h0.8v0.8h-0.8zM375.3 400.1h0.8v0.8h-0.8zM371.4 406.4h0.8v0.8h-0.8zM362.6 417.1h0.8v0.8h-0.8zM365.4 417.4h0.8v0.8h-0.8zM365.4 413.0h0.8v0.8h-0.8zM332.9 414.6h0.8v0.8h-0.8zM360.3 417.5h0.8v0.8h-0.8zM340.4 411.2h0.8v0.8h-0.8zM340.9 401.5h0.8v0.8h-0.8zM379.2 409.0h0.8v0.8h-0.8zM370.4 406.2h0.8v0.8h-0.8zM333.2 402.5h0.8v0.8h-0.8zM372.3 423.3h0.8v0.8h-0.8zM361.6 422.7h0.8v0.8h-0.8zM336.6 423.0h0.8v0.8h-0.8zM352.2 417.8h0.8v0.8h-0.8zM357.8 422.2h0.8v0.8h-0.8zM371.7 419.2h0.8v0.8h-0.8zM335.1 419.9h0.8v0.8h-0.8zM346.8 399.0h0.8v0.8h-0.8zM346.4 412.5h0.8v0.8h-0.8zM370.0 418.7h0.8v0.8h-0.8z" fill="#8090f4" fill-opacity="0.7"/>
<path d="M324.6 416.1h0.8v0.8h-0.8zM327.5 393.9h0.8v0.8h-0.8zM322.4 406.6h0.8v0.8h-0.8zM321.1 413.9h0.8v0.8h-0.8zM333.7 406.5h0.8v0.8h-0.8zM311.4 423.9h0.8v0.8h-0.8zM325.3 393.1h0.8v0.8h-0.8zM320.5 407.3h0.8v0.8h-0.8zM330.5 394.9h0.8v0.8h-0.8zM320.7 408.6h0.8v0.8h-0.8zM317.7 401.6h0.8v0.8h-0.8zM316.4 414.1h0.8v0.8h-0.8zM316.1 427.2h0.8v0.8h-0.8zM321.6 393.7h0.8v0.8h-0.8zM319.8 421.5h0.8v0.8h-0.8zM326.7 422.7h0.8v0.8h-0.8zM316.2 412.9h0.8v0.8h-0.8zM320.6 417.7h0.8v0.8h-0.8zM317.6 421.3h0.8v0.8h-0.8zM325.3 407.2h0.8v0.8h-0.8zM323.5 395.1h0.8v0.8h-0.8zM308.6 416.6h0.8v0.8h-0.8zM321.0 411.7h0.8v0.8h-0.8zM328.6 398.9h0.8v0.8h-0.8zM324.2 398.7h0.8v0.8h-0.8zM319.3 428.3h0.8v0.8h-0.8zM323.9 406.0h0.8v0.8h-0.8zM312.7 416.6h0.8v0.8h-0.8zM324.8 409.6h0.8v0.8h-0.8zM323.9 393.5h0.8v0.8h-0.8zM326.6 397.5h0.8v0.8h-0.8zM320.5 425.8h0.8v0.8h-0.8zM318.7 392.0h0.8v0.8h-0.8zM316.1 424.2h0.8v0.8h-0.8zM317.7 407.5h0.8v0.8h-0.8zM324.1 416.6h0.8v0.8h-0.8zM315.3 423.5h0.8v0.8h-0.8zM318.9 408.9h0.8v0.8h-0.8zM330.3 411.8h0.8v0.8h-0.8zM323.4 407.7h0.8v0.8h-0.8zM321.8 403.5h0.8v0.8h-0.8zM319.5 425.2h0.8v0.8h-0.8zM329.8 403.9h0.8v0.8h-0.8zM315.7 411.6h0.8v0.8h-0.8zM319.0 404.7h0.8v0.8h-0.8zM320.0 413.4h0.8v0.8h-0.8zM323.8 397.6h0.8v0.8h-0.8zM321.5 408.3h0.8v0.8h-0.8zM320.3 415.2h0.8v0.8h-0.8zM325.4 395.3h0.8v0.8h-0.8zM317.4 406.5h0.8v0.8h-0.8zM323.3 414.5h0.8v0.8h-0.8zM324.4 401.7h0.8v0.8h-0.8zM323.0 423.7h0.8v0.8h-0.8zM325.9 414.6h0.8v0.8h-0.8zM321.9 416.1h0.8v0.8h-0.8zM325.5 401.1h0.8v0.8h-0.8zM318.3 423.8h0.8v0.8h-0.8zM319.7 393.6h0.8v0.8h-0.8zM321.6 412.1h0.8v0.8h-0.8zM321.7 415.2h0.8v0.8h-0.8zM328.6 403.8h0.8v0.8h-0.8zM321.6 412.5h0.8v0.8h-0.8zM314.4 411.4h0.8v0.8h-0.8zM323.1 393.3h0.8v0.8h-0.8zM319.2 421.6h0.8v0.8h-0.8zM321.3 424.0h0.8v0.8h-0.8zM318.8 414.4h0.8v0.8h-0.8zM317.1 418.9h0.8v0.8h-0.8zM326.6 395.9h0.8v0.8h-0.8zM325.0 399.3h0.8v0.8h-0.8zM311.8 416.3h0.8v0.8h-0.8zM316.6 417.8h0.8v0.8h-0.8zM313.8 408.6h0.8v0.8h-0.8zM322.0 418.0h0.8v0.8h-0.8zM325.4 399.0h0.8v0.8h-0.8zM327.8 397.5h0.8v0.8h-0.8zM326.0 431.4h0.8v0.8h-0.8zM319.5 425.8h0.8v0.8h-0.8zM325.4 403.0h0.8v0.8h-0.8zM326.0 405.3h0.8v0.8h-0.8zM323.1 389.7h0.8v0.8h-0.8zM328.2 394.1h0.8v0.8h-0.8zM323.4 399.3h0.8v0.8h-0.8zM322.0 413.0h0.8v0.8h-0.8zM330.5 424.6h0.8v0.8h-0.8zM321.5 415.2h0.8v0.8h-0.8zM324.2 412.8h0.8v0.8h-0.8zM318.0 419.4h0.8v0.8h-0.8zM321.5 401.9h0.8v0.8h-0.8zM311.4 415.1h0.8v0.8h-0.8zM322.6 422.8h0.8v0.8h-0.8zM324.2 394.6h0.8v0.8h-0.8zM318.8 422.1h0.8v0.8h-0.8zM313.8 425.4h0.8v0.8h-0.8zM321.6 408.4h0.8v0.8h-0.8zM320.1 400.5h0.8v0.8h-0.8zM317.7 400.4h0.8v0.8h-0.8zM323.7 394.3h0.8v0.8h-0.8zM310.7 420.1h0.8v0.8h-0.8zM317.5 415.9h0.8v0.8h-0.8zM319.1 422.1h0.8v0.8h-0.8zM325.1 405.3h0.8v0.8h-0.8zM320.3 407.8h0.8v0.8h-0.8zM324.8 424.1h0.8v0.8h-0.8zM324.8 399.8h0.8v0.8h-0.8zM320.5 407.3h0.8v0.8h-0.8zM317.6 415.7h0.8v0.8h-0.8zM317.3 421.1h0.8v0.8h-0.8zM310.7 404.3h0.8v0.8h-0.8zM314.8 415.4h0.8v0.8h-0.8zM319.6 411.2h0.8v0.8h-0.8zM317.1 406.2h0.8v0.8h-0.8zM316.6 413.3h0.8v0.8h-0.8zM316.9 417.9h0.8v0.8h-0.8zM318.5 396.9h0.8v0.8h-0.8zM318.9 409.6h0.8v0.8h-0.8zM323.0 420.5h0.8v0.8h-0.8zM314.5 408.2h0.8v0.8h-0.8zM322.9 423.8h0.8v0.8h-0.8zM316.4 407.0h0.8v0.8h-0.8zM325.5 395.9h0.8v0.8h-0.8zM324.2 409.2h0.8v0.8h-0.8zM320.2 424.7h0.8v0.8h-0.8zM313.8 427.7h0.8v0.8h-0.8zM320.0 409.7h0.8v0.8h-0.8zM326.8 413.5h0.8v0.8h-0.8zM314.0 412.5h0.8v0.8h-0.8zM327.1 404.9h0.8v0.8h-0.8zM317.5 414.2h0.8v0.8h-0.8zM337.4 432.9h0.8v0.8h-0.8zM321.7 434.3h0.8v0.8h-0.8zM323.9 435.0h0.8v0.8h-0.8zM333.1 432.3h0.8v0.8h-0.8zM360.9 432.7h0.8v0.8h-0.8zM361.2 433.5h0.8v0.8h-0.8zM357.0 427.7h0.8v0.8h-0.8zM321.7 431.2h0.8v0.8h-0.8zM353.7 433.4h0.8v0.8h-0.8zM351.3 427.0h0.8v0.8h-0.8zM336.6 426.2h0.8v0.8h-0.8zM331.1 429.0h0.8v0.8h-0.8zM337.5 427.3h0.8v0.8h-0.8zM323.9 426.6h0.8v0.8h-0.8zM343.1 430.2h0.8v0.8h-0.8zM357.4 430.8h0.8v0.8h-0.8zM340.4 431.6h0.8v0.8h-0.8zM337.9 431.2h0.8v0.8h-0.8zM340.0 430.2h0.8v0.8h-0.8zM358.5 425.0h0.8v0.8h-0.8zM340.8 431.3h0.8v0.8h-0.8zM346.7 424.0h0.8v0.8h-0.8zM326.1 431.4h0.8v0.8h-0.8zM359.3 430.9h0.8v0.8h-0.8zM355.6 429.5h0.8v0.8h-0.8zM352.2 426.1h0.8v0.8h-0.8zM322.7 426.6h0.8v0.8h-0.8zM349.8 429.9h0.8v0.8h-0.8zM362.0 432.5h0.8v0.8h-0.8zM347.8 430.4h0.8v0.8h-0.8zM333.3 433.0h0.8v0.8h-0.8zM333.3 426.5h0.8v0.8h-0.8zM344.2 430.5h0.8v0.8h-0.8zM336.0 425.3h0.8v0.8h-0.8zM360.7 432.3h0.8v0.8h-0.8zM322.0 429.2h0.8v0.8h-0.8zM341.0 430.3h0.8v0.8h-0.8zM337.9 427.8h0.8v0.8h-0.8zM363.4 429.6h0.8v0.8h-0.8zM334.3 429.3h0.8v0.8h-0.8zM346.7 432.5h0.8v0.8h-0.8zM357.5 435.3h0.8v0.8h-0.8zM357.3 427.9h0.8v0.8h-0.8zM362.5 432.4h0.8v0.8h-0.8zM321.9 432.0h0.8v0.8h-0.8zM323.1 429.0h0.8v0.8h-0.8zM349.5 437.2h0.8v0.8h-0.8zM347.2 426.1h0.8v0.8h-0.8zM351.8 427.4h0.8v0.8h-0.8zM330.7 428.3h0.8v0.8h-0.8zM363.8 431.6h0.8v0.8h-0.8zM325.5 421.6h0.8v0.8h-0.8zM339.6 427.7h0.8v0.8h-0.8zM362.8 428.1h0.8v0.8h-0.8zM323.1 429.0h0.8v0.8h-0.8zM359.6 432.5h0.8v0.8h-0.8zM347.3 434.1h0.8v0.8h-0.8zM328.5 428.4h0.8v0.8h-0.8zM361.1 435.1h0.8v0.8h-0.8zM366.4 430.6h0.8v0.8h-0.8zM337.9 428.1h0.8v0.8h-0.8zM347.1 432.2h0.8v0.8h-0.8zM353.4 432.3h0.8v0.8h-0.8zM326.1 428.4h0.8v0.8h-0.8zM366.3 429.8h0.8v0.8h-0.8zM345.0 433.1h0.8v0.8h-0.8zM353.5 430.2h0.8v0.8h-0.8zM322.9 430.7h0.8v0.8h-0.8zM348.2 429.6h0.8v0.8h-0.8zM326.8 437.3h0.8v0.8h-0.8zM360.6 437.9h0.8v0.8h-0.8zM319.9 424.7h0.8v0.8h-0.8zM338.1 428.2h0.8v0.8h-0.8zM322.3 433.3h0.8v0.8h-0.8zM332.1 427.8h0.8v0.8h-0.8zM357.4 431.3h0.8v0.8h-0.8zM347.8 432.5h0.8v0.8h-0.8zM356.6 427.8h0.8v0.8h-0.8zM321.6 429.9h0.8v0.8h-0.8zM351.8 433.4h0.8v0.8h-0.8zM336.0 433.7h0.8v0.8h-0.8zM329.4 437.3h0.8v0.8h-0.8zM337.2 424.0h0.8v0.8h-0.8zM343.3 431.3h0.8v0.8h-0.8zM362.7 432.7h0.8v0.8h-0.8zM346.5 432.6h0.8v0.8h-0.8zM327.0 429.1h0.8v0.8h-0.8zM338.1 433.4h0.8v0.8h-0.8zM330.6 431.9h0.8v0.8h-0.8zM359.4 429.9h0.8v0.8h-0.8zM322.3 428.6h0.8v0.8h-0.8zM356.3 427.7h0.8v0.8h-0.8zM331.3 428.0h0.8v0.8h-0.8zM333.9 430.7h0.8v0.8h-0.8zM344.3 437.1h0.8v0.8h-0.8zM323.8 428.8h0.8v0.8h-0.8zM348.8 424.6h0.8v0.8h-0.8zM323.5 434.7h0.8v0.8h-0.8zM368.0 431.2h0.8v0.8h-0.8zM353.4 427.1h0.8v0.8h-0.8zM356.4 431.9h0.8v0.8h-0.8zM322.0 428.7h0.8v0.8h-0.8zM340.3 431.4h0.8v0.8h-0.8zM354.7 428.2h0.8v0.8h-0.8zM337.1 431.8h0.8v0.8h-0.8zM367.7 426.1h0.8v0.8h-0.8zM344.3 422.5h0.8v0.8h-0.8zM355.4 428.2h0.8v0.8h-0.8zM350.9 424.9h0.8v0.8h-0.8z" fill="#2e4cf0" fill-opacity="0.5"/>
<g filter="url(#bl05)" transform="rotate(-10 314.5 432.0)">
<ellipse cx="314.5" cy="432.0" rx="7.00" ry="5.00" fill="#2a42ee"/>
<ellipse cx="314.5" cy="432.0" rx="6.15" ry="4.39" fill="#1e9cf2"/>
<ellipse cx="314.5" cy="432.0" rx="5.30" ry="3.79" fill="#2ee2f0"/>
<ellipse cx="314.5" cy="432.0" rx="4.45" ry="3.18" fill="#4fe68c"/>
<ellipse cx="314.5" cy="432.0" rx="3.60" ry="2.57" fill="#b4e83c"/>
<ellipse cx="314.5" cy="432.0" rx="2.75" ry="1.96" fill="#f2e226"/>
<ellipse cx="314.5" cy="432.0" rx="1.90" ry="1.36" fill="#f59a26"/>
<ellipse cx="314.5" cy="432.0" rx="1.05" ry="0.75" fill="#e83a1e"/>
</g>
</g>
<clipPath id="c381_352"><rect x="381" y="352.4" width="79.80000000000001" height="86.60000000000002"/></clipPath>
<g clip-path="url(#c381_352)">
<g filter="url(#bl2)" fill="#b4bcf8" opacity="0.4"><path d="M404.2 430.1L409.3 413.8L412.0 398.6L410.5 382.0L400.5 382.0L399.0 397.4L395.7 410.2L390.8 425.9Z"/><circle cx="397.5" cy="428.0" r="7.0"/><circle cx="405.5" cy="382.0" r="5.0"/></g>
<g filter="url(#bl2)" fill="#93a0f6" opacity="0.55"><path d="M403.6 431.0L406.4 424.7L409.4 417.0L410.6 410.2L410.7 403.8L401.3 402.2L399.4 407.8L397.6 413.0L394.6 419.3L391.4 425.0Z"/><circle cx="397.5" cy="428.0" r="6.8"/><circle cx="406.0" cy="403.0" r="4.8"/></g>
<g filter="url(#bl2)" fill="#93a0f6" opacity="0.55"><path d="M399.5 436.2L423.0 435.9L448.0 435.4L448.0 425.0L423.0 424.9L399.5 424.8Z"/><circle cx="399.5" cy="430.5" r="5.7"/><circle cx="448.0" cy="430.2" r="5.2"/></g>
<g filter="url(#bl1)" fill="#2a48f0" opacity="0.95"><path d="M400.9 429.7L403.7 423.5L406.5 416.0L407.6 409.6L407.8 403.3L404.2 402.7L402.4 408.4L400.5 414.0L397.3 420.5L394.1 426.3Z"/><circle cx="397.5" cy="428.0" r="3.8"/><circle cx="406.0" cy="403.0" r="1.8"/></g>
<g filter="url(#bl1)" fill="#2a48f0" opacity="0.95"><path d="M399.5 433.7L423.0 433.4L448.0 432.9L448.0 427.5L423.0 427.4L399.5 427.3Z"/><circle cx="399.5" cy="430.5" r="3.2"/><circle cx="448.0" cy="430.2" r="2.7"/></g>
<path d="M405.3 400.7h0.8v0.8h-0.8zM401.3 411.6h0.8v0.8h-0.8zM408.5 396.0h0.8v0.8h-0.8zM414.4 402.3h0.8v0.8h-0.8zM397.7 407.1h0.8v0.8h-0.8zM432.8 399.6h0.8v0.8h-0.8zM416.1 395.3h0.8v0.8h-0.8zM411.2 408.0h0.8v0.8h-0.8zM406.3 388.2h0.8v0.8h-0.8zM411.7 410.3h0.8v0.8h-0.8zM417.7 410.7h0.8v0.8h-0.8zM407.4 408.0h0.8v0.8h-0.8zM417.3 388.4h0.8v0.8h-0.8zM414.3 402.9h0.8v0.8h-0.8zM400.1 406.6h0.8v0.8h-0.8zM412.7 372.1h0.8v0.8h-0.8zM420.6 400.1h0.8v0.8h-0.8zM404.6 403.9h0.8v0.8h-0.8zM403.4 373.5h0.8v0.8h-0.8zM409.4 394.5h0.8v0.8h-0.8zM414.2 386.5h0.8v0.8h-0.8zM415.9 373.8h0.8v0.8h-0.8zM413.3 377.1h0.8v0.8h-0.8zM415.5 391.1h0.8v0.8h-0.8zM410.6 390.2h0.8v0.8h-0.8zM414.3 379.9h0.8v0.8h-0.8zM418.9 410.6h0.8v0.8h-0.8zM410.5 398.0h0.8v0.8h-0.8zM403.7 399.5h0.8v0.8h-0.8zM417.5 405.2h0.8v0.8h-0.8zM405.0 396.8h0.8v0.8h-0.8zM413.9 397.1h0.8v0.8h-0.8zM407.4 366.7h0.8v0.8h-0.8zM409.1 395.2h0.8v0.8h-0.8zM413.7 392.1h0.8v0.8h-0.8zM415.7 394.7h0.8v0.8h-0.8zM414.2 371.0h0.8v0.8h-0.8zM422.0 400.5h0.8v0.8h-0.8zM411.9 410.8h0.8v0.8h-0.8zM400.5 408.9h0.8v0.8h-0.8zM415.7 370.2h0.8v0.8h-0.8zM408.4 393.1h0.8v0.8h-0.8zM409.8 403.3h0.8v0.8h-0.8zM406.7 398.8h0.8v0.8h-0.8zM417.0 399.0h0.8v0.8h-0.8zM405.6 411.3h0.8v0.8h-0.8zM416.6 411.1h0.8v0.8h-0.8zM419.7 398.6h0.8v0.8h-0.8zM412.6 393.9h0.8v0.8h-0.8zM407.4 412.1h0.8v0.8h-0.8zM413.4 388.3h0.8v0.8h-0.8zM398.7 389.1h0.8v0.8h-0.8zM409.9 392.4h0.8v0.8h-0.8zM416.2 406.9h0.8v0.8h-0.8zM412.0 414.2h0.8v0.8h-0.8zM398.7 399.6h0.8v0.8h-0.8zM419.8 399.3h0.8v0.8h-0.8zM408.3 392.5h0.8v0.8h-0.8zM406.3 367.7h0.8v0.8h-0.8zM425.1 359.3h0.8v0.8h-0.8zM405.7 388.0h0.8v0.8h-0.8zM409.6 395.4h0.8v0.8h-0.8zM409.5 400.1h0.8v0.8h-0.8zM395.5 417.9h0.8v0.8h-0.8zM440.5 384.1h0.8v0.8h-0.8zM414.9 400.9h0.8v0.8h-0.8zM402.0 403.0h0.8v0.8h-0.8zM396.3 369.5h0.8v0.8h-0.8zM421.7 413.1h0.8v0.8h-0.8zM423.7 377.2h0.8v0.8h-0.8zM414.1 403.3h0.8v0.8h-0.8zM400.2 381.0h0.8v0.8h-0.8zM402.9 405.0h0.8v0.8h-0.8zM401.8 401.9h0.8v0.8h-0.8zM408.5 416.4h0.8v0.8h-0.8zM404.5 372.5h0.8v0.8h-0.8zM406.0 384.3h0.8v0.8h-0.8zM443.7 414.0h0.8v0.8h-0.8zM442.7 417.1h0.8v0.8h-0.8zM450.1 423.9h0.8v0.8h-0.8zM449.6 395.6h0.8v0.8h-0.8zM425.5 402.4h0.8v0.8h-0.8zM413.4 389.2h0.8v0.8h-0.8zM414.3 421.3h0.8v0.8h-0.8zM454.3 419.6h0.8v0.8h-0.8zM435.8 415.0h0.8v0.8h-0.8zM445.6 407.7h0.8v0.8h-0.8zM452.7 423.8h0.8v0.8h-0.8zM424.0 420.6h0.8v0.8h-0.8zM433.1 413.9h0.8v0.8h-0.8zM444.5 420.5h0.8v0.8h-0.8zM422.5 413.9h0.8v0.8h-0.8zM415.2 418.5h0.8v0.8h-0.8zM438.3 409.3h0.8v0.8h-0.8zM420.6 404.8h0.8v0.8h-0.8zM437.2 404.9h0.8v0.8h-0.8zM421.4 417.1h0.8v0.8h-0.8zM443.1 417.3h0.8v0.8h-0.8zM414.5 415.4h0.8v0.8h-0.8zM449.1 406.1h0.8v0.8h-0.8zM430.0 420.2h0.8v0.8h-0.8zM433.9 407.5h0.8v0.8h-0.8zM432.1 401.9h0.8v0.8h-0.8zM418.9 408.6h0.8v0.8h-0.8zM410.9 406.3h0.8v0.8h-0.8z" fill="#8090f4" fill-opacity="0.7"/>
<path d="M404.0 415.3h0.8v0.8h-0.8zM409.6 409.7h0.8v0.8h-0.8zM394.5 425.9h0.8v0.8h-0.8zM394.6 421.3h0.8v0.8h-0.8zM399.3 409.2h0.8v0.8h-0.8zM404.4 412.9h0.8v0.8h-0.8zM409.9 385.9h0.8v0.8h-0.8zM402.7 415.7h0.8v0.8h-0.8zM405.3 413.2h0.8v0.8h-0.8zM402.8 400.6h0.8v0.8h-0.8zM402.7 418.2h0.8v0.8h-0.8zM403.0 422.0h0.8v0.8h-0.8zM400.2 410.2h0.8v0.8h-0.8zM405.2 405.3h0.8v0.8h-0.8zM399.7 400.3h0.8v0.8h-0.8zM413.0 399.4h0.8v0.8h-0.8zM404.0 401.4h0.8v0.8h-0.8zM408.1 420.5h0.8v0.8h-0.8zM402.1 400.7h0.8v0.8h-0.8zM404.3 418.6h0.8v0.8h-0.8zM406.0 394.1h0.8v0.8h-0.8zM394.6 426.1h0.8v0.8h-0.8zM403.2 400.0h0.8v0.8h-0.8zM403.3 427.7h0.8v0.8h-0.8zM411.1 410.6h0.8v0.8h-0.8zM397.5 400.8h0.8v0.8h-0.8zM403.5 425.1h0.8v0.8h-0.8zM403.3 411.9h0.8v0.8h-0.8zM404.0 423.7h0.8v0.8h-0.8zM410.3 394.5h0.8v0.8h-0.8zM398.9 405.7h0.8v0.8h-0.8zM405.7 398.8h0.8v0.8h-0.8zM396.9 418.2h0.8v0.8h-0.8zM402.0 422.1h0.8v0.8h-0.8zM410.3 412.9h0.8v0.8h-0.8zM406.0 410.0h0.8v0.8h-0.8zM407.0 403.5h0.8v0.8h-0.8zM404.4 407.4h0.8v0.8h-0.8zM404.4 397.1h0.8v0.8h-0.8zM405.1 408.3h0.8v0.8h-0.8zM397.3 409.3h0.8v0.8h-0.8zM402.8 403.4h0.8v0.8h-0.8zM408.6 403.5h0.8v0.8h-0.8zM398.8 409.2h0.8v0.8h-0.8zM396.8 415.1h0.8v0.8h-0.8zM407.8 416.1h0.8v0.8h-0.8zM406.0 407.5h0.8v0.8h-0.8zM406.9 396.4h0.8v0.8h-0.8zM407.3 396.4h0.8v0.8h-0.8zM406.2 402.1h0.8v0.8h-0.8zM406.7 393.0h0.8v0.8h-0.8zM399.4 432.3h0.8v0.8h-0.8zM395.9 413.4h0.8v0.8h-0.8zM406.3 404.1h0.8v0.8h-0.8zM406.4 422.4h0.8v0.8h-0.8zM405.5 422.7h0.8v0.8h-0.8zM400.8 419.0h0.8v0.8h-0.8zM408.1 412.8h0.8v0.8h-0.8zM405.9 396.7h0.8v0.8h-0.8zM398.3 396.1h0.8v0.8h-0.8zM398.6 407.2h0.8v0.8h-0.8zM406.1 400.3h0.8v0.8h-0.8zM401.8 411.4h0.8v0.8h-0.8zM398.5 426.1h0.8v0.8h-0.8zM406.8 395.7h0.8v0.8h-0.8zM397.9 421.2h0.8v0.8h-0.8zM410.4 417.7h0.8v0.8h-0.8zM401.8 409.5h0.8v0.8h-0.8zM408.9 397.5h0.8v0.8h-0.8zM397.0 425.4h0.8v0.8h-0.8zM407.9 404.4h0.8v0.8h-0.8zM406.4 393.4h0.8v0.8h-0.8zM403.7 427.5h0.8v0.8h-0.8zM398.9 406.2h0.8v0.8h-0.8zM397.3 410.4h0.8v0.8h-0.8zM405.1 390.5h0.8v0.8h-0.8zM409.1 391.9h0.8v0.8h-0.8zM395.5 420.7h0.8v0.8h-0.8zM403.8 411.0h0.8v0.8h-0.8zM400.2 396.6h0.8v0.8h-0.8zM399.4 421.0h0.8v0.8h-0.8zM404.7 417.8h0.8v0.8h-0.8zM401.1 387.9h0.8v0.8h-0.8zM411.3 392.8h0.8v0.8h-0.8zM404.1 403.7h0.8v0.8h-0.8zM404.7 413.3h0.8v0.8h-0.8zM408.7 395.6h0.8v0.8h-0.8zM406.0 394.6h0.8v0.8h-0.8zM403.0 399.7h0.8v0.8h-0.8zM402.9 402.8h0.8v0.8h-0.8zM391.3 412.7h0.8v0.8h-0.8zM394.1 420.7h0.8v0.8h-0.8zM406.6 407.5h0.8v0.8h-0.8zM401.9 388.6h0.8v0.8h-0.8zM400.0 426.4h0.8v0.8h-0.8zM408.8 396.4h0.8v0.8h-0.8zM406.7 402.5h0.8v0.8h-0.8zM399.6 407.9h0.8v0.8h-0.8zM404.5 399.4h0.8v0.8h-0.8zM406.6 419.1h0.8v0.8h-0.8zM399.6 427.6h0.8v0.8h-0.8zM398.7 402.8h0.8v0.8h-0.8zM402.1 404.3h0.8v0.8h-0.8zM399.6 425.0h0.8v0.8h-0.8zM402.6 415.9h0.8v0.8h-0.8zM408.4 409.3h0.8v0.8h-0.8zM401.0 415.8h0.8v0.8h-0.8zM398.0 426.5h0.8v0.8h-0.8zM397.9 405.2h0.8v0.8h-0.8zM402.6 422.6h0.8v0.8h-0.8zM412.5 399.8h0.8v0.8h-0.8zM404.7 415.0h0.8v0.8h-0.8zM403.8 404.6h0.8v0.8h-0.8zM402.0 419.6h0.8v0.8h-0.8zM398.7 402.3h0.8v0.8h-0.8zM401.1 421.9h0.8v0.8h-0.8zM402.0 396.5h0.8v0.8h-0.8zM403.3 408.7h0.8v0.8h-0.8zM399.9 425.2h0.8v0.8h-0.8zM402.0 397.9h0.8v0.8h-0.8zM400.3 420.1h0.8v0.8h-0.8zM399.5 414.3h0.8v0.8h-0.8zM401.4 416.2h0.8v0.8h-0.8zM401.8 411.9h0.8v0.8h-0.8zM400.8 423.3h0.8v0.8h-0.8zM398.6 411.9h0.8v0.8h-0.8zM411.1 398.8h0.8v0.8h-0.8zM405.3 399.3h0.8v0.8h-0.8zM405.3 414.3h0.8v0.8h-0.8zM405.9 403.6h0.8v0.8h-0.8zM426.3 432.3h0.8v0.8h-0.8zM424.2 430.9h0.8v0.8h-0.8zM417.6 431.6h0.8v0.8h-0.8zM430.4 431.1h0.8v0.8h-0.8zM437.6 427.3h0.8v0.8h-0.8zM450.9 428.7h0.8v0.8h-0.8zM448.9 429.6h0.8v0.8h-0.8zM410.7 428.2h0.8v0.8h-0.8zM405.5 437.9h0.8v0.8h-0.8zM425.0 428.6h0.8v0.8h-0.8zM424.3 432.2h0.8v0.8h-0.8zM435.0 431.4h0.8v0.8h-0.8zM451.1 430.3h0.8v0.8h-0.8zM401.4 426.5h0.8v0.8h-0.8zM401.1 431.1h0.8v0.8h-0.8zM429.0 434.1h0.8v0.8h-0.8zM432.0 428.4h0.8v0.8h-0.8zM444.0 428.1h0.8v0.8h-0.8zM443.8 435.6h0.8v0.8h-0.8zM411.0 434.7h0.8v0.8h-0.8zM448.1 431.2h0.8v0.8h-0.8zM402.8 430.7h0.8v0.8h-0.8zM411.3 425.4h0.8v0.8h-0.8zM448.2 433.0h0.8v0.8h-0.8zM402.8 429.2h0.8v0.8h-0.8zM423.4 429.4h0.8v0.8h-0.8zM428.0 429.8h0.8v0.8h-0.8zM412.9 428.0h0.8v0.8h-0.8zM451.8 430.7h0.8v0.8h-0.8zM450.1 433.2h0.8v0.8h-0.8zM418.9 429.3h0.8v0.8h-0.8zM421.6 435.6h0.8v0.8h-0.8zM400.9 428.3h0.8v0.8h-0.8zM423.2 427.9h0.8v0.8h-0.8zM408.6 431.8h0.8v0.8h-0.8zM450.8 431.5h0.8v0.8h-0.8zM426.3 426.4h0.8v0.8h-0.8zM404.5 432.1h0.8v0.8h-0.8zM430.4 431.1h0.8v0.8h-0.8zM445.8 424.1h0.8v0.8h-0.8zM424.4 432.5h0.8v0.8h-0.8zM407.6 430.3h0.8v0.8h-0.8zM418.2 428.5h0.8v0.8h-0.8zM421.0 428.8h0.8v0.8h-0.8zM442.0 426.6h0.8v0.8h-0.8zM407.5 435.1h0.8v0.8h-0.8zM432.1 422.9h0.8v0.8h-0.8zM450.7 431.3h0.8v0.8h-0.8zM446.7 429.1h0.8v0.8h-0.8zM436.8 432.6h0.8v0.8h-0.8zM418.7 429.2h0.8v0.8h-0.8zM405.2 425.1h0.8v0.8h-0.8zM424.7 424.5h0.8v0.8h-0.8zM400.5 430.8h0.8v0.8h-0.8zM437.3 428.2h0.8v0.8h-0.8zM450.5 427.5h0.8v0.8h-0.8zM424.1 429.4h0.8v0.8h-0.8zM424.4 428.2h0.8v0.8h-0.8zM413.3 426.7h0.8v0.8h-0.8zM435.4 428.2h0.8v0.8h-0.8zM413.0 432.7h0.8v0.8h-0.8zM404.0 432.7h0.8v0.8h-0.8zM424.1 432.2h0.8v0.8h-0.8zM448.7 428.5h0.8v0.8h-0.8zM436.9 430.8h0.8v0.8h-0.8zM427.6 430.6h0.8v0.8h-0.8zM408.0 436.5h0.8v0.8h-0.8zM441.3 425.7h0.8v0.8h-0.8zM433.1 421.2h0.8v0.8h-0.8zM411.6 427.1h0.8v0.8h-0.8zM415.1 425.7h0.8v0.8h-0.8zM445.8 426.7h0.8v0.8h-0.8zM412.8 430.4h0.8v0.8h-0.8zM438.5 431.3h0.8v0.8h-0.8zM402.5 434.8h0.8v0.8h-0.8zM401.8 432.7h0.8v0.8h-0.8zM438.0 429.9h0.8v0.8h-0.8zM409.8 426.3h0.8v0.8h-0.8zM408.5 433.7h0.8v0.8h-0.8zM416.8 432.0h0.8v0.8h-0.8zM415.1 430.5h0.8v0.8h-0.8zM411.0 432.7h0.8v0.8h-0.8zM436.9 436.2h0.8v0.8h-0.8zM438.0 433.4h0.8v0.8h-0.8zM412.3 428.1h0.8v0.8h-0.8zM405.0 434.4h0.8v0.8h-0.8zM421.0 427.5h0.8v0.8h-0.8zM442.3 428.5h0.8v0.8h-0.8zM432.0 435.1h0.8v0.8h-0.8zM442.7 427.5h0.8v0.8h-0.8zM405.6 426.1h0.8v0.8h-0.8zM409.0 434.3h0.8v0.8h-0.8zM406.5 428.1h0.8v0.8h-0.8zM413.6 432.0h0.8v0.8h-0.8zM440.0 431.1h0.8v0.8h-0.8zM412.4 434.8h0.8v0.8h-0.8zM435.1 425.0h0.8v0.8h-0.8zM411.4 434.8h0.8v0.8h-0.8zM415.2 432.1h0.8v0.8h-0.8zM441.6 425.1h0.8v0.8h-0.8zM450.6 427.1h0.8v0.8h-0.8zM417.5 428.8h0.8v0.8h-0.8zM432.8 430.6h0.8v0.8h-0.8zM429.0 436.6h0.8v0.8h-0.8zM445.6 430.6h0.8v0.8h-0.8zM406.4 429.8h0.8v0.8h-0.8zM419.7 425.8h0.8v0.8h-0.8zM441.3 430.8h0.8v0.8h-0.8zM420.5 430.3h0.8v0.8h-0.8z" fill="#2e4cf0" fill-opacity="0.5"/>
<g filter="url(#bl05)" transform="rotate(-10 395.5 432.0)">
<ellipse cx="395.5" cy="432.0" rx="7.00" ry="5.00" fill="#2a42ee"/>
<ellipse cx="395.5" cy="432.0" rx="6.15" ry="4.39" fill="#1e9cf2"/>
<ellipse cx="395.5" cy="432.0" rx="5.30" ry="3.79" fill="#2ee2f0"/>
<ellipse cx="395.5" cy="432.0" rx="4.45" ry="3.18" fill="#4fe68c"/>
<ellipse cx="395.5" cy="432.0" rx="3.60" ry="2.57" fill="#b4e83c"/>
<ellipse cx="395.5" cy="432.0" rx="2.75" ry="1.96" fill="#f2e226"/>
<ellipse cx="395.5" cy="432.0" rx="1.90" ry="1.36" fill="#f59a26"/>
<ellipse cx="395.5" cy="432.0" rx="1.05" ry="0.75" fill="#e83a1e"/>
</g>
</g>
<clipPath id="c460_352"><rect x="460.8" y="352.4" width="80.99999999999994" height="86.60000000000002"/></clipPath>
<g clip-path="url(#c460_352)">
<g filter="url(#bl2)" fill="#b4bcf8" opacity="0.4"><path d="M484.2 430.1L489.3 413.8L492.0 398.6L490.5 382.0L480.5 382.0L479.0 397.4L475.7 410.2L470.8 425.9Z"/><circle cx="477.5" cy="428.0" r="7.0"/><circle cx="485.5" cy="382.0" r="5.0"/></g>
<g filter="url(#bl2)" fill="#93a0f6" opacity="0.55"><path d="M483.6 431.0L486.4 424.7L489.4 417.0L490.6 410.2L490.7 403.8L481.3 402.2L479.4 407.8L477.6 413.0L474.6 419.3L471.4 425.0Z"/><circle cx="477.5" cy="428.0" r="6.8"/><circle cx="486.0" cy="403.0" r="4.8"/></g>
<g filter="url(#bl2)" fill="#93a0f6" opacity="0.55"><path d="M479.5 436.2L504.0 435.9L530.0 435.4L530.0 425.0L504.0 424.9L479.5 424.8Z"/><circle cx="479.5" cy="430.5" r="5.7"/><circle cx="530.0" cy="430.2" r="5.2"/></g>
<g filter="url(#bl1)" fill="#2a48f0" opacity="0.95"><path d="M480.9 429.7L483.7 423.5L486.5 416.0L487.6 409.6L487.8 403.3L484.2 402.7L482.4 408.4L480.5 414.0L477.3 420.5L474.1 426.3Z"/><circle cx="477.5" cy="428.0" r="3.8"/><circle cx="486.0" cy="403.0" r="1.8"/></g>
<g filter="url(#bl1)" fill="#2a48f0" opacity="0.95"><path d="M479.5 433.7L504.0 433.4L530.0 432.9L530.0 427.5L504.0 427.4L479.5 427.3Z"/><circle cx="479.5" cy="430.5" r="3.2"/><circle cx="530.0" cy="430.2" r="2.7"/></g>
<path d="M495.3 400.0h0.8v0.8h-0.8zM483.0 406.9h0.8v0.8h-0.8zM484.5 409.4h0.8v0.8h-0.8zM496.4 386.3h0.8v0.8h-0.8zM489.2 395.0h0.8v0.8h-0.8zM490.0 381.4h0.8v0.8h-0.8zM492.5 413.3h0.8v0.8h-0.8zM498.3 410.1h0.8v0.8h-0.8zM495.3 403.6h0.8v0.8h-0.8zM492.2 417.4h0.8v0.8h-0.8zM479.1 398.6h0.8v0.8h-0.8zM472.9 406.6h0.8v0.8h-0.8zM489.9 402.8h0.8v0.8h-0.8zM483.9 409.1h0.8v0.8h-0.8zM483.6 408.0h0.8v0.8h-0.8zM492.2 396.2h0.8v0.8h-0.8zM506.1 386.3h0.8v0.8h-0.8zM475.7 399.7h0.8v0.8h-0.8zM503.3 395.2h0.8v0.8h-0.8zM494.2 405.9h0.8v0.8h-0.8zM484.0 405.6h0.8v0.8h-0.8zM495.9 384.0h0.8v0.8h-0.8zM488.2 387.9h0.8v0.8h-0.8zM497.4 411.8h0.8v0.8h-0.8zM494.0 399.6h0.8v0.8h-0.8zM482.7 405.9h0.8v0.8h-0.8zM496.0 410.4h0.8v0.8h-0.8zM490.4 417.9h0.8v0.8h-0.8zM487.6 360.8h0.8v0.8h-0.8zM493.4 393.0h0.8v0.8h-0.8zM485.8 394.1h0.8v0.8h-0.8zM498.1 366.3h0.8v0.8h-0.8zM474.2 415.9h0.8v0.8h-0.8zM491.5 392.2h0.8v0.8h-0.8zM495.5 405.4h0.8v0.8h-0.8zM483.5 415.0h0.8v0.8h-0.8zM486.0 388.6h0.8v0.8h-0.8zM494.4 397.6h0.8v0.8h-0.8zM481.8 405.8h0.8v0.8h-0.8zM496.0 383.6h0.8v0.8h-0.8zM499.3 380.6h0.8v0.8h-0.8zM494.2 390.5h0.8v0.8h-0.8zM489.8 412.7h0.8v0.8h-0.8zM478.9 400.4h0.8v0.8h-0.8zM490.9 362.7h0.8v0.8h-0.8zM492.9 403.7h0.8v0.8h-0.8zM492.8 388.4h0.8v0.8h-0.8zM485.2 405.7h0.8v0.8h-0.8zM502.5 411.2h0.8v0.8h-0.8zM501.8 406.6h0.8v0.8h-0.8zM487.5 413.4h0.8v0.8h-0.8zM482.9 375.7h0.8v0.8h-0.8zM479.1 400.1h0.8v0.8h-0.8zM488.4 416.7h0.8v0.8h-0.8zM488.5 402.9h0.8v0.8h-0.8zM492.5 405.1h0.8v0.8h-0.8zM488.5 411.4h0.8v0.8h-0.8zM490.0 407.2h0.8v0.8h-0.8zM482.2 416.6h0.8v0.8h-0.8zM485.8 411.5h0.8v0.8h-0.8zM486.1 404.4h0.8v0.8h-0.8zM491.8 416.7h0.8v0.8h-0.8zM490.5 371.9h0.8v0.8h-0.8zM492.6 410.6h0.8v0.8h-0.8zM474.7 383.9h0.8v0.8h-0.8zM492.9 407.9h0.8v0.8h-0.8zM481.3 415.7h0.8v0.8h-0.8zM490.8 365.6h0.8v0.8h-0.8zM496.5 392.3h0.8v0.8h-0.8zM481.5 395.4h0.8v0.8h-0.8zM478.1 409.2h0.8v0.8h-0.8zM472.2 398.2h0.8v0.8h-0.8zM484.5 375.7h0.8v0.8h-0.8zM500.6 414.7h0.8v0.8h-0.8zM490.2 391.7h0.8v0.8h-0.8zM488.4 376.0h0.8v0.8h-0.8zM493.9 379.5h0.8v0.8h-0.8zM488.1 413.1h0.8v0.8h-0.8zM483.6 384.4h0.8v0.8h-0.8zM494.6 387.9h0.8v0.8h-0.8zM535.6 416.2h0.8v0.8h-0.8zM536.6 402.8h0.8v0.8h-0.8zM497.1 423.2h0.8v0.8h-0.8zM491.9 421.2h0.8v0.8h-0.8zM500.7 407.0h0.8v0.8h-0.8zM513.0 405.4h0.8v0.8h-0.8zM497.5 423.8h0.8v0.8h-0.8zM520.3 409.4h0.8v0.8h-0.8zM512.3 379.2h0.8v0.8h-0.8zM515.3 417.5h0.8v0.8h-0.8zM508.8 377.0h0.8v0.8h-0.8zM527.3 415.1h0.8v0.8h-0.8zM533.6 408.4h0.8v0.8h-0.8zM506.4 419.9h0.8v0.8h-0.8zM516.1 420.6h0.8v0.8h-0.8zM540.3 418.4h0.8v0.8h-0.8zM534.0 405.4h0.8v0.8h-0.8zM506.2 411.5h0.8v0.8h-0.8zM514.7 406.2h0.8v0.8h-0.8zM522.5 416.0h0.8v0.8h-0.8zM514.2 404.9h0.8v0.8h-0.8zM507.8 399.7h0.8v0.8h-0.8zM494.1 409.4h0.8v0.8h-0.8zM531.3 414.3h0.8v0.8h-0.8zM491.6 417.4h0.8v0.8h-0.8zM517.5 417.4h0.8v0.8h-0.8z" fill="#8090f4" fill-opacity="0.7"/>
<path d="M484.8 395.3h0.8v0.8h-0.8zM487.1 404.1h0.8v0.8h-0.8zM480.4 415.9h0.8v0.8h-0.8zM482.9 397.2h0.8v0.8h-0.8zM474.5 426.4h0.8v0.8h-0.8zM479.7 397.7h0.8v0.8h-0.8zM486.0 414.2h0.8v0.8h-0.8zM482.5 414.7h0.8v0.8h-0.8zM486.0 395.8h0.8v0.8h-0.8zM476.4 416.5h0.8v0.8h-0.8zM484.3 412.9h0.8v0.8h-0.8zM487.9 407.1h0.8v0.8h-0.8zM480.4 413.4h0.8v0.8h-0.8zM484.1 404.0h0.8v0.8h-0.8zM478.6 416.3h0.8v0.8h-0.8zM482.7 395.4h0.8v0.8h-0.8zM482.2 414.1h0.8v0.8h-0.8zM486.6 403.8h0.8v0.8h-0.8zM479.7 423.4h0.8v0.8h-0.8zM483.3 420.1h0.8v0.8h-0.8zM482.7 395.6h0.8v0.8h-0.8zM477.5 392.7h0.8v0.8h-0.8zM483.0 422.5h0.8v0.8h-0.8zM479.9 414.5h0.8v0.8h-0.8zM488.4 417.3h0.8v0.8h-0.8zM475.5 396.7h0.8v0.8h-0.8zM480.7 426.2h0.8v0.8h-0.8zM477.2 422.2h0.8v0.8h-0.8zM480.7 424.8h0.8v0.8h-0.8zM478.4 399.3h0.8v0.8h-0.8zM485.6 414.3h0.8v0.8h-0.8zM481.6 415.9h0.8v0.8h-0.8zM492.6 393.7h0.8v0.8h-0.8zM480.9 422.6h0.8v0.8h-0.8zM481.2 414.0h0.8v0.8h-0.8zM482.3 408.3h0.8v0.8h-0.8zM483.3 408.3h0.8v0.8h-0.8zM486.1 408.9h0.8v0.8h-0.8zM473.6 419.9h0.8v0.8h-0.8zM489.8 395.8h0.8v0.8h-0.8zM481.4 424.8h0.8v0.8h-0.8zM491.2 403.7h0.8v0.8h-0.8zM484.4 400.2h0.8v0.8h-0.8zM479.8 402.2h0.8v0.8h-0.8zM482.5 404.6h0.8v0.8h-0.8zM495.0 392.5h0.8v0.8h-0.8zM481.8 408.8h0.8v0.8h-0.8zM486.5 414.8h0.8v0.8h-0.8zM490.1 391.9h0.8v0.8h-0.8zM481.2 408.2h0.8v0.8h-0.8zM478.8 417.0h0.8v0.8h-0.8zM482.2 398.0h0.8v0.8h-0.8zM493.9 399.1h0.8v0.8h-0.8zM488.6 405.4h0.8v0.8h-0.8zM487.5 405.3h0.8v0.8h-0.8zM483.5 412.0h0.8v0.8h-0.8zM487.3 402.0h0.8v0.8h-0.8zM482.4 420.8h0.8v0.8h-0.8zM484.0 407.2h0.8v0.8h-0.8zM487.5 407.0h0.8v0.8h-0.8zM485.6 406.7h0.8v0.8h-0.8zM474.5 422.5h0.8v0.8h-0.8zM490.3 394.9h0.8v0.8h-0.8zM485.5 402.8h0.8v0.8h-0.8zM484.8 409.2h0.8v0.8h-0.8zM484.1 395.0h0.8v0.8h-0.8zM488.2 405.1h0.8v0.8h-0.8zM483.9 424.9h0.8v0.8h-0.8zM488.3 405.0h0.8v0.8h-0.8zM481.6 419.7h0.8v0.8h-0.8zM477.1 426.0h0.8v0.8h-0.8zM486.1 397.6h0.8v0.8h-0.8zM476.0 412.1h0.8v0.8h-0.8zM479.2 408.0h0.8v0.8h-0.8zM484.8 424.9h0.8v0.8h-0.8zM481.3 426.2h0.8v0.8h-0.8zM485.9 421.5h0.8v0.8h-0.8zM483.0 408.7h0.8v0.8h-0.8zM487.4 402.4h0.8v0.8h-0.8zM490.2 405.2h0.8v0.8h-0.8zM475.9 404.3h0.8v0.8h-0.8zM489.3 415.8h0.8v0.8h-0.8zM482.2 395.1h0.8v0.8h-0.8zM473.1 420.4h0.8v0.8h-0.8zM488.3 393.5h0.8v0.8h-0.8zM480.1 402.7h0.8v0.8h-0.8zM482.8 423.9h0.8v0.8h-0.8zM482.0 413.1h0.8v0.8h-0.8zM483.3 404.2h0.8v0.8h-0.8zM482.7 419.6h0.8v0.8h-0.8zM488.4 394.2h0.8v0.8h-0.8zM487.0 406.6h0.8v0.8h-0.8zM482.5 409.1h0.8v0.8h-0.8zM482.5 421.8h0.8v0.8h-0.8zM474.6 402.8h0.8v0.8h-0.8zM477.6 409.3h0.8v0.8h-0.8zM475.9 403.8h0.8v0.8h-0.8zM480.4 407.4h0.8v0.8h-0.8zM483.8 416.4h0.8v0.8h-0.8zM486.8 394.1h0.8v0.8h-0.8zM484.2 411.6h0.8v0.8h-0.8zM482.5 419.2h0.8v0.8h-0.8zM495.1 399.6h0.8v0.8h-0.8zM483.9 403.8h0.8v0.8h-0.8zM469.5 428.8h0.8v0.8h-0.8zM480.5 416.2h0.8v0.8h-0.8zM486.2 410.6h0.8v0.8h-0.8zM487.8 399.1h0.8v0.8h-0.8zM480.8 419.7h0.8v0.8h-0.8zM485.1 401.5h0.8v0.8h-0.8zM478.0 416.5h0.8v0.8h-0.8zM481.3 412.2h0.8v0.8h-0.8zM487.1 398.6h0.8v0.8h-0.8zM484.2 403.3h0.8v0.8h-0.8zM476.2 408.3h0.8v0.8h-0.8zM492.0 393.0h0.8v0.8h-0.8zM487.1 408.9h0.8v0.8h-0.8zM477.5 413.2h0.8v0.8h-0.8zM482.0 419.7h0.8v0.8h-0.8zM473.6 419.1h0.8v0.8h-0.8zM474.6 421.5h0.8v0.8h-0.8zM478.7 409.9h0.8v0.8h-0.8zM482.5 427.6h0.8v0.8h-0.8zM480.5 416.7h0.8v0.8h-0.8zM485.2 400.3h0.8v0.8h-0.8zM479.6 412.5h0.8v0.8h-0.8zM485.7 405.4h0.8v0.8h-0.8zM480.7 399.7h0.8v0.8h-0.8zM483.9 394.4h0.8v0.8h-0.8zM482.2 426.0h0.8v0.8h-0.8zM485.6 427.0h0.8v0.8h-0.8zM495.5 429.4h0.8v0.8h-0.8zM494.9 432.5h0.8v0.8h-0.8zM500.0 427.1h0.8v0.8h-0.8zM504.4 430.9h0.8v0.8h-0.8zM488.8 425.9h0.8v0.8h-0.8zM489.6 429.1h0.8v0.8h-0.8zM508.1 431.4h0.8v0.8h-0.8zM520.6 425.9h0.8v0.8h-0.8zM489.9 426.7h0.8v0.8h-0.8zM518.4 434.1h0.8v0.8h-0.8zM481.9 433.5h0.8v0.8h-0.8zM493.3 432.8h0.8v0.8h-0.8zM533.8 432.4h0.8v0.8h-0.8zM517.2 433.5h0.8v0.8h-0.8zM517.5 430.9h0.8v0.8h-0.8zM482.3 427.1h0.8v0.8h-0.8zM531.2 432.4h0.8v0.8h-0.8zM507.9 434.9h0.8v0.8h-0.8zM508.1 427.3h0.8v0.8h-0.8zM531.4 426.4h0.8v0.8h-0.8zM488.5 430.2h0.8v0.8h-0.8zM517.4 425.6h0.8v0.8h-0.8zM534.8 431.6h0.8v0.8h-0.8zM524.6 432.0h0.8v0.8h-0.8zM483.0 427.2h0.8v0.8h-0.8zM499.6 426.8h0.8v0.8h-0.8zM505.1 430.0h0.8v0.8h-0.8zM520.9 426.3h0.8v0.8h-0.8zM490.8 426.0h0.8v0.8h-0.8zM486.5 433.6h0.8v0.8h-0.8zM482.6 430.9h0.8v0.8h-0.8zM528.7 429.9h0.8v0.8h-0.8zM530.1 423.2h0.8v0.8h-0.8zM514.1 429.0h0.8v0.8h-0.8zM531.1 429.1h0.8v0.8h-0.8zM508.1 430.3h0.8v0.8h-0.8zM500.0 429.7h0.8v0.8h-0.8zM493.1 434.1h0.8v0.8h-0.8zM506.9 432.5h0.8v0.8h-0.8zM490.5 429.4h0.8v0.8h-0.8zM521.8 424.2h0.8v0.8h-0.8zM508.9 438.0h0.8v0.8h-0.8zM508.0 432.0h0.8v0.8h-0.8zM502.3 423.8h0.8v0.8h-0.8zM507.0 427.6h0.8v0.8h-0.8zM504.9 432.3h0.8v0.8h-0.8zM500.6 424.3h0.8v0.8h-0.8zM492.7 436.1h0.8v0.8h-0.8zM515.6 425.6h0.8v0.8h-0.8zM518.2 431.2h0.8v0.8h-0.8zM503.1 431.8h0.8v0.8h-0.8zM508.1 422.0h0.8v0.8h-0.8zM524.3 433.1h0.8v0.8h-0.8zM487.7 424.5h0.8v0.8h-0.8zM506.8 432.0h0.8v0.8h-0.8zM506.8 422.8h0.8v0.8h-0.8zM527.2 427.2h0.8v0.8h-0.8zM491.7 432.4h0.8v0.8h-0.8zM530.9 427.5h0.8v0.8h-0.8zM527.5 427.7h0.8v0.8h-0.8zM491.8 426.6h0.8v0.8h-0.8zM488.7 427.8h0.8v0.8h-0.8zM501.9 428.5h0.8v0.8h-0.8zM481.8 432.2h0.8v0.8h-0.8zM480.9 434.3h0.8v0.8h-0.8zM498.5 425.6h0.8v0.8h-0.8zM493.0 430.7h0.8v0.8h-0.8zM513.7 432.3h0.8v0.8h-0.8zM527.4 428.6h0.8v0.8h-0.8zM511.8 428.6h0.8v0.8h-0.8zM482.8 434.5h0.8v0.8h-0.8zM512.9 429.9h0.8v0.8h-0.8zM492.4 433.4h0.8v0.8h-0.8zM501.2 429.0h0.8v0.8h-0.8zM533.9 436.9h0.8v0.8h-0.8zM493.6 428.2h0.8v0.8h-0.8zM484.0 423.9h0.8v0.8h-0.8zM496.0 426.1h0.8v0.8h-0.8zM534.7 431.1h0.8v0.8h-0.8zM492.3 425.7h0.8v0.8h-0.8zM525.2 429.0h0.8v0.8h-0.8zM524.5 431.7h0.8v0.8h-0.8zM518.5 434.0h0.8v0.8h-0.8zM485.6 430.6h0.8v0.8h-0.8zM482.0 430.8h0.8v0.8h-0.8zM500.0 431.7h0.8v0.8h-0.8zM496.5 426.0h0.8v0.8h-0.8zM534.1 433.7h0.8v0.8h-0.8zM506.3 435.0h0.8v0.8h-0.8zM493.3 427.7h0.8v0.8h-0.8zM498.3 427.0h0.8v0.8h-0.8zM498.7 434.4h0.8v0.8h-0.8zM502.2 433.4h0.8v0.8h-0.8zM509.3 432.8h0.8v0.8h-0.8zM525.7 433.1h0.8v0.8h-0.8zM531.6 432.7h0.8v0.8h-0.8zM489.3 425.6h0.8v0.8h-0.8zM504.6 431.4h0.8v0.8h-0.8zM521.5 431.8h0.8v0.8h-0.8zM501.3 429.2h0.8v0.8h-0.8zM494.6 428.7h0.8v0.8h-0.8zM516.2 430.1h0.8v0.8h-0.8zM492.6 434.5h0.8v0.8h-0.8zM518.2 435.0h0.8v0.8h-0.8zM488.3 428.6h0.8v0.8h-0.8zM508.0 434.1h0.8v0.8h-0.8zM487.2 430.5h0.8v0.8h-0.8z" fill="#2e4cf0" fill-opacity="0.5"/>
<g filter="url(#bl05)" transform="rotate(-10 475.5 432.0)">
<ellipse cx="475.5" cy="432.0" rx="7.00" ry="5.00" fill="#2a42ee"/>
<ellipse cx="475.5" cy="432.0" rx="6.15" ry="4.39" fill="#1e9cf2"/>
<ellipse cx="475.5" cy="432.0" rx="5.30" ry="3.79" fill="#2ee2f0"/>
<ellipse cx="475.5" cy="432.0" rx="4.45" ry="3.18" fill="#4fe68c"/>
<ellipse cx="475.5" cy="432.0" rx="3.60" ry="2.57" fill="#b4e83c"/>
<ellipse cx="475.5" cy="432.0" rx="2.75" ry="1.96" fill="#f2e226"/>
<ellipse cx="475.5" cy="432.0" rx="1.90" ry="1.36" fill="#f59a26"/>
<ellipse cx="475.5" cy="432.0" rx="1.05" ry="0.75" fill="#e83a1e"/>
</g>
</g>
<path d="M52.6 439V352.4H541.8V439" fill="none" stroke="#9a9a9a" stroke-width="0.8"/>
<line x1="135" y1="352.4" x2="135" y2="439" stroke="#777" stroke-width="0.9"/>
<line x1="217" y1="352.4" x2="217" y2="439" stroke="#777" stroke-width="0.9"/>
<line x1="298.6" y1="352.4" x2="298.6" y2="439" stroke="#777" stroke-width="0.9"/>
<line x1="381" y1="352.4" x2="381" y2="439" stroke="#777" stroke-width="0.9"/>
<line x1="460.8" y1="352.4" x2="460.8" y2="439" stroke="#777" stroke-width="0.9"/>
<line x1="50.6" y1="439" x2="541.8" y2="439" stroke="#999" stroke-width="0.6"/>
<path d="M60.6 439v1.6M67.1 439v1.6M86.1 439v1.6M104.6 439v1.6M122.6 439v1.6M143.0 439v1.6M149.5 439v1.6M168.5 439v1.6M187.0 439v1.6M205.0 439v1.6M225.0 439v1.6M231.5 439v1.6M250.5 439v1.6M269.0 439v1.6M287.0 439v1.6M306.6 439v1.6M313.1 439v1.6M332.1 439v1.6M350.6 439v1.6M368.6 439v1.6M389.0 439v1.6M395.5 439v1.6M414.5 439v1.6M433.0 439v1.6M451.0 439v1.6M468.8 439v1.6M475.3 439v1.6M494.3 439v1.6M512.8 439v1.6M530.8 439v1.6" stroke="#555" stroke-width="0.6"/>
<text x="50" y="357.8" font-size="3.6" fill="#222" text-anchor="end" font-family="'Liberation Sans', sans-serif">4.0M</text>
<line x1="50.6" y1="356.6" x2="52.6" y2="356.6" stroke="#777" stroke-width="0.5"/>
<text x="50" y="378.7" font-size="3.6" fill="#222" text-anchor="end" font-family="'Liberation Sans', sans-serif">3.0M</text>
<line x1="50.6" y1="377.5" x2="52.6" y2="377.5" stroke="#777" stroke-width="0.5"/>
<text x="50" y="399.2" font-size="3.6" fill="#222" text-anchor="end" font-family="'Liberation Sans', sans-serif">2.0M</text>
<line x1="50.6" y1="398" x2="52.6" y2="398" stroke="#777" stroke-width="0.5"/>
<text x="50" y="419.8" font-size="3.6" fill="#222" text-anchor="end" font-family="'Liberation Sans', sans-serif">1.0M</text>
<line x1="50.6" y1="418.6" x2="52.6" y2="418.6" stroke="#777" stroke-width="0.5"/>
<text x="50" y="440.5" font-size="3.6" fill="#222" text-anchor="end" font-family="'Liberation Sans', sans-serif">0</text>
<line x1="50.6" y1="439.3" x2="52.6" y2="439.3" stroke="#777" stroke-width="0.5"/>
<text x="61.1" y="445.9" font-size="3.6" fill="#222" text-anchor="middle" font-family="'Liberation Sans', sans-serif">0</text>
<text x="67.6" y="445.9" font-size="3.6" fill="#222" text-anchor="middle" font-family="'Liberation Sans', sans-serif">10³</text>
<text x="86.4" y="445.9" font-size="3.6" fill="#222" text-anchor="middle" font-family="'Liberation Sans', sans-serif">10⁴</text>
<text x="105.1" y="445.9" font-size="3.6" fill="#222" text-anchor="middle" font-family="'Liberation Sans', sans-serif">10⁵</text>
<text x="123.1" y="445.9" font-size="3.6" fill="#222" text-anchor="middle" font-family="'Liberation Sans', sans-serif">10⁶</text>
<text x="143.5" y="445.9" font-size="3.6" fill="#222" text-anchor="middle" font-family="'Liberation Sans', sans-serif">0</text>
<text x="150.0" y="445.9" font-size="3.6" fill="#222" text-anchor="middle" font-family="'Liberation Sans', sans-serif">10³</text>
<text x="168.8" y="445.9" font-size="3.6" fill="#222" text-anchor="middle" font-family="'Liberation Sans', sans-serif">10⁴</text>
<text x="187.5" y="445.9" font-size="3.6" fill="#222" text-anchor="middle" font-family="'Liberation Sans', sans-serif">10⁵</text>
<text x="205.5" y="445.9" font-size="3.6" fill="#222" text-anchor="middle" font-family="'Liberation Sans', sans-serif">10⁶</text>
<text x="225.5" y="445.9" font-size="3.6" fill="#222" text-anchor="middle" font-family="'Liberation Sans', sans-serif">0</text>
<text x="232.0" y="445.9" font-size="3.6" fill="#222" text-anchor="middle" font-family="'Liberation Sans', sans-serif">10³</text>
<text x="250.8" y="445.9" font-size="3.6" fill="#222" text-anchor="middle" font-family="'Liberation Sans', sans-serif">10⁴</text>
<text x="269.5" y="445.9" font-size="3.6" fill="#222" text-anchor="middle" font-family="'Liberation Sans', sans-serif">10⁵</text>
<text x="287.5" y="445.9" font-size="3.6" fill="#222" text-anchor="middle" font-family="'Liberation Sans', sans-serif">10⁶</text>
<text x="307.1" y="445.9" font-size="3.6" fill="#222" text-anchor="middle" font-family="'Liberation Sans', sans-serif">0</text>
<text x="313.6" y="445.9" font-size="3.6" fill="#222" text-anchor="middle" font-family="'Liberation Sans', sans-serif">10³</text>
<text x="332.4" y="445.9" font-size="3.6" fill="#222" text-anchor="middle" font-family="'Liberation Sans', sans-serif">10⁴</text>
<text x="351.1" y="445.9" font-size="3.6" fill="#222" text-anchor="middle" font-family="'Liberation Sans', sans-serif">10⁵</text>
<text x="369.1" y="445.9" font-size="3.6" fill="#222" text-anchor="middle" font-family="'Liberation Sans', sans-serif">10⁶</text>
<text x="389.5" y="445.9" font-size="3.6" fill="#222" text-anchor="middle" font-family="'Liberation Sans', sans-serif">0</text>
<text x="396.0" y="445.9" font-size="3.6" fill="#222" text-anchor="middle" font-family="'Liberation Sans', sans-serif">10³</text>
<text x="414.8" y="445.9" font-size="3.6" fill="#222" text-anchor="middle" font-family="'Liberation Sans', sans-serif">10⁴</text>
<text x="433.5" y="445.9" font-size="3.6" fill="#222" text-anchor="middle" font-family="'Liberation Sans', sans-serif">10⁵</text>
<text x="451.5" y="445.9" font-size="3.6" fill="#222" text-anchor="middle" font-family="'Liberation Sans', sans-serif">10⁶</text>
<text x="469.3" y="445.9" font-size="3.6" fill="#222" text-anchor="middle" font-family="'Liberation Sans', sans-serif">0</text>
<text x="475.8" y="445.9" font-size="3.6" fill="#222" text-anchor="middle" font-family="'Liberation Sans', sans-serif">10³</text>
<text x="494.6" y="445.9" font-size="3.6" fill="#222" text-anchor="middle" font-family="'Liberation Sans', sans-serif">10⁴</text>
<text x="513.3" y="445.9" font-size="3.6" fill="#222" text-anchor="middle" font-family="'Liberation Sans', sans-serif">10⁵</text>
<text x="531.3" y="445.9" font-size="3.6" fill="#222" text-anchor="middle" font-family="'Liberation Sans', sans-serif">10⁶</text>
<clipPath id="c52_473"><rect x="52.6" y="473.4" width="82.4" height="86.60000000000002"/></clipPath>
<g clip-path="url(#c52_473)">
<g filter="url(#bl2)" fill="#93a0f6" opacity="0.55"><path d="M77.7 548.7L79.0 540.1L79.3 529.9L80.8 517.1L81.7 504.1L81.6 490.1L81.1 477.1L80.7 460.1L65.9 459.9L65.3 476.9L64.6 489.9L64.1 503.9L64.8 516.9L65.7 530.1L67.2 539.9L66.5 547.3Z"/><circle cx="72.1" cy="548.0" r="5.6"/><circle cx="73.3" cy="460.0" r="7.4"/></g>
<g filter="url(#bl2)" fill="#93a0f6" opacity="0.5"><path d="M77.0 555.8L78.4 554.1L79.9 552.6L76.3 546.2L73.8 546.9L71.2 548.2Z"/><circle cx="74.1" cy="552.0" r="4.8"/><circle cx="78.1" cy="549.4" r="3.7"/></g>
<g filter="url(#bl1)" fill="#4a64f0" opacity="0.6"><path d="M75.8 554.2L77.4 552.4L78.9 550.9L77.3 547.9L74.8 548.6L72.4 549.8Z"/><circle cx="74.1" cy="552.0" r="2.8"/><circle cx="78.1" cy="549.4" r="1.7"/></g>
<g filter="url(#bl1)" fill="#2a48f0" opacity="0.95"><path d="M74.5 548.3L75.8 540.1L76.1 529.9L77.6 517.1L78.5 504.1L78.4 490.1L77.9 477.0L77.5 460.0L69.1 460.0L68.5 477.0L67.8 489.9L67.3 503.9L68.0 516.9L68.9 530.1L70.4 539.9L69.7 547.7Z"/><circle cx="72.1" cy="548.0" r="2.4"/><circle cx="73.3" cy="460.0" r="4.2"/></g>
<path d="M88.5 489.3h0.8v0.8h-0.8zM80.7 476.1h0.8v0.8h-0.8zM82.6 500.6h0.8v0.8h-0.8zM83.4 475.2h0.8v0.8h-0.8zM88.3 490.1h0.8v0.8h-0.8zM82.9 481.7h0.8v0.8h-0.8zM84.5 521.5h0.8v0.8h-0.8zM84.3 506.7h0.8v0.8h-0.8zM84.9 516.1h0.8v0.8h-0.8zM85.7 531.1h0.8v0.8h-0.8zM88.7 490.6h0.8v0.8h-0.8zM86.4 524.3h0.8v0.8h-0.8zM82.3 508.0h0.8v0.8h-0.8zM78.7 516.7h0.8v0.8h-0.8zM86.9 481.2h0.8v0.8h-0.8zM91.2 488.0h0.8v0.8h-0.8zM87.0 521.4h0.8v0.8h-0.8zM88.9 526.9h0.8v0.8h-0.8zM86.1 492.9h0.8v0.8h-0.8zM87.9 513.6h0.8v0.8h-0.8zM91.9 498.7h0.8v0.8h-0.8zM83.9 523.5h0.8v0.8h-0.8zM85.7 482.5h0.8v0.8h-0.8zM85.8 509.4h0.8v0.8h-0.8zM88.8 476.8h0.8v0.8h-0.8zM87.2 513.9h0.8v0.8h-0.8zM89.4 519.4h0.8v0.8h-0.8zM83.1 506.5h0.8v0.8h-0.8zM90.7 532.9h0.8v0.8h-0.8zM86.0 492.8h0.8v0.8h-0.8zM89.9 542.0h0.8v0.8h-0.8zM85.0 478.4h0.8v0.8h-0.8zM80.7 483.8h0.8v0.8h-0.8zM89.7 511.1h0.8v0.8h-0.8zM88.5 536.9h0.8v0.8h-0.8zM92.8 526.3h0.8v0.8h-0.8zM89.8 493.3h0.8v0.8h-0.8zM83.1 502.5h0.8v0.8h-0.8zM87.2 508.2h0.8v0.8h-0.8zM88.3 510.6h0.8v0.8h-0.8zM82.3 524.0h0.8v0.8h-0.8zM83.0 504.5h0.8v0.8h-0.8zM78.2 527.4h0.8v0.8h-0.8zM86.8 531.3h0.8v0.8h-0.8zM84.4 525.1h0.8v0.8h-0.8zM91.2 508.7h0.8v0.8h-0.8zM80.4 538.7h0.8v0.8h-0.8zM85.6 488.9h0.8v0.8h-0.8zM82.2 519.8h0.8v0.8h-0.8zM88.7 499.7h0.8v0.8h-0.8zM82.8 505.0h0.8v0.8h-0.8zM82.2 485.1h0.8v0.8h-0.8zM83.9 525.4h0.8v0.8h-0.8zM82.8 529.5h0.8v0.8h-0.8zM88.0 516.2h0.8v0.8h-0.8zM84.0 496.3h0.8v0.8h-0.8zM84.3 528.7h0.8v0.8h-0.8zM85.2 490.2h0.8v0.8h-0.8zM80.0 517.2h0.8v0.8h-0.8zM83.9 476.6h0.8v0.8h-0.8zM90.5 481.4h0.8v0.8h-0.8zM86.9 519.9h0.8v0.8h-0.8zM85.5 486.2h0.8v0.8h-0.8zM89.9 483.2h0.8v0.8h-0.8zM82.8 513.7h0.8v0.8h-0.8zM85.3 543.2h0.8v0.8h-0.8zM100.7 541.6h0.8v0.8h-0.8zM92.4 512.9h0.8v0.8h-0.8zM98.0 518.8h0.8v0.8h-0.8zM84.0 481.3h0.8v0.8h-0.8zM92.6 483.5h0.8v0.8h-0.8zM91.0 541.1h0.8v0.8h-0.8zM98.1 526.6h0.8v0.8h-0.8zM90.6 544.0h0.8v0.8h-0.8zM85.3 490.8h0.8v0.8h-0.8zM97.9 493.1h0.8v0.8h-0.8zM89.9 485.4h0.8v0.8h-0.8zM95.5 527.5h0.8v0.8h-0.8zM92.2 496.2h0.8v0.8h-0.8zM97.0 528.2h0.8v0.8h-0.8zM86.6 516.6h0.8v0.8h-0.8zM81.2 516.1h0.8v0.8h-0.8zM97.0 497.8h0.8v0.8h-0.8zM83.1 485.5h0.8v0.8h-0.8zM81.7 483.9h0.8v0.8h-0.8zM82.5 536.3h0.8v0.8h-0.8zM85.1 502.8h0.8v0.8h-0.8zM102.3 521.3h0.8v0.8h-0.8zM97.5 488.4h0.8v0.8h-0.8zM92.8 523.6h0.8v0.8h-0.8z" fill="#8090f4" fill-opacity="0.7"/>
<path d="M73.2 544.7h0.8v0.8h-0.8zM74.1 539.1h0.8v0.8h-0.8zM73.4 538.3h0.8v0.8h-0.8zM76.9 534.4h0.8v0.8h-0.8zM69.8 476.2h0.8v0.8h-0.8zM73.5 525.5h0.8v0.8h-0.8zM80.6 474.6h0.8v0.8h-0.8zM73.7 537.7h0.8v0.8h-0.8zM78.2 537.5h0.8v0.8h-0.8zM75.3 496.1h0.8v0.8h-0.8zM71.8 484.7h0.8v0.8h-0.8zM77.1 530.1h0.8v0.8h-0.8zM70.9 508.8h0.8v0.8h-0.8zM78.1 520.6h0.8v0.8h-0.8zM70.5 522.6h0.8v0.8h-0.8zM71.3 477.9h0.8v0.8h-0.8zM72.6 503.9h0.8v0.8h-0.8zM74.6 502.8h0.8v0.8h-0.8zM71.4 503.2h0.8v0.8h-0.8zM67.5 511.0h0.8v0.8h-0.8zM71.6 476.8h0.8v0.8h-0.8zM77.2 494.0h0.8v0.8h-0.8zM88.5 490.9h0.8v0.8h-0.8zM71.1 477.2h0.8v0.8h-0.8zM71.2 531.1h0.8v0.8h-0.8zM78.2 529.5h0.8v0.8h-0.8zM71.7 506.7h0.8v0.8h-0.8zM70.5 489.8h0.8v0.8h-0.8zM64.5 537.1h0.8v0.8h-0.8zM73.7 487.6h0.8v0.8h-0.8zM75.7 542.3h0.8v0.8h-0.8zM83.4 512.8h0.8v0.8h-0.8zM66.9 509.9h0.8v0.8h-0.8zM78.0 483.1h0.8v0.8h-0.8zM67.5 490.7h0.8v0.8h-0.8zM75.9 502.2h0.8v0.8h-0.8zM83.4 530.0h0.8v0.8h-0.8zM69.0 479.9h0.8v0.8h-0.8zM73.7 525.5h0.8v0.8h-0.8zM70.3 482.9h0.8v0.8h-0.8zM61.9 475.2h0.8v0.8h-0.8zM80.6 505.6h0.8v0.8h-0.8zM66.0 519.4h0.8v0.8h-0.8zM69.0 532.8h0.8v0.8h-0.8zM73.4 497.7h0.8v0.8h-0.8zM75.6 537.3h0.8v0.8h-0.8zM70.8 532.8h0.8v0.8h-0.8zM74.3 518.0h0.8v0.8h-0.8zM68.4 523.3h0.8v0.8h-0.8zM77.2 512.4h0.8v0.8h-0.8zM72.4 513.7h0.8v0.8h-0.8zM74.2 544.9h0.8v0.8h-0.8zM67.6 546.0h0.8v0.8h-0.8zM74.9 543.9h0.8v0.8h-0.8zM69.8 537.5h0.8v0.8h-0.8zM66.1 503.2h0.8v0.8h-0.8zM68.8 525.1h0.8v0.8h-0.8zM84.4 514.4h0.8v0.8h-0.8zM69.1 544.2h0.8v0.8h-0.8zM64.2 486.9h0.8v0.8h-0.8zM73.4 499.3h0.8v0.8h-0.8zM69.8 500.1h0.8v0.8h-0.8zM69.2 523.4h0.8v0.8h-0.8zM74.6 485.8h0.8v0.8h-0.8zM73.7 497.3h0.8v0.8h-0.8zM65.8 495.1h0.8v0.8h-0.8zM66.1 518.3h0.8v0.8h-0.8zM73.5 517.7h0.8v0.8h-0.8zM79.0 486.0h0.8v0.8h-0.8zM69.7 489.7h0.8v0.8h-0.8zM67.0 506.7h0.8v0.8h-0.8zM71.9 481.4h0.8v0.8h-0.8zM74.6 493.3h0.8v0.8h-0.8zM73.0 477.2h0.8v0.8h-0.8zM75.1 535.1h0.8v0.8h-0.8zM76.1 517.6h0.8v0.8h-0.8zM72.8 478.6h0.8v0.8h-0.8zM78.5 492.3h0.8v0.8h-0.8zM82.9 531.2h0.8v0.8h-0.8zM70.5 539.5h0.8v0.8h-0.8zM72.5 505.1h0.8v0.8h-0.8zM76.8 511.0h0.8v0.8h-0.8zM69.8 479.7h0.8v0.8h-0.8zM70.0 520.1h0.8v0.8h-0.8zM66.8 504.2h0.8v0.8h-0.8zM76.5 503.0h0.8v0.8h-0.8zM59.2 518.5h0.8v0.8h-0.8zM61.6 528.8h0.8v0.8h-0.8zM74.0 517.5h0.8v0.8h-0.8zM71.5 541.3h0.8v0.8h-0.8zM75.9 510.1h0.8v0.8h-0.8zM67.6 474.9h0.8v0.8h-0.8zM68.0 544.9h0.8v0.8h-0.8zM71.5 513.4h0.8v0.8h-0.8zM78.0 540.4h0.8v0.8h-0.8zM68.4 499.9h0.8v0.8h-0.8zM76.0 511.6h0.8v0.8h-0.8zM70.4 537.3h0.8v0.8h-0.8zM63.9 495.2h0.8v0.8h-0.8zM63.5 536.2h0.8v0.8h-0.8zM82.3 481.5h0.8v0.8h-0.8zM75.4 489.5h0.8v0.8h-0.8zM79.6 522.5h0.8v0.8h-0.8zM67.6 525.0h0.8v0.8h-0.8zM69.6 520.8h0.8v0.8h-0.8zM69.6 481.3h0.8v0.8h-0.8zM69.5 499.8h0.8v0.8h-0.8zM68.1 497.9h0.8v0.8h-0.8zM73.3 499.1h0.8v0.8h-0.8zM79.3 484.2h0.8v0.8h-0.8zM70.9 505.4h0.8v0.8h-0.8zM65.2 492.1h0.8v0.8h-0.8zM67.0 544.8h0.8v0.8h-0.8zM80.2 540.9h0.8v0.8h-0.8zM79.7 478.8h0.8v0.8h-0.8zM74.2 478.0h0.8v0.8h-0.8zM69.2 525.8h0.8v0.8h-0.8zM75.0 486.1h0.8v0.8h-0.8zM69.0 501.1h0.8v0.8h-0.8zM69.8 496.1h0.8v0.8h-0.8zM60.1 525.0h0.8v0.8h-0.8zM69.0 502.1h0.8v0.8h-0.8zM75.8 477.7h0.8v0.8h-0.8zM63.8 531.1h0.8v0.8h-0.8zM70.5 544.4h0.8v0.8h-0.8zM74.1 532.1h0.8v0.8h-0.8zM68.3 499.4h0.8v0.8h-0.8zM73.2 532.8h0.8v0.8h-0.8zM69.0 534.6h0.8v0.8h-0.8zM79.5 496.7h0.8v0.8h-0.8zM73.3 535.6h0.8v0.8h-0.8zM66.1 533.8h0.8v0.8h-0.8zM74.4 476.3h0.8v0.8h-0.8zM73.0 477.1h0.8v0.8h-0.8zM79.7 475.8h0.8v0.8h-0.8zM77.6 480.3h0.8v0.8h-0.8zM79.4 492.1h0.8v0.8h-0.8zM59.8 518.1h0.8v0.8h-0.8z" fill="#2e4cf0" fill-opacity="0.5"/>
<g filter="url(#bl1)"><ellipse cx="72.9" cy="505.0" rx="3.6" ry="24" fill="#1e9cf2" opacity="0.9"/><ellipse cx="72.9" cy="506.0" rx="2.5" ry="15" fill="#2ee2f0"/></g>
<g filter="url(#bl05)" transform="rotate(-24 70.1 552.0)">
<ellipse cx="67.7" cy="552.0" rx="8.40" ry="5.00" fill="#2a42ee"/>
<ellipse cx="68.0" cy="552.0" rx="7.38" ry="4.39" fill="#1e9cf2"/>
<ellipse cx="68.4" cy="552.0" rx="6.36" ry="3.79" fill="#2ee2f0"/>
<ellipse cx="68.7" cy="552.0" rx="5.34" ry="3.18" fill="#4fe68c"/>
<ellipse cx="69.1" cy="552.0" rx="4.32" ry="2.57" fill="#b4e83c"/>
<ellipse cx="69.4" cy="552.0" rx="3.30" ry="1.96" fill="#f2e226"/>
<ellipse cx="69.8" cy="552.0" rx="2.28" ry="1.36" fill="#f59a26"/>
<ellipse cx="70.1" cy="552.0" rx="1.26" ry="0.75" fill="#e83a1e"/>
</g>
</g>
<clipPath id="c135_473"><rect x="135" y="473.4" width="82" height="86.60000000000002"/></clipPath>
<g clip-path="url(#c135_473)">
<g filter="url(#bl2)" fill="#93a0f6" opacity="0.55"><path d="M159.5 548.9L161.1 540.4L162.2 530.1L163.8 517.2L164.8 504.1L164.7 490.1L164.3 477.1L163.9 460.1L148.7 459.9L148.1 476.9L147.3 489.9L146.8 503.9L147.4 516.8L148.2 529.9L149.2 539.6L148.3 547.1Z"/><circle cx="153.9" cy="548.0" r="5.7"/><circle cx="156.3" cy="460.0" r="7.6"/></g>
<g filter="url(#bl2)" fill="#93a0f6" opacity="0.5"><path d="M157.3 556.6L162.0 554.7L166.7 553.0L165.1 545.8L159.8 546.3L154.5 547.4Z"/><circle cx="155.9" cy="552.0" r="4.8"/><circle cx="165.9" cy="549.4" r="3.7"/></g>
<g filter="url(#bl1)" fill="#4a64f0" opacity="0.6"><path d="M156.7 554.7L161.5 552.7L166.3 551.1L165.5 547.7L160.3 548.3L155.1 549.3Z"/><circle cx="155.9" cy="552.0" r="2.8"/><circle cx="165.9" cy="549.4" r="1.7"/></g>
<g filter="url(#bl1)" fill="#2a48f0" opacity="0.95"><path d="M156.3 548.4L157.9 540.2L159.0 530.1L160.6 517.1L161.6 504.1L161.5 490.1L161.1 477.1L160.7 460.0L151.9 460.0L151.3 476.9L150.5 489.9L150.0 503.9L150.6 516.9L151.4 529.9L152.4 539.8L151.5 547.6Z"/><circle cx="153.9" cy="548.0" r="2.5"/><circle cx="156.3" cy="460.0" r="4.4"/></g>
<path d="M165.9 530.9h0.8v0.8h-0.8zM166.4 501.7h0.8v0.8h-0.8zM170.1 524.6h0.8v0.8h-0.8zM166.9 483.7h0.8v0.8h-0.8zM170.0 523.5h0.8v0.8h-0.8zM170.8 534.6h0.8v0.8h-0.8zM168.5 520.2h0.8v0.8h-0.8zM164.7 528.1h0.8v0.8h-0.8zM172.0 489.5h0.8v0.8h-0.8zM159.9 522.2h0.8v0.8h-0.8zM174.2 495.0h0.8v0.8h-0.8zM172.5 529.1h0.8v0.8h-0.8zM161.2 530.8h0.8v0.8h-0.8zM171.8 491.4h0.8v0.8h-0.8zM168.2 535.1h0.8v0.8h-0.8zM167.2 524.7h0.8v0.8h-0.8zM165.4 485.8h0.8v0.8h-0.8zM169.9 506.5h0.8v0.8h-0.8zM172.1 518.6h0.8v0.8h-0.8zM168.6 495.8h0.8v0.8h-0.8zM168.1 475.9h0.8v0.8h-0.8zM167.8 535.3h0.8v0.8h-0.8zM166.2 531.6h0.8v0.8h-0.8zM164.3 518.5h0.8v0.8h-0.8zM169.4 533.8h0.8v0.8h-0.8zM169.5 499.9h0.8v0.8h-0.8zM166.9 537.0h0.8v0.8h-0.8zM174.1 501.1h0.8v0.8h-0.8zM164.7 498.2h0.8v0.8h-0.8zM169.4 511.4h0.8v0.8h-0.8zM168.1 480.4h0.8v0.8h-0.8zM169.0 488.5h0.8v0.8h-0.8zM169.6 516.5h0.8v0.8h-0.8zM171.7 479.0h0.8v0.8h-0.8zM172.6 518.3h0.8v0.8h-0.8zM165.2 515.7h0.8v0.8h-0.8zM169.0 511.7h0.8v0.8h-0.8zM172.1 515.0h0.8v0.8h-0.8zM167.7 528.4h0.8v0.8h-0.8zM168.0 540.9h0.8v0.8h-0.8zM170.2 500.8h0.8v0.8h-0.8zM164.8 499.4h0.8v0.8h-0.8zM172.7 532.9h0.8v0.8h-0.8zM172.9 492.7h0.8v0.8h-0.8zM171.9 539.9h0.8v0.8h-0.8zM162.3 525.0h0.8v0.8h-0.8zM169.0 482.4h0.8v0.8h-0.8zM165.5 501.8h0.8v0.8h-0.8zM172.2 505.7h0.8v0.8h-0.8zM168.7 485.5h0.8v0.8h-0.8zM164.1 480.1h0.8v0.8h-0.8zM165.3 507.9h0.8v0.8h-0.8zM173.5 479.6h0.8v0.8h-0.8zM168.1 504.8h0.8v0.8h-0.8zM169.0 486.9h0.8v0.8h-0.8zM168.5 514.2h0.8v0.8h-0.8zM171.1 534.1h0.8v0.8h-0.8zM166.7 498.4h0.8v0.8h-0.8zM167.4 537.7h0.8v0.8h-0.8zM172.3 476.9h0.8v0.8h-0.8zM164.8 495.8h0.8v0.8h-0.8zM174.6 538.0h0.8v0.8h-0.8zM165.8 516.4h0.8v0.8h-0.8zM164.8 510.2h0.8v0.8h-0.8zM186.3 477.2h0.8v0.8h-0.8zM185.6 526.3h0.8v0.8h-0.8zM167.1 542.1h0.8v0.8h-0.8zM168.4 539.5h0.8v0.8h-0.8zM174.8 520.0h0.8v0.8h-0.8zM178.4 499.1h0.8v0.8h-0.8zM176.5 520.0h0.8v0.8h-0.8zM180.0 488.9h0.8v0.8h-0.8zM179.5 506.3h0.8v0.8h-0.8zM173.2 521.1h0.8v0.8h-0.8zM162.6 506.7h0.8v0.8h-0.8zM177.0 529.1h0.8v0.8h-0.8zM182.9 478.7h0.8v0.8h-0.8zM173.8 529.9h0.8v0.8h-0.8zM168.4 485.0h0.8v0.8h-0.8zM186.2 535.1h0.8v0.8h-0.8zM161.8 515.7h0.8v0.8h-0.8zM170.3 496.2h0.8v0.8h-0.8zM164.4 476.5h0.8v0.8h-0.8zM169.8 519.6h0.8v0.8h-0.8zM176.3 478.0h0.8v0.8h-0.8z" fill="#8090f4" fill-opacity="0.7"/>
<path d="M154.1 517.9h0.8v0.8h-0.8zM156.0 518.7h0.8v0.8h-0.8zM155.7 544.0h0.8v0.8h-0.8zM149.7 544.8h0.8v0.8h-0.8zM157.1 536.1h0.8v0.8h-0.8zM156.8 514.8h0.8v0.8h-0.8zM156.3 524.7h0.8v0.8h-0.8zM151.1 496.8h0.8v0.8h-0.8zM156.4 501.3h0.8v0.8h-0.8zM154.9 480.2h0.8v0.8h-0.8zM150.5 478.7h0.8v0.8h-0.8zM152.2 518.0h0.8v0.8h-0.8zM158.9 534.6h0.8v0.8h-0.8zM149.2 537.6h0.8v0.8h-0.8zM154.6 486.5h0.8v0.8h-0.8zM144.8 525.8h0.8v0.8h-0.8zM152.3 516.2h0.8v0.8h-0.8zM153.2 503.6h0.8v0.8h-0.8zM152.4 492.7h0.8v0.8h-0.8zM157.8 509.9h0.8v0.8h-0.8zM155.1 485.6h0.8v0.8h-0.8zM153.1 542.5h0.8v0.8h-0.8zM156.3 533.3h0.8v0.8h-0.8zM159.0 501.1h0.8v0.8h-0.8zM161.6 537.8h0.8v0.8h-0.8zM156.9 493.0h0.8v0.8h-0.8zM152.0 527.5h0.8v0.8h-0.8zM144.2 481.0h0.8v0.8h-0.8zM156.5 517.3h0.8v0.8h-0.8zM159.0 512.2h0.8v0.8h-0.8zM158.7 536.0h0.8v0.8h-0.8zM148.6 482.3h0.8v0.8h-0.8zM165.4 494.9h0.8v0.8h-0.8zM161.1 537.3h0.8v0.8h-0.8zM155.0 479.4h0.8v0.8h-0.8zM151.1 487.8h0.8v0.8h-0.8zM154.6 511.1h0.8v0.8h-0.8zM156.4 513.3h0.8v0.8h-0.8zM150.4 476.9h0.8v0.8h-0.8zM153.2 520.4h0.8v0.8h-0.8zM154.5 504.4h0.8v0.8h-0.8zM158.4 539.3h0.8v0.8h-0.8zM148.8 509.9h0.8v0.8h-0.8zM149.5 539.0h0.8v0.8h-0.8zM154.5 486.2h0.8v0.8h-0.8zM146.7 544.7h0.8v0.8h-0.8zM158.3 476.7h0.8v0.8h-0.8zM165.3 522.6h0.8v0.8h-0.8zM156.2 523.0h0.8v0.8h-0.8zM164.1 542.5h0.8v0.8h-0.8zM167.9 483.1h0.8v0.8h-0.8zM160.5 528.2h0.8v0.8h-0.8zM163.8 489.5h0.8v0.8h-0.8zM158.6 496.4h0.8v0.8h-0.8zM151.9 545.7h0.8v0.8h-0.8zM162.9 537.1h0.8v0.8h-0.8zM152.8 483.8h0.8v0.8h-0.8zM151.5 542.4h0.8v0.8h-0.8zM149.3 504.2h0.8v0.8h-0.8zM144.8 533.7h0.8v0.8h-0.8zM153.1 534.8h0.8v0.8h-0.8zM156.0 525.7h0.8v0.8h-0.8zM150.8 506.9h0.8v0.8h-0.8zM139.9 502.5h0.8v0.8h-0.8zM152.8 527.7h0.8v0.8h-0.8zM151.4 544.6h0.8v0.8h-0.8zM157.6 535.5h0.8v0.8h-0.8zM165.6 510.5h0.8v0.8h-0.8zM157.2 504.8h0.8v0.8h-0.8zM148.0 481.5h0.8v0.8h-0.8zM153.8 520.4h0.8v0.8h-0.8zM151.7 498.8h0.8v0.8h-0.8zM155.6 495.4h0.8v0.8h-0.8zM151.4 516.8h0.8v0.8h-0.8zM160.5 475.9h0.8v0.8h-0.8zM140.7 535.9h0.8v0.8h-0.8zM160.3 528.1h0.8v0.8h-0.8zM160.6 482.6h0.8v0.8h-0.8zM156.4 490.9h0.8v0.8h-0.8zM149.1 498.2h0.8v0.8h-0.8zM149.3 496.0h0.8v0.8h-0.8zM155.1 504.0h0.8v0.8h-0.8zM147.2 535.0h0.8v0.8h-0.8zM150.0 509.8h0.8v0.8h-0.8zM157.6 498.3h0.8v0.8h-0.8zM150.4 515.3h0.8v0.8h-0.8zM157.8 514.4h0.8v0.8h-0.8zM156.0 484.7h0.8v0.8h-0.8zM148.2 512.4h0.8v0.8h-0.8zM156.6 514.8h0.8v0.8h-0.8zM164.2 525.7h0.8v0.8h-0.8zM149.9 521.7h0.8v0.8h-0.8zM154.5 541.0h0.8v0.8h-0.8zM151.0 524.3h0.8v0.8h-0.8zM157.1 486.7h0.8v0.8h-0.8zM149.1 513.1h0.8v0.8h-0.8zM157.1 526.2h0.8v0.8h-0.8zM141.7 536.3h0.8v0.8h-0.8zM147.4 485.2h0.8v0.8h-0.8zM155.8 507.0h0.8v0.8h-0.8zM156.9 483.8h0.8v0.8h-0.8zM156.3 540.2h0.8v0.8h-0.8zM147.9 505.8h0.8v0.8h-0.8zM150.8 537.5h0.8v0.8h-0.8zM151.8 496.0h0.8v0.8h-0.8zM158.1 483.9h0.8v0.8h-0.8zM156.9 516.9h0.8v0.8h-0.8zM152.6 497.3h0.8v0.8h-0.8zM160.6 476.9h0.8v0.8h-0.8zM153.1 530.5h0.8v0.8h-0.8zM159.7 536.6h0.8v0.8h-0.8zM149.5 511.1h0.8v0.8h-0.8zM149.4 516.9h0.8v0.8h-0.8zM158.0 543.1h0.8v0.8h-0.8zM158.4 531.5h0.8v0.8h-0.8zM146.4 520.0h0.8v0.8h-0.8zM147.6 502.2h0.8v0.8h-0.8zM150.7 524.4h0.8v0.8h-0.8zM153.6 479.5h0.8v0.8h-0.8zM153.4 532.7h0.8v0.8h-0.8zM154.8 531.9h0.8v0.8h-0.8zM156.5 527.8h0.8v0.8h-0.8zM147.7 517.8h0.8v0.8h-0.8zM159.7 511.7h0.8v0.8h-0.8zM147.9 505.6h0.8v0.8h-0.8zM158.0 509.8h0.8v0.8h-0.8zM152.9 501.3h0.8v0.8h-0.8zM149.7 522.9h0.8v0.8h-0.8zM157.3 534.5h0.8v0.8h-0.8zM152.3 486.6h0.8v0.8h-0.8zM151.4 506.8h0.8v0.8h-0.8zM153.3 530.9h0.8v0.8h-0.8zM151.8 517.4h0.8v0.8h-0.8zM147.7 545.8h0.8v0.8h-0.8zM153.8 485.6h0.8v0.8h-0.8zM154.9 523.9h0.8v0.8h-0.8zM156.8 528.0h0.8v0.8h-0.8zM148.7 518.2h0.8v0.8h-0.8zM153.1 524.9h0.8v0.8h-0.8zM158.3 516.6h0.8v0.8h-0.8zM157.6 478.8h0.8v0.8h-0.8z" fill="#2e4cf0" fill-opacity="0.5"/>
<g filter="url(#bl1)"><ellipse cx="155.8" cy="505.0" rx="3.7" ry="24" fill="#1e9cf2" opacity="0.9"/><ellipse cx="155.8" cy="506.0" rx="2.6" ry="15" fill="#2ee2f0"/></g>
<g filter="url(#bl05)" transform="rotate(-24 151.9 552.0)">
<ellipse cx="149.5" cy="552.0" rx="8.40" ry="5.00" fill="#2a42ee"/>
<ellipse cx="149.8" cy="552.0" rx="7.38" ry="4.39" fill="#1e9cf2"/>
<ellipse cx="150.2" cy="552.0" rx="6.36" ry="3.79" fill="#2ee2f0"/>
<ellipse cx="150.5" cy="552.0" rx="5.34" ry="3.18" fill="#4fe68c"/>
<ellipse cx="150.9" cy="552.0" rx="4.32" ry="2.57" fill="#b4e83c"/>
<ellipse cx="151.2" cy="552.0" rx="3.30" ry="1.96" fill="#f2e226"/>
<ellipse cx="151.6" cy="552.0" rx="2.28" ry="1.36" fill="#f59a26"/>
<ellipse cx="151.9" cy="552.0" rx="1.26" ry="0.75" fill="#e83a1e"/>
</g>
</g>
<clipPath id="c217_473"><rect x="217" y="473.4" width="81.60000000000002" height="86.60000000000002"/></clipPath>
<g clip-path="url(#c217_473)">
<g filter="url(#bl2)" fill="#93a0f6" opacity="0.55"><path d="M241.3 549.0L243.1 540.8L245.3 530.5L247.0 517.2L248.0 504.2L248.0 490.2L247.6 477.1L247.4 460.1L232.0 459.9L231.3 476.9L230.4 489.8L229.9 503.8L230.4 516.8L231.1 529.5L231.3 539.2L230.1 547.0Z"/><circle cx="235.7" cy="548.0" r="5.7"/><circle cx="239.7" cy="460.0" r="7.7"/></g>
<g filter="url(#bl2)" fill="#93a0f6" opacity="0.5"><path d="M238.6 556.7L246.4 554.7L254.2 553.1L253.2 545.7L245.0 546.3L236.8 547.3Z"/><circle cx="237.7" cy="552.0" r="4.8"/><circle cx="253.7" cy="549.4" r="3.7"/></g>
<g filter="url(#bl1)" fill="#4a64f0" opacity="0.6"><path d="M238.2 554.8L246.1 552.8L253.9 551.1L253.5 547.7L245.3 548.2L237.2 549.2Z"/><circle cx="237.7" cy="552.0" r="2.8"/><circle cx="253.7" cy="549.4" r="1.7"/></g>
<g filter="url(#bl1)" fill="#2a48f0" opacity="0.95"><path d="M238.1 548.5L240.0 540.4L242.1 530.3L243.8 517.1L244.8 504.1L244.8 490.1L244.4 477.1L244.2 460.1L235.2 459.9L234.5 476.9L233.6 489.9L233.1 503.9L233.6 516.9L234.3 529.7L234.4 539.6L233.3 547.5Z"/><circle cx="235.7" cy="548.0" r="2.5"/><circle cx="239.7" cy="460.0" r="4.5"/></g>
<path d="M250.2 536.0h0.8v0.8h-0.8zM250.9 529.3h0.8v0.8h-0.8zM253.9 493.0h0.8v0.8h-0.8zM253.6 475.7h0.8v0.8h-0.8zM251.9 530.4h0.8v0.8h-0.8zM248.6 532.2h0.8v0.8h-0.8zM255.7 491.5h0.8v0.8h-0.8zM251.3 526.5h0.8v0.8h-0.8zM246.7 536.5h0.8v0.8h-0.8zM250.0 495.9h0.8v0.8h-0.8zM255.2 496.9h0.8v0.8h-0.8zM254.3 516.8h0.8v0.8h-0.8zM254.2 500.8h0.8v0.8h-0.8zM253.0 492.9h0.8v0.8h-0.8zM252.1 508.8h0.8v0.8h-0.8zM248.5 481.5h0.8v0.8h-0.8zM252.5 509.8h0.8v0.8h-0.8zM257.2 486.0h0.8v0.8h-0.8zM264.0 522.9h0.8v0.8h-0.8zM251.7 504.4h0.8v0.8h-0.8zM254.2 541.9h0.8v0.8h-0.8zM250.4 501.4h0.8v0.8h-0.8zM251.1 538.4h0.8v0.8h-0.8zM251.7 508.5h0.8v0.8h-0.8zM249.8 512.9h0.8v0.8h-0.8zM253.1 542.5h0.8v0.8h-0.8zM243.4 515.9h0.8v0.8h-0.8zM248.1 484.6h0.8v0.8h-0.8zM244.4 533.4h0.8v0.8h-0.8zM250.8 514.5h0.8v0.8h-0.8zM251.2 508.9h0.8v0.8h-0.8zM250.5 517.2h0.8v0.8h-0.8zM246.1 484.4h0.8v0.8h-0.8zM250.3 492.6h0.8v0.8h-0.8zM249.8 522.0h0.8v0.8h-0.8zM259.8 526.2h0.8v0.8h-0.8zM253.2 534.8h0.8v0.8h-0.8zM254.0 480.3h0.8v0.8h-0.8zM255.6 487.0h0.8v0.8h-0.8zM254.3 534.6h0.8v0.8h-0.8zM255.1 506.3h0.8v0.8h-0.8zM251.5 505.8h0.8v0.8h-0.8zM251.6 540.0h0.8v0.8h-0.8zM245.0 505.6h0.8v0.8h-0.8zM248.9 535.4h0.8v0.8h-0.8zM252.0 503.3h0.8v0.8h-0.8zM258.9 475.1h0.8v0.8h-0.8zM249.2 524.8h0.8v0.8h-0.8zM254.4 507.2h0.8v0.8h-0.8zM254.3 532.7h0.8v0.8h-0.8zM250.2 477.3h0.8v0.8h-0.8zM252.4 508.0h0.8v0.8h-0.8zM250.6 484.5h0.8v0.8h-0.8zM252.3 507.9h0.8v0.8h-0.8zM254.4 481.1h0.8v0.8h-0.8zM252.5 521.6h0.8v0.8h-0.8zM252.6 536.4h0.8v0.8h-0.8zM252.7 510.1h0.8v0.8h-0.8zM255.1 525.8h0.8v0.8h-0.8zM248.9 537.1h0.8v0.8h-0.8zM256.2 515.6h0.8v0.8h-0.8zM253.9 541.3h0.8v0.8h-0.8zM257.6 500.8h0.8v0.8h-0.8zM247.1 497.6h0.8v0.8h-0.8zM255.9 517.8h0.8v0.8h-0.8zM265.5 488.7h0.8v0.8h-0.8zM247.7 535.5h0.8v0.8h-0.8zM246.0 522.9h0.8v0.8h-0.8zM268.9 474.8h0.8v0.8h-0.8zM247.8 480.6h0.8v0.8h-0.8zM263.8 506.2h0.8v0.8h-0.8zM269.6 496.1h0.8v0.8h-0.8zM247.7 526.7h0.8v0.8h-0.8zM247.9 495.2h0.8v0.8h-0.8zM260.3 475.4h0.8v0.8h-0.8zM245.0 543.2h0.8v0.8h-0.8zM269.0 523.0h0.8v0.8h-0.8zM251.3 474.7h0.8v0.8h-0.8zM247.5 480.6h0.8v0.8h-0.8zM267.1 499.0h0.8v0.8h-0.8zM259.9 543.5h0.8v0.8h-0.8zM259.9 494.9h0.8v0.8h-0.8zM264.0 502.6h0.8v0.8h-0.8zM247.5 526.2h0.8v0.8h-0.8zM261.0 537.6h0.8v0.8h-0.8zM247.4 523.9h0.8v0.8h-0.8z" fill="#8090f4" fill-opacity="0.7"/>
<path d="M228.0 540.6h0.8v0.8h-0.8zM241.6 500.5h0.8v0.8h-0.8zM234.8 543.8h0.8v0.8h-0.8zM243.7 515.3h0.8v0.8h-0.8zM249.3 496.9h0.8v0.8h-0.8zM237.2 524.2h0.8v0.8h-0.8zM236.5 510.6h0.8v0.8h-0.8zM242.9 496.5h0.8v0.8h-0.8zM234.7 525.9h0.8v0.8h-0.8zM228.9 537.9h0.8v0.8h-0.8zM240.5 516.4h0.8v0.8h-0.8zM252.0 533.8h0.8v0.8h-0.8zM247.3 478.0h0.8v0.8h-0.8zM241.3 507.0h0.8v0.8h-0.8zM236.9 500.7h0.8v0.8h-0.8zM233.9 483.9h0.8v0.8h-0.8zM228.7 511.2h0.8v0.8h-0.8zM239.9 498.5h0.8v0.8h-0.8zM229.3 543.9h0.8v0.8h-0.8zM234.7 533.6h0.8v0.8h-0.8zM238.6 511.0h0.8v0.8h-0.8zM237.7 495.7h0.8v0.8h-0.8zM236.2 538.1h0.8v0.8h-0.8zM241.2 485.4h0.8v0.8h-0.8zM241.8 477.4h0.8v0.8h-0.8zM233.6 545.6h0.8v0.8h-0.8zM234.8 481.9h0.8v0.8h-0.8zM232.9 544.4h0.8v0.8h-0.8zM238.0 509.3h0.8v0.8h-0.8zM243.5 528.2h0.8v0.8h-0.8zM239.7 536.8h0.8v0.8h-0.8zM222.8 527.0h0.8v0.8h-0.8zM242.6 518.4h0.8v0.8h-0.8zM234.0 519.2h0.8v0.8h-0.8zM237.8 511.8h0.8v0.8h-0.8zM234.4 486.5h0.8v0.8h-0.8zM244.6 530.3h0.8v0.8h-0.8zM232.2 537.4h0.8v0.8h-0.8zM235.9 537.1h0.8v0.8h-0.8zM229.6 514.5h0.8v0.8h-0.8zM229.7 535.1h0.8v0.8h-0.8zM232.0 505.8h0.8v0.8h-0.8zM234.8 505.8h0.8v0.8h-0.8zM231.0 510.0h0.8v0.8h-0.8zM230.2 530.2h0.8v0.8h-0.8zM235.0 527.1h0.8v0.8h-0.8zM237.9 492.4h0.8v0.8h-0.8zM234.6 487.3h0.8v0.8h-0.8zM245.0 508.9h0.8v0.8h-0.8zM240.6 490.6h0.8v0.8h-0.8zM234.5 516.6h0.8v0.8h-0.8zM239.3 505.5h0.8v0.8h-0.8zM230.7 482.7h0.8v0.8h-0.8zM229.8 489.1h0.8v0.8h-0.8zM237.0 545.9h0.8v0.8h-0.8zM238.0 509.3h0.8v0.8h-0.8zM228.7 543.7h0.8v0.8h-0.8zM235.3 528.8h0.8v0.8h-0.8zM243.8 515.6h0.8v0.8h-0.8zM234.3 493.3h0.8v0.8h-0.8zM237.8 479.7h0.8v0.8h-0.8zM235.7 545.7h0.8v0.8h-0.8zM241.9 503.4h0.8v0.8h-0.8zM239.1 494.2h0.8v0.8h-0.8zM245.8 477.3h0.8v0.8h-0.8zM242.9 512.8h0.8v0.8h-0.8zM233.0 501.4h0.8v0.8h-0.8zM234.4 486.5h0.8v0.8h-0.8zM245.6 534.0h0.8v0.8h-0.8zM240.5 488.8h0.8v0.8h-0.8zM236.7 492.4h0.8v0.8h-0.8zM242.4 500.8h0.8v0.8h-0.8zM237.7 516.3h0.8v0.8h-0.8zM246.9 540.3h0.8v0.8h-0.8zM237.4 476.7h0.8v0.8h-0.8zM233.6 545.6h0.8v0.8h-0.8zM239.8 484.3h0.8v0.8h-0.8zM241.1 477.2h0.8v0.8h-0.8zM227.4 535.7h0.8v0.8h-0.8zM243.9 544.9h0.8v0.8h-0.8zM244.4 475.5h0.8v0.8h-0.8zM238.7 502.1h0.8v0.8h-0.8zM246.2 535.8h0.8v0.8h-0.8zM251.5 518.4h0.8v0.8h-0.8zM237.5 510.7h0.8v0.8h-0.8zM240.9 480.5h0.8v0.8h-0.8zM250.6 480.2h0.8v0.8h-0.8zM230.2 539.0h0.8v0.8h-0.8zM239.4 482.2h0.8v0.8h-0.8zM241.5 517.0h0.8v0.8h-0.8zM238.2 535.1h0.8v0.8h-0.8zM238.0 501.8h0.8v0.8h-0.8zM236.0 480.8h0.8v0.8h-0.8zM243.2 482.7h0.8v0.8h-0.8zM241.9 486.3h0.8v0.8h-0.8zM234.0 483.3h0.8v0.8h-0.8zM235.6 497.8h0.8v0.8h-0.8zM239.6 539.5h0.8v0.8h-0.8zM238.7 535.5h0.8v0.8h-0.8zM234.2 541.9h0.8v0.8h-0.8zM230.1 493.7h0.8v0.8h-0.8zM234.9 528.5h0.8v0.8h-0.8zM228.8 493.4h0.8v0.8h-0.8zM231.9 526.7h0.8v0.8h-0.8zM234.8 523.1h0.8v0.8h-0.8zM241.1 533.4h0.8v0.8h-0.8zM235.8 531.4h0.8v0.8h-0.8zM242.0 541.0h0.8v0.8h-0.8zM231.2 520.3h0.8v0.8h-0.8zM233.6 496.9h0.8v0.8h-0.8zM233.7 479.2h0.8v0.8h-0.8zM251.5 514.9h0.8v0.8h-0.8zM238.9 478.6h0.8v0.8h-0.8zM239.0 535.2h0.8v0.8h-0.8zM240.7 490.1h0.8v0.8h-0.8zM242.1 534.9h0.8v0.8h-0.8zM236.5 545.5h0.8v0.8h-0.8zM234.2 524.0h0.8v0.8h-0.8zM238.0 545.8h0.8v0.8h-0.8zM236.9 523.9h0.8v0.8h-0.8zM241.9 510.8h0.8v0.8h-0.8zM236.7 515.4h0.8v0.8h-0.8zM239.9 474.8h0.8v0.8h-0.8zM238.3 483.2h0.8v0.8h-0.8zM236.7 526.2h0.8v0.8h-0.8zM239.9 476.3h0.8v0.8h-0.8zM242.1 498.3h0.8v0.8h-0.8zM233.2 536.0h0.8v0.8h-0.8zM244.8 488.8h0.8v0.8h-0.8zM234.6 492.6h0.8v0.8h-0.8zM232.6 540.1h0.8v0.8h-0.8zM241.1 544.6h0.8v0.8h-0.8zM236.4 539.5h0.8v0.8h-0.8zM234.0 516.6h0.8v0.8h-0.8zM242.5 529.0h0.8v0.8h-0.8zM231.8 475.2h0.8v0.8h-0.8zM240.9 513.6h0.8v0.8h-0.8zM236.4 497.2h0.8v0.8h-0.8z" fill="#2e4cf0" fill-opacity="0.5"/>
<g filter="url(#bl1)"><ellipse cx="238.9" cy="505.0" rx="3.8" ry="24" fill="#1e9cf2" opacity="0.9"/><ellipse cx="238.9" cy="506.0" rx="2.6" ry="15" fill="#2ee2f0"/></g>
<g filter="url(#bl05)" transform="rotate(-24 233.7 552.0)">
<ellipse cx="231.3" cy="552.0" rx="8.40" ry="5.00" fill="#2a42ee"/>
<ellipse cx="231.6" cy="552.0" rx="7.38" ry="4.39" fill="#1e9cf2"/>
<ellipse cx="232.0" cy="552.0" rx="6.36" ry="3.79" fill="#2ee2f0"/>
<ellipse cx="232.3" cy="552.0" rx="5.34" ry="3.18" fill="#4fe68c"/>
<ellipse cx="232.7" cy="552.0" rx="4.32" ry="2.57" fill="#b4e83c"/>
<ellipse cx="233.0" cy="552.0" rx="3.30" ry="1.96" fill="#f2e226"/>
<ellipse cx="233.4" cy="552.0" rx="2.28" ry="1.36" fill="#f59a26"/>
<ellipse cx="233.7" cy="552.0" rx="1.26" ry="0.75" fill="#e83a1e"/>
</g>
</g>
<clipPath id="c298_473"><rect x="298.6" y="473.4" width="82.39999999999998" height="86.60000000000002"/></clipPath>
<g clip-path="url(#c298_473)">
<g filter="url(#bl2)"><ellipse cx="331.0" cy="510.0" rx="10.0" ry="34" fill="#9aa6f6" opacity="0.45"/></g>
<g filter="url(#bl2)" fill="#93a0f6" opacity="0.55"><path d="M323.7 549.2L325.7 541.1L328.6 530.7L330.4 517.3L331.5 504.2L331.5 490.2L331.2 477.2L331.0 460.1L315.4 459.9L314.6 476.8L313.7 489.8L313.1 503.8L313.6 516.7L314.2 529.3L313.9 538.9L312.5 546.8Z"/><circle cx="318.1" cy="548.0" r="5.7"/><circle cx="323.2" cy="460.0" r="7.8"/></g>
<g filter="url(#bl2)" fill="#93a0f6" opacity="0.5"><path d="M320.6 556.8L334.0 554.8L347.4 553.1L346.8 545.7L333.2 546.2L319.6 547.2Z"/><circle cx="320.1" cy="552.0" r="4.8"/><circle cx="347.1" cy="549.4" r="3.7"/></g>
<g filter="url(#bl1)" fill="#4a64f0" opacity="0.6"><path d="M320.4 554.8L333.8 552.8L347.2 551.1L347.0 547.7L333.4 548.2L319.8 549.2Z"/><circle cx="320.1" cy="552.0" r="2.8"/><circle cx="347.1" cy="549.4" r="1.7"/></g>
<g filter="url(#bl1)" fill="#2a48f0" opacity="0.95"><path d="M320.6 548.5L322.6 540.5L325.4 530.4L327.2 517.2L328.3 504.1L328.3 490.1L328.0 477.1L327.8 460.1L318.6 459.9L317.8 476.9L316.9 489.9L316.3 503.9L316.8 516.8L317.4 529.6L317.0 539.5L315.6 547.5Z"/><circle cx="318.1" cy="548.0" r="2.5"/><circle cx="323.2" cy="460.0" r="4.6"/></g>
<path d="M336.4 495.4h0.8v0.8h-0.8zM331.4 508.7h0.8v0.8h-0.8zM339.2 514.1h0.8v0.8h-0.8zM337.1 536.9h0.8v0.8h-0.8zM335.4 514.2h0.8v0.8h-0.8zM329.1 523.8h0.8v0.8h-0.8zM336.1 503.3h0.8v0.8h-0.8zM341.4 542.0h0.8v0.8h-0.8zM338.4 509.1h0.8v0.8h-0.8zM331.7 532.3h0.8v0.8h-0.8zM333.0 477.5h0.8v0.8h-0.8zM337.6 492.2h0.8v0.8h-0.8zM330.8 505.1h0.8v0.8h-0.8zM334.2 478.6h0.8v0.8h-0.8zM334.8 479.8h0.8v0.8h-0.8zM335.8 493.3h0.8v0.8h-0.8zM337.1 504.2h0.8v0.8h-0.8zM333.7 506.2h0.8v0.8h-0.8zM338.0 510.4h0.8v0.8h-0.8zM333.9 540.5h0.8v0.8h-0.8zM337.3 521.2h0.8v0.8h-0.8zM337.0 499.8h0.8v0.8h-0.8zM331.3 541.3h0.8v0.8h-0.8zM335.1 542.6h0.8v0.8h-0.8zM331.3 530.9h0.8v0.8h-0.8zM334.6 491.2h0.8v0.8h-0.8zM331.7 542.9h0.8v0.8h-0.8zM339.8 540.6h0.8v0.8h-0.8zM335.4 505.9h0.8v0.8h-0.8zM333.9 497.5h0.8v0.8h-0.8zM336.9 487.9h0.8v0.8h-0.8zM337.6 487.1h0.8v0.8h-0.8zM340.9 520.4h0.8v0.8h-0.8zM335.3 478.0h0.8v0.8h-0.8zM333.3 496.0h0.8v0.8h-0.8zM340.9 478.2h0.8v0.8h-0.8zM333.7 507.6h0.8v0.8h-0.8zM329.4 480.4h0.8v0.8h-0.8zM334.4 541.5h0.8v0.8h-0.8zM330.0 506.8h0.8v0.8h-0.8zM337.2 533.3h0.8v0.8h-0.8zM334.7 496.3h0.8v0.8h-0.8zM331.1 511.1h0.8v0.8h-0.8zM335.6 535.1h0.8v0.8h-0.8zM333.6 500.6h0.8v0.8h-0.8zM328.0 536.2h0.8v0.8h-0.8zM339.6 474.7h0.8v0.8h-0.8zM335.8 484.1h0.8v0.8h-0.8zM337.6 529.1h0.8v0.8h-0.8zM331.1 502.9h0.8v0.8h-0.8zM333.7 474.6h0.8v0.8h-0.8zM331.3 510.4h0.8v0.8h-0.8zM336.4 515.1h0.8v0.8h-0.8zM339.0 504.5h0.8v0.8h-0.8zM341.8 500.3h0.8v0.8h-0.8zM337.4 527.5h0.8v0.8h-0.8zM335.5 475.9h0.8v0.8h-0.8zM335.9 540.6h0.8v0.8h-0.8zM333.2 519.5h0.8v0.8h-0.8zM340.2 508.4h0.8v0.8h-0.8zM333.9 502.4h0.8v0.8h-0.8zM339.6 536.9h0.8v0.8h-0.8zM341.7 519.2h0.8v0.8h-0.8zM346.6 494.7h0.8v0.8h-0.8zM350.7 495.4h0.8v0.8h-0.8zM332.6 529.2h0.8v0.8h-0.8zM345.6 479.2h0.8v0.8h-0.8zM329.6 510.6h0.8v0.8h-0.8zM335.1 506.6h0.8v0.8h-0.8zM349.8 499.2h0.8v0.8h-0.8zM346.6 482.8h0.8v0.8h-0.8zM334.9 494.5h0.8v0.8h-0.8zM337.4 506.1h0.8v0.8h-0.8zM341.3 490.6h0.8v0.8h-0.8zM332.2 476.9h0.8v0.8h-0.8zM332.0 519.0h0.8v0.8h-0.8zM333.0 541.2h0.8v0.8h-0.8zM347.0 531.1h0.8v0.8h-0.8zM346.8 543.4h0.8v0.8h-0.8zM331.1 515.4h0.8v0.8h-0.8zM330.1 506.3h0.8v0.8h-0.8zM336.7 484.9h0.8v0.8h-0.8zM349.1 530.3h0.8v0.8h-0.8z" fill="#8090f4" fill-opacity="0.7"/>
<path d="M317.5 478.3h0.8v0.8h-0.8zM321.7 496.6h0.8v0.8h-0.8zM313.9 514.7h0.8v0.8h-0.8zM324.4 491.7h0.8v0.8h-0.8zM326.2 518.7h0.8v0.8h-0.8zM320.5 505.8h0.8v0.8h-0.8zM319.8 502.9h0.8v0.8h-0.8zM312.1 519.3h0.8v0.8h-0.8zM315.0 506.3h0.8v0.8h-0.8zM320.5 492.5h0.8v0.8h-0.8zM324.7 502.6h0.8v0.8h-0.8zM322.4 500.7h0.8v0.8h-0.8zM329.5 503.5h0.8v0.8h-0.8zM319.9 515.8h0.8v0.8h-0.8zM323.4 492.3h0.8v0.8h-0.8zM323.4 543.9h0.8v0.8h-0.8zM313.9 517.4h0.8v0.8h-0.8zM319.3 508.5h0.8v0.8h-0.8zM317.4 515.0h0.8v0.8h-0.8zM319.3 479.1h0.8v0.8h-0.8zM312.7 537.2h0.8v0.8h-0.8zM319.4 527.5h0.8v0.8h-0.8zM322.8 491.6h0.8v0.8h-0.8zM327.0 497.3h0.8v0.8h-0.8zM316.5 506.1h0.8v0.8h-0.8zM320.2 506.5h0.8v0.8h-0.8zM320.2 515.9h0.8v0.8h-0.8zM315.0 529.2h0.8v0.8h-0.8zM316.4 505.6h0.8v0.8h-0.8zM316.4 543.4h0.8v0.8h-0.8zM315.6 486.4h0.8v0.8h-0.8zM316.5 503.5h0.8v0.8h-0.8zM309.2 543.0h0.8v0.8h-0.8zM324.3 494.8h0.8v0.8h-0.8zM326.7 542.2h0.8v0.8h-0.8zM329.0 499.7h0.8v0.8h-0.8zM316.1 532.0h0.8v0.8h-0.8zM322.3 491.1h0.8v0.8h-0.8zM318.6 506.6h0.8v0.8h-0.8zM320.7 477.1h0.8v0.8h-0.8zM323.7 486.1h0.8v0.8h-0.8zM321.2 498.6h0.8v0.8h-0.8zM311.8 537.1h0.8v0.8h-0.8zM323.1 497.0h0.8v0.8h-0.8zM323.4 533.3h0.8v0.8h-0.8zM327.9 506.6h0.8v0.8h-0.8zM323.7 491.1h0.8v0.8h-0.8zM326.6 499.9h0.8v0.8h-0.8zM316.5 539.1h0.8v0.8h-0.8zM328.7 486.2h0.8v0.8h-0.8zM334.3 500.2h0.8v0.8h-0.8zM321.8 489.7h0.8v0.8h-0.8zM317.8 485.7h0.8v0.8h-0.8zM321.5 510.3h0.8v0.8h-0.8zM322.2 485.2h0.8v0.8h-0.8zM323.8 504.9h0.8v0.8h-0.8zM325.3 490.1h0.8v0.8h-0.8zM320.3 523.3h0.8v0.8h-0.8zM314.5 538.7h0.8v0.8h-0.8zM326.9 504.7h0.8v0.8h-0.8zM312.1 541.9h0.8v0.8h-0.8zM317.5 486.2h0.8v0.8h-0.8zM317.5 489.5h0.8v0.8h-0.8zM324.2 501.6h0.8v0.8h-0.8zM326.4 535.0h0.8v0.8h-0.8zM323.9 519.7h0.8v0.8h-0.8zM315.5 502.6h0.8v0.8h-0.8zM316.7 485.7h0.8v0.8h-0.8zM321.3 499.1h0.8v0.8h-0.8zM317.7 544.1h0.8v0.8h-0.8zM322.3 521.9h0.8v0.8h-0.8zM314.2 494.6h0.8v0.8h-0.8zM320.9 483.0h0.8v0.8h-0.8zM330.8 499.9h0.8v0.8h-0.8zM324.2 481.7h0.8v0.8h-0.8zM317.0 511.1h0.8v0.8h-0.8zM329.6 515.3h0.8v0.8h-0.8zM326.6 487.7h0.8v0.8h-0.8zM310.5 504.4h0.8v0.8h-0.8zM315.8 540.1h0.8v0.8h-0.8zM317.6 515.6h0.8v0.8h-0.8zM314.9 503.7h0.8v0.8h-0.8zM321.0 524.0h0.8v0.8h-0.8zM327.7 517.0h0.8v0.8h-0.8zM311.8 522.5h0.8v0.8h-0.8zM324.8 502.3h0.8v0.8h-0.8zM321.8 539.7h0.8v0.8h-0.8zM329.3 503.4h0.8v0.8h-0.8zM317.8 515.1h0.8v0.8h-0.8zM321.3 522.5h0.8v0.8h-0.8zM326.9 491.1h0.8v0.8h-0.8zM313.9 512.9h0.8v0.8h-0.8zM324.2 501.2h0.8v0.8h-0.8zM315.7 545.3h0.8v0.8h-0.8zM317.6 479.8h0.8v0.8h-0.8zM312.7 539.7h0.8v0.8h-0.8zM322.8 539.6h0.8v0.8h-0.8zM317.7 505.8h0.8v0.8h-0.8zM325.7 540.8h0.8v0.8h-0.8zM320.9 498.3h0.8v0.8h-0.8zM319.0 481.4h0.8v0.8h-0.8zM312.6 485.1h0.8v0.8h-0.8zM319.4 477.5h0.8v0.8h-0.8zM319.8 492.5h0.8v0.8h-0.8zM317.2 517.2h0.8v0.8h-0.8zM325.7 518.3h0.8v0.8h-0.8zM312.8 521.3h0.8v0.8h-0.8zM320.7 518.1h0.8v0.8h-0.8zM323.5 539.4h0.8v0.8h-0.8zM318.8 513.0h0.8v0.8h-0.8zM319.0 508.6h0.8v0.8h-0.8zM324.7 506.9h0.8v0.8h-0.8zM319.8 501.3h0.8v0.8h-0.8zM322.6 505.3h0.8v0.8h-0.8zM323.1 502.9h0.8v0.8h-0.8zM320.6 478.1h0.8v0.8h-0.8zM320.3 534.3h0.8v0.8h-0.8zM320.5 490.8h0.8v0.8h-0.8zM318.8 533.6h0.8v0.8h-0.8zM327.5 481.8h0.8v0.8h-0.8zM315.9 509.0h0.8v0.8h-0.8zM323.5 501.7h0.8v0.8h-0.8zM323.0 522.1h0.8v0.8h-0.8zM318.1 534.7h0.8v0.8h-0.8zM316.1 499.4h0.8v0.8h-0.8zM325.3 542.6h0.8v0.8h-0.8zM313.8 488.5h0.8v0.8h-0.8zM328.8 520.5h0.8v0.8h-0.8zM317.9 509.2h0.8v0.8h-0.8zM325.6 522.1h0.8v0.8h-0.8zM314.7 489.1h0.8v0.8h-0.8zM324.1 521.2h0.8v0.8h-0.8zM312.9 507.2h0.8v0.8h-0.8zM318.6 490.5h0.8v0.8h-0.8zM322.7 509.5h0.8v0.8h-0.8zM320.5 533.5h0.8v0.8h-0.8zM322.4 530.4h0.8v0.8h-0.8zM327.1 517.0h0.8v0.8h-0.8zM323.2 530.5h0.8v0.8h-0.8zM316.3 533.7h0.8v0.8h-0.8zM313.4 524.6h0.8v0.8h-0.8z" fill="#2e4cf0" fill-opacity="0.5"/>
<g filter="url(#bl1)"><ellipse cx="322.3" cy="505.0" rx="3.8" ry="24" fill="#1e9cf2" opacity="0.9"/><ellipse cx="322.3" cy="506.0" rx="2.7" ry="15" fill="#2ee2f0"/></g>
<g filter="url(#bl05)" transform="rotate(-24 316.1 552.0)">
<ellipse cx="313.7" cy="552.0" rx="8.40" ry="5.00" fill="#2a42ee"/>
<ellipse cx="314.0" cy="552.0" rx="7.38" ry="4.39" fill="#1e9cf2"/>
<ellipse cx="314.4" cy="552.0" rx="6.36" ry="3.79" fill="#2ee2f0"/>
<ellipse cx="314.7" cy="552.0" rx="5.34" ry="3.18" fill="#4fe68c"/>
<ellipse cx="315.1" cy="552.0" rx="4.32" ry="2.57" fill="#b4e83c"/>
<ellipse cx="315.4" cy="552.0" rx="3.30" ry="1.96" fill="#f2e226"/>
<ellipse cx="315.8" cy="552.0" rx="2.28" ry="1.36" fill="#f59a26"/>
<ellipse cx="316.1" cy="552.0" rx="1.26" ry="0.75" fill="#e83a1e"/>
</g>
</g>
<clipPath id="c381_473"><rect x="381" y="473.4" width="79.80000000000001" height="86.60000000000002"/></clipPath>
<g clip-path="url(#c381_473)">
<g filter="url(#bl2)"><ellipse cx="412.1" cy="510.0" rx="13.0" ry="34" fill="#9aa6f6" opacity="0.45"/></g>
<g filter="url(#bl2)" fill="#93a0f6" opacity="0.55"><path d="M404.2 549.3L406.3 541.3L409.8 530.9L411.7 517.3L412.8 504.2L412.8 490.2L412.6 477.2L412.4 460.2L396.4 459.8L395.6 476.8L394.7 489.8L394.0 503.8L394.5 516.7L395.1 529.1L394.5 538.7L393.0 546.7Z"/><circle cx="398.6" cy="548.0" r="5.8"/><circle cx="404.4" cy="460.0" r="8.0"/></g>
<g filter="url(#bl2)" fill="#93a0f6" opacity="0.5"><path d="M401.0 556.8L418.9 554.8L436.8 553.1L436.4 545.7L418.3 546.2L400.2 547.2Z"/><circle cx="400.6" cy="552.0" r="4.8"/><circle cx="436.6" cy="549.4" r="3.7"/></g>
<g filter="url(#bl1)" fill="#4a64f0" opacity="0.6"><path d="M400.8 554.8L418.8 552.8L436.7 551.1L436.5 547.7L418.4 548.2L400.4 549.2Z"/><circle cx="400.6" cy="552.0" r="2.8"/><circle cx="436.6" cy="549.4" r="1.7"/></g>
<g filter="url(#bl1)" fill="#2a48f0" opacity="0.95"><path d="M401.1 548.6L403.2 540.6L406.6 530.5L408.5 517.2L409.6 504.1L409.6 490.1L409.4 477.1L409.2 460.1L399.6 459.9L398.8 476.9L397.9 489.9L397.2 503.9L397.7 516.8L398.3 529.5L397.6 539.4L396.1 547.4Z"/><circle cx="398.6" cy="548.0" r="2.6"/><circle cx="404.4" cy="460.0" r="4.8"/></g>
<path d="M417.1 487.7h0.8v0.8h-0.8zM416.8 486.0h0.8v0.8h-0.8zM418.4 482.8h0.8v0.8h-0.8zM417.8 489.3h0.8v0.8h-0.8zM416.9 488.4h0.8v0.8h-0.8zM415.0 476.9h0.8v0.8h-0.8zM418.4 491.9h0.8v0.8h-0.8zM416.1 492.0h0.8v0.8h-0.8zM410.9 541.4h0.8v0.8h-0.8zM415.8 510.9h0.8v0.8h-0.8zM413.5 519.0h0.8v0.8h-0.8zM409.0 502.7h0.8v0.8h-0.8zM418.6 481.5h0.8v0.8h-0.8zM416.6 495.3h0.8v0.8h-0.8zM417.9 516.3h0.8v0.8h-0.8zM419.3 483.6h0.8v0.8h-0.8zM414.3 496.2h0.8v0.8h-0.8zM417.4 485.9h0.8v0.8h-0.8zM418.0 523.6h0.8v0.8h-0.8zM414.9 482.0h0.8v0.8h-0.8zM420.4 538.1h0.8v0.8h-0.8zM416.1 490.6h0.8v0.8h-0.8zM416.9 480.4h0.8v0.8h-0.8zM417.5 532.4h0.8v0.8h-0.8zM413.9 510.5h0.8v0.8h-0.8zM409.0 491.4h0.8v0.8h-0.8zM417.3 533.4h0.8v0.8h-0.8zM417.3 534.8h0.8v0.8h-0.8zM415.1 541.6h0.8v0.8h-0.8zM418.0 489.9h0.8v0.8h-0.8zM414.9 514.2h0.8v0.8h-0.8zM418.8 540.2h0.8v0.8h-0.8zM418.3 535.0h0.8v0.8h-0.8zM415.3 487.4h0.8v0.8h-0.8zM415.8 523.5h0.8v0.8h-0.8zM412.2 498.9h0.8v0.8h-0.8zM415.9 510.3h0.8v0.8h-0.8zM419.1 483.7h0.8v0.8h-0.8zM417.1 485.1h0.8v0.8h-0.8zM411.4 494.6h0.8v0.8h-0.8zM417.4 528.6h0.8v0.8h-0.8zM418.3 542.3h0.8v0.8h-0.8zM420.1 536.7h0.8v0.8h-0.8zM423.5 476.8h0.8v0.8h-0.8zM415.6 508.2h0.8v0.8h-0.8zM417.7 492.1h0.8v0.8h-0.8zM416.6 532.1h0.8v0.8h-0.8zM419.7 489.0h0.8v0.8h-0.8zM416.6 498.6h0.8v0.8h-0.8zM416.3 508.8h0.8v0.8h-0.8zM411.7 538.0h0.8v0.8h-0.8zM416.9 530.1h0.8v0.8h-0.8zM419.9 499.0h0.8v0.8h-0.8zM414.3 498.9h0.8v0.8h-0.8zM412.2 477.7h0.8v0.8h-0.8zM419.6 510.4h0.8v0.8h-0.8zM416.1 498.9h0.8v0.8h-0.8zM417.8 483.0h0.8v0.8h-0.8zM422.8 494.1h0.8v0.8h-0.8zM426.5 500.1h0.8v0.8h-0.8zM412.4 507.3h0.8v0.8h-0.8zM410.7 529.5h0.8v0.8h-0.8zM433.6 513.6h0.8v0.8h-0.8zM412.5 509.2h0.8v0.8h-0.8zM410.6 495.4h0.8v0.8h-0.8zM414.8 526.6h0.8v0.8h-0.8zM409.4 486.8h0.8v0.8h-0.8zM423.7 505.0h0.8v0.8h-0.8zM419.6 543.1h0.8v0.8h-0.8zM417.9 502.1h0.8v0.8h-0.8zM417.6 476.3h0.8v0.8h-0.8zM429.4 480.4h0.8v0.8h-0.8zM421.4 504.0h0.8v0.8h-0.8zM430.2 534.6h0.8v0.8h-0.8zM414.7 543.0h0.8v0.8h-0.8zM421.4 507.7h0.8v0.8h-0.8zM419.2 504.3h0.8v0.8h-0.8zM411.7 483.8h0.8v0.8h-0.8zM422.1 530.6h0.8v0.8h-0.8zM431.0 540.6h0.8v0.8h-0.8zM413.9 505.8h0.8v0.8h-0.8z" fill="#8090f4" fill-opacity="0.7"/>
<path d="M397.7 501.2h0.8v0.8h-0.8zM398.4 531.6h0.8v0.8h-0.8zM403.7 529.3h0.8v0.8h-0.8zM398.2 493.8h0.8v0.8h-0.8zM410.4 497.3h0.8v0.8h-0.8zM412.4 475.7h0.8v0.8h-0.8zM407.3 502.8h0.8v0.8h-0.8zM403.1 492.3h0.8v0.8h-0.8zM409.6 511.5h0.8v0.8h-0.8zM400.4 484.7h0.8v0.8h-0.8zM399.3 520.4h0.8v0.8h-0.8zM410.7 482.1h0.8v0.8h-0.8zM402.8 499.6h0.8v0.8h-0.8zM400.0 485.2h0.8v0.8h-0.8zM407.1 505.5h0.8v0.8h-0.8zM408.9 482.3h0.8v0.8h-0.8zM403.4 523.9h0.8v0.8h-0.8zM402.0 495.9h0.8v0.8h-0.8zM404.1 526.3h0.8v0.8h-0.8zM411.4 483.5h0.8v0.8h-0.8zM399.9 523.1h0.8v0.8h-0.8zM407.4 492.4h0.8v0.8h-0.8zM406.0 503.9h0.8v0.8h-0.8zM399.8 489.0h0.8v0.8h-0.8zM413.9 493.1h0.8v0.8h-0.8zM404.3 539.8h0.8v0.8h-0.8zM390.6 520.1h0.8v0.8h-0.8zM410.0 485.5h0.8v0.8h-0.8zM391.0 540.0h0.8v0.8h-0.8zM403.7 474.9h0.8v0.8h-0.8zM412.5 487.6h0.8v0.8h-0.8zM409.6 506.4h0.8v0.8h-0.8zM398.8 489.0h0.8v0.8h-0.8zM394.9 512.0h0.8v0.8h-0.8zM400.4 527.7h0.8v0.8h-0.8zM406.4 523.8h0.8v0.8h-0.8zM394.2 486.7h0.8v0.8h-0.8zM395.7 487.5h0.8v0.8h-0.8zM402.2 489.4h0.8v0.8h-0.8zM385.8 545.4h0.8v0.8h-0.8zM405.2 528.5h0.8v0.8h-0.8zM405.3 506.3h0.8v0.8h-0.8zM405.4 476.0h0.8v0.8h-0.8zM402.3 543.2h0.8v0.8h-0.8zM405.3 524.1h0.8v0.8h-0.8zM399.4 507.7h0.8v0.8h-0.8zM397.5 536.6h0.8v0.8h-0.8zM399.0 545.6h0.8v0.8h-0.8zM406.0 476.0h0.8v0.8h-0.8zM408.3 524.8h0.8v0.8h-0.8zM398.1 529.7h0.8v0.8h-0.8zM400.2 485.6h0.8v0.8h-0.8zM405.6 539.5h0.8v0.8h-0.8zM405.2 475.2h0.8v0.8h-0.8zM395.9 487.3h0.8v0.8h-0.8zM404.3 517.1h0.8v0.8h-0.8zM406.5 483.1h0.8v0.8h-0.8zM404.8 498.1h0.8v0.8h-0.8zM404.7 505.6h0.8v0.8h-0.8zM404.9 544.8h0.8v0.8h-0.8zM401.5 534.6h0.8v0.8h-0.8zM409.8 478.5h0.8v0.8h-0.8zM384.6 519.2h0.8v0.8h-0.8zM398.0 493.5h0.8v0.8h-0.8zM405.4 513.1h0.8v0.8h-0.8zM396.7 519.7h0.8v0.8h-0.8zM404.8 490.6h0.8v0.8h-0.8zM392.5 484.6h0.8v0.8h-0.8zM399.3 536.9h0.8v0.8h-0.8zM404.4 495.2h0.8v0.8h-0.8zM393.6 488.8h0.8v0.8h-0.8zM395.3 540.7h0.8v0.8h-0.8zM402.9 494.3h0.8v0.8h-0.8zM394.8 512.3h0.8v0.8h-0.8zM404.1 496.0h0.8v0.8h-0.8zM404.4 530.3h0.8v0.8h-0.8zM406.9 536.4h0.8v0.8h-0.8zM390.0 535.3h0.8v0.8h-0.8zM410.0 515.4h0.8v0.8h-0.8zM402.4 524.8h0.8v0.8h-0.8zM405.9 503.3h0.8v0.8h-0.8zM402.1 505.8h0.8v0.8h-0.8zM404.3 488.1h0.8v0.8h-0.8zM403.2 517.9h0.8v0.8h-0.8zM401.5 538.3h0.8v0.8h-0.8zM405.1 478.0h0.8v0.8h-0.8zM399.5 490.7h0.8v0.8h-0.8zM409.1 539.1h0.8v0.8h-0.8zM403.1 542.0h0.8v0.8h-0.8zM405.4 481.9h0.8v0.8h-0.8zM403.3 491.1h0.8v0.8h-0.8zM395.9 533.6h0.8v0.8h-0.8zM393.4 526.3h0.8v0.8h-0.8zM404.3 505.5h0.8v0.8h-0.8zM413.1 492.4h0.8v0.8h-0.8zM401.4 487.3h0.8v0.8h-0.8zM396.1 479.8h0.8v0.8h-0.8zM401.1 504.2h0.8v0.8h-0.8zM398.9 481.8h0.8v0.8h-0.8zM401.0 502.1h0.8v0.8h-0.8zM406.9 527.8h0.8v0.8h-0.8zM404.6 484.9h0.8v0.8h-0.8zM408.5 496.4h0.8v0.8h-0.8zM396.0 496.8h0.8v0.8h-0.8zM404.4 487.5h0.8v0.8h-0.8zM401.8 488.2h0.8v0.8h-0.8zM399.6 535.8h0.8v0.8h-0.8zM405.7 515.9h0.8v0.8h-0.8zM396.5 504.3h0.8v0.8h-0.8zM421.2 483.6h0.8v0.8h-0.8zM397.3 514.4h0.8v0.8h-0.8zM388.4 532.4h0.8v0.8h-0.8zM407.5 492.5h0.8v0.8h-0.8zM402.1 477.7h0.8v0.8h-0.8zM406.1 477.5h0.8v0.8h-0.8zM397.8 510.7h0.8v0.8h-0.8zM407.9 484.1h0.8v0.8h-0.8zM395.5 531.1h0.8v0.8h-0.8zM404.7 514.6h0.8v0.8h-0.8zM401.1 517.1h0.8v0.8h-0.8zM397.3 530.9h0.8v0.8h-0.8zM403.0 490.5h0.8v0.8h-0.8zM401.5 511.1h0.8v0.8h-0.8zM409.1 518.1h0.8v0.8h-0.8zM404.1 544.0h0.8v0.8h-0.8zM400.0 521.0h0.8v0.8h-0.8zM408.3 533.6h0.8v0.8h-0.8zM393.9 541.6h0.8v0.8h-0.8zM387.2 521.9h0.8v0.8h-0.8zM407.0 533.7h0.8v0.8h-0.8zM415.0 495.7h0.8v0.8h-0.8zM409.8 482.5h0.8v0.8h-0.8zM403.4 476.9h0.8v0.8h-0.8zM397.1 525.5h0.8v0.8h-0.8zM397.3 542.7h0.8v0.8h-0.8zM399.5 530.0h0.8v0.8h-0.8zM408.5 531.2h0.8v0.8h-0.8zM396.1 521.7h0.8v0.8h-0.8zM403.7 513.6h0.8v0.8h-0.8zM411.1 477.5h0.8v0.8h-0.8zM407.6 499.8h0.8v0.8h-0.8zM402.5 478.1h0.8v0.8h-0.8zM401.1 537.6h0.8v0.8h-0.8zM393.8 484.5h0.8v0.8h-0.8zM399.8 529.1h0.8v0.8h-0.8z" fill="#2e4cf0" fill-opacity="0.5"/>
<g filter="url(#bl1)"><ellipse cx="403.4" cy="505.0" rx="3.9" ry="24" fill="#1e9cf2" opacity="0.9"/><ellipse cx="403.4" cy="506.0" rx="2.7" ry="15" fill="#2ee2f0"/></g>
<g filter="url(#bl05)" transform="rotate(-24 396.6 552.0)">
<ellipse cx="394.2" cy="552.0" rx="8.40" ry="5.00" fill="#2a42ee"/>
<ellipse cx="394.5" cy="552.0" rx="7.38" ry="4.39" fill="#1e9cf2"/>
<ellipse cx="394.9" cy="552.0" rx="6.36" ry="3.79" fill="#2ee2f0"/>
<ellipse cx="395.2" cy="552.0" rx="5.34" ry="3.18" fill="#4fe68c"/>
<ellipse cx="395.6" cy="552.0" rx="4.32" ry="2.57" fill="#b4e83c"/>
<ellipse cx="395.9" cy="552.0" rx="3.30" ry="1.96" fill="#f2e226"/>
<ellipse cx="396.3" cy="552.0" rx="2.28" ry="1.36" fill="#f59a26"/>
<ellipse cx="396.6" cy="552.0" rx="1.26" ry="0.75" fill="#e83a1e"/>
</g>
</g>
<rect x="460.8" y="473.4" width="80.99999999999994" height="86.60000000000002" fill="#dde4de"/>
<clipPath id="c460_473"><rect x="460.8" y="473.4" width="80.99999999999994" height="86.60000000000002"/></clipPath>
<g clip-path="url(#c460_473)">
<g filter="url(#bl2)"><ellipse cx="493.5" cy="510.0" rx="15.0" ry="34" fill="#9aa6f6" opacity="0.45"/></g>
<g filter="url(#bl2)" fill="#93a0f6" opacity="0.55"><path d="M485.4 549.3L487.6 541.4L491.5 531.0L493.4 517.3L494.5 504.2L494.6 490.2L494.3 477.2L494.2 460.2L477.6 459.8L476.7 476.8L475.8 489.8L475.1 503.8L475.6 516.7L476.2 529.0L475.5 538.6L474.0 546.7Z"/><circle cx="479.7" cy="548.0" r="5.9"/><circle cx="485.9" cy="460.0" r="8.3"/></g>
<g filter="url(#bl2)" fill="#93a0f6" opacity="0.5"><path d="M482.1 556.8L502.0 554.8L521.9 553.1L521.5 545.7L501.4 546.2L481.3 547.2Z"/><circle cx="481.7" cy="552.0" r="4.8"/><circle cx="521.7" cy="549.4" r="3.7"/></g>
<g filter="url(#bl1)" fill="#4a64f0" opacity="0.6"><path d="M481.9 554.8L501.8 552.8L521.8 551.1L521.6 547.7L501.6 548.2L481.5 549.2Z"/><circle cx="481.7" cy="552.0" r="2.8"/><circle cx="521.7" cy="549.4" r="1.7"/></g>
<g filter="url(#bl1)" fill="#2a48f0" opacity="0.95"><path d="M482.3 548.6L484.5 540.7L488.3 530.6L490.2 517.2L491.3 504.2L491.4 490.2L491.1 477.1L491.0 460.1L480.8 459.9L479.9 476.9L479.0 489.8L478.3 503.8L478.8 516.8L479.4 529.4L478.7 539.3L477.1 547.4Z"/><circle cx="479.7" cy="548.0" r="2.7"/><circle cx="485.9" cy="460.0" r="5.1"/></g>
<path d="M493.2 543.6h0.8v0.8h-0.8zM501.0 477.6h0.8v0.8h-0.8zM496.8 513.1h0.8v0.8h-0.8zM501.4 477.5h0.8v0.8h-0.8zM496.7 510.4h0.8v0.8h-0.8zM495.3 476.2h0.8v0.8h-0.8zM499.0 520.0h0.8v0.8h-0.8zM493.8 523.9h0.8v0.8h-0.8zM501.3 492.6h0.8v0.8h-0.8zM492.2 543.7h0.8v0.8h-0.8zM498.3 498.0h0.8v0.8h-0.8zM498.3 523.0h0.8v0.8h-0.8zM501.9 515.1h0.8v0.8h-0.8zM496.8 541.5h0.8v0.8h-0.8zM493.9 499.9h0.8v0.8h-0.8zM495.8 543.2h0.8v0.8h-0.8zM495.6 477.6h0.8v0.8h-0.8zM493.9 476.4h0.8v0.8h-0.8zM494.8 535.5h0.8v0.8h-0.8zM498.7 501.7h0.8v0.8h-0.8zM498.4 514.2h0.8v0.8h-0.8zM497.4 515.7h0.8v0.8h-0.8zM494.8 497.6h0.8v0.8h-0.8zM496.9 533.3h0.8v0.8h-0.8zM499.6 531.2h0.8v0.8h-0.8zM495.0 515.8h0.8v0.8h-0.8zM497.9 503.1h0.8v0.8h-0.8zM493.9 504.3h0.8v0.8h-0.8zM492.1 511.5h0.8v0.8h-0.8zM495.3 527.2h0.8v0.8h-0.8zM499.6 480.8h0.8v0.8h-0.8zM497.9 497.7h0.8v0.8h-0.8zM501.8 534.8h0.8v0.8h-0.8zM496.2 489.8h0.8v0.8h-0.8zM496.5 525.6h0.8v0.8h-0.8zM501.2 512.5h0.8v0.8h-0.8zM496.4 512.5h0.8v0.8h-0.8zM498.7 505.0h0.8v0.8h-0.8zM501.2 488.8h0.8v0.8h-0.8zM493.0 484.5h0.8v0.8h-0.8zM496.1 523.9h0.8v0.8h-0.8zM498.5 486.4h0.8v0.8h-0.8zM496.9 515.1h0.8v0.8h-0.8zM502.0 534.6h0.8v0.8h-0.8zM497.7 489.2h0.8v0.8h-0.8zM500.0 518.3h0.8v0.8h-0.8zM493.4 478.6h0.8v0.8h-0.8zM497.4 478.5h0.8v0.8h-0.8zM497.6 497.3h0.8v0.8h-0.8zM499.1 479.0h0.8v0.8h-0.8zM497.2 499.5h0.8v0.8h-0.8zM499.0 484.8h0.8v0.8h-0.8zM491.0 517.3h0.8v0.8h-0.8zM491.5 493.1h0.8v0.8h-0.8zM496.2 530.0h0.8v0.8h-0.8zM498.4 507.6h0.8v0.8h-0.8zM497.2 523.7h0.8v0.8h-0.8zM496.0 539.5h0.8v0.8h-0.8zM494.3 511.9h0.8v0.8h-0.8zM494.7 506.9h0.8v0.8h-0.8zM494.6 485.2h0.8v0.8h-0.8zM512.4 518.1h0.8v0.8h-0.8zM492.6 492.0h0.8v0.8h-0.8zM509.4 505.4h0.8v0.8h-0.8zM512.8 532.2h0.8v0.8h-0.8zM512.9 476.1h0.8v0.8h-0.8zM501.4 503.1h0.8v0.8h-0.8zM511.7 513.6h0.8v0.8h-0.8zM496.9 541.5h0.8v0.8h-0.8zM495.6 532.8h0.8v0.8h-0.8zM513.7 519.3h0.8v0.8h-0.8zM507.8 509.3h0.8v0.8h-0.8zM493.1 514.8h0.8v0.8h-0.8zM497.3 540.2h0.8v0.8h-0.8zM513.0 538.0h0.8v0.8h-0.8zM510.2 496.4h0.8v0.8h-0.8zM497.6 477.3h0.8v0.8h-0.8z" fill="#8090f4" fill-opacity="0.7"/>
<path d="M488.2 478.8h0.8v0.8h-0.8zM483.3 517.4h0.8v0.8h-0.8zM481.2 525.8h0.8v0.8h-0.8zM483.6 519.7h0.8v0.8h-0.8zM481.9 488.7h0.8v0.8h-0.8zM479.0 541.7h0.8v0.8h-0.8zM483.6 504.9h0.8v0.8h-0.8zM484.6 525.3h0.8v0.8h-0.8zM481.7 483.5h0.8v0.8h-0.8zM480.6 521.7h0.8v0.8h-0.8zM489.3 540.4h0.8v0.8h-0.8zM478.7 505.9h0.8v0.8h-0.8zM481.3 524.4h0.8v0.8h-0.8zM476.2 529.7h0.8v0.8h-0.8zM477.7 501.9h0.8v0.8h-0.8zM479.8 480.2h0.8v0.8h-0.8zM483.1 489.2h0.8v0.8h-0.8zM483.2 534.1h0.8v0.8h-0.8zM474.6 482.5h0.8v0.8h-0.8zM488.6 489.1h0.8v0.8h-0.8zM483.4 477.7h0.8v0.8h-0.8zM492.5 540.6h0.8v0.8h-0.8zM477.9 489.8h0.8v0.8h-0.8zM477.8 495.3h0.8v0.8h-0.8zM489.9 527.1h0.8v0.8h-0.8zM487.3 507.6h0.8v0.8h-0.8zM476.9 535.4h0.8v0.8h-0.8zM480.2 523.7h0.8v0.8h-0.8zM478.5 476.6h0.8v0.8h-0.8zM477.0 508.9h0.8v0.8h-0.8zM484.2 515.6h0.8v0.8h-0.8zM488.2 479.8h0.8v0.8h-0.8zM481.1 485.5h0.8v0.8h-0.8zM490.2 527.7h0.8v0.8h-0.8zM485.1 480.0h0.8v0.8h-0.8zM491.3 518.0h0.8v0.8h-0.8zM481.9 518.7h0.8v0.8h-0.8zM486.3 481.4h0.8v0.8h-0.8zM481.9 509.1h0.8v0.8h-0.8zM488.8 501.1h0.8v0.8h-0.8zM482.7 501.2h0.8v0.8h-0.8zM485.8 492.4h0.8v0.8h-0.8zM482.4 485.0h0.8v0.8h-0.8zM481.3 544.5h0.8v0.8h-0.8zM484.2 498.9h0.8v0.8h-0.8zM484.2 501.5h0.8v0.8h-0.8zM487.3 545.7h0.8v0.8h-0.8zM492.2 542.9h0.8v0.8h-0.8zM478.0 540.1h0.8v0.8h-0.8zM476.9 490.3h0.8v0.8h-0.8zM484.6 474.6h0.8v0.8h-0.8zM491.9 491.5h0.8v0.8h-0.8zM483.2 536.1h0.8v0.8h-0.8zM494.1 478.7h0.8v0.8h-0.8zM480.5 512.8h0.8v0.8h-0.8zM483.7 501.5h0.8v0.8h-0.8zM481.4 500.2h0.8v0.8h-0.8zM482.5 497.7h0.8v0.8h-0.8zM478.6 494.5h0.8v0.8h-0.8zM478.1 483.4h0.8v0.8h-0.8zM476.0 514.6h0.8v0.8h-0.8zM483.9 474.7h0.8v0.8h-0.8zM480.6 523.1h0.8v0.8h-0.8zM489.5 490.6h0.8v0.8h-0.8zM487.9 532.9h0.8v0.8h-0.8zM483.5 483.9h0.8v0.8h-0.8zM488.2 510.9h0.8v0.8h-0.8zM484.5 497.4h0.8v0.8h-0.8zM488.4 538.3h0.8v0.8h-0.8zM482.0 507.0h0.8v0.8h-0.8zM480.7 543.6h0.8v0.8h-0.8zM489.1 490.8h0.8v0.8h-0.8zM476.9 531.2h0.8v0.8h-0.8zM483.9 498.0h0.8v0.8h-0.8zM474.7 487.5h0.8v0.8h-0.8zM482.7 493.1h0.8v0.8h-0.8zM477.2 538.9h0.8v0.8h-0.8zM479.1 481.5h0.8v0.8h-0.8zM490.6 526.5h0.8v0.8h-0.8zM494.6 490.7h0.8v0.8h-0.8zM483.2 508.1h0.8v0.8h-0.8zM477.4 507.4h0.8v0.8h-0.8zM481.8 526.4h0.8v0.8h-0.8zM482.9 487.2h0.8v0.8h-0.8zM480.5 523.0h0.8v0.8h-0.8zM488.2 496.9h0.8v0.8h-0.8zM497.8 514.3h0.8v0.8h-0.8zM475.9 535.0h0.8v0.8h-0.8zM484.6 526.9h0.8v0.8h-0.8zM487.4 521.9h0.8v0.8h-0.8zM485.7 488.7h0.8v0.8h-0.8zM479.1 543.8h0.8v0.8h-0.8zM479.9 536.5h0.8v0.8h-0.8zM485.6 509.3h0.8v0.8h-0.8zM480.3 515.1h0.8v0.8h-0.8zM480.8 510.3h0.8v0.8h-0.8zM481.4 494.1h0.8v0.8h-0.8zM479.3 531.9h0.8v0.8h-0.8zM471.6 540.3h0.8v0.8h-0.8zM493.0 493.4h0.8v0.8h-0.8zM486.1 478.5h0.8v0.8h-0.8zM491.4 518.6h0.8v0.8h-0.8zM480.4 493.3h0.8v0.8h-0.8zM488.6 477.0h0.8v0.8h-0.8zM478.1 509.7h0.8v0.8h-0.8zM486.1 484.4h0.8v0.8h-0.8zM484.8 512.0h0.8v0.8h-0.8zM487.6 510.1h0.8v0.8h-0.8zM470.2 481.8h0.8v0.8h-0.8zM490.2 486.1h0.8v0.8h-0.8zM482.8 500.8h0.8v0.8h-0.8zM483.7 501.2h0.8v0.8h-0.8zM500.3 515.8h0.8v0.8h-0.8zM482.1 519.9h0.8v0.8h-0.8zM485.2 479.4h0.8v0.8h-0.8zM481.0 488.8h0.8v0.8h-0.8zM475.1 538.2h0.8v0.8h-0.8zM485.4 475.3h0.8v0.8h-0.8zM477.0 498.2h0.8v0.8h-0.8zM478.3 477.7h0.8v0.8h-0.8zM483.3 504.8h0.8v0.8h-0.8zM484.0 483.4h0.8v0.8h-0.8zM479.5 480.0h0.8v0.8h-0.8zM479.9 514.1h0.8v0.8h-0.8zM476.8 516.1h0.8v0.8h-0.8zM481.6 509.2h0.8v0.8h-0.8zM482.5 499.6h0.8v0.8h-0.8zM488.2 497.4h0.8v0.8h-0.8zM475.6 482.0h0.8v0.8h-0.8zM491.0 510.2h0.8v0.8h-0.8zM485.7 484.7h0.8v0.8h-0.8zM489.8 502.3h0.8v0.8h-0.8zM476.1 515.1h0.8v0.8h-0.8zM496.2 492.7h0.8v0.8h-0.8zM479.5 530.9h0.8v0.8h-0.8zM479.0 480.4h0.8v0.8h-0.8zM488.7 498.1h0.8v0.8h-0.8zM481.8 483.1h0.8v0.8h-0.8zM490.6 514.6h0.8v0.8h-0.8z" fill="#2e4cf0" fill-opacity="0.5"/>
<g filter="url(#bl1)"><ellipse cx="484.8" cy="505.0" rx="4.0" ry="24" fill="#1e9cf2" opacity="0.9"/><ellipse cx="484.8" cy="506.0" rx="2.9" ry="15" fill="#2ee2f0"/></g>
<g filter="url(#bl05)" transform="rotate(-24 477.7 552.0)">
<ellipse cx="475.3" cy="552.0" rx="8.40" ry="5.00" fill="#2a42ee"/>
<ellipse cx="475.6" cy="552.0" rx="7.38" ry="4.39" fill="#1e9cf2"/>
<ellipse cx="476.0" cy="552.0" rx="6.36" ry="3.79" fill="#2ee2f0"/>
<ellipse cx="476.3" cy="552.0" rx="5.34" ry="3.18" fill="#4fe68c"/>
<ellipse cx="476.7" cy="552.0" rx="4.32" ry="2.57" fill="#b4e83c"/>
<ellipse cx="477.0" cy="552.0" rx="3.30" ry="1.96" fill="#f2e226"/>
<ellipse cx="477.4" cy="552.0" rx="2.28" ry="1.36" fill="#f59a26"/>
<ellipse cx="477.7" cy="552.0" rx="1.26" ry="0.75" fill="#e83a1e"/>
</g>
</g>
<path d="M52.6 560V473.4H541.8V560" fill="none" stroke="#9a9a9a" stroke-width="0.8"/>
<line x1="135" y1="473.4" x2="135" y2="560" stroke="#777" stroke-width="0.9"/>
<line x1="217" y1="473.4" x2="217" y2="560" stroke="#777" stroke-width="0.9"/>
<line x1="298.6" y1="473.4" x2="298.6" y2="560" stroke="#777" stroke-width="0.9"/>
<line x1="381" y1="473.4" x2="381" y2="560" stroke="#777" stroke-width="0.9"/>
<line x1="460.8" y1="473.4" x2="460.8" y2="560" stroke="#777" stroke-width="0.9"/>
<line x1="50.6" y1="560" x2="541.8" y2="560" stroke="#999" stroke-width="0.6"/>
<path d="M60.6 560v1.6M67.1 560v1.6M86.1 560v1.6M104.6 560v1.6M122.6 560v1.6M143.0 560v1.6M149.5 560v1.6M168.5 560v1.6M187.0 560v1.6M205.0 560v1.6M225.0 560v1.6M231.5 560v1.6M250.5 560v1.6M269.0 560v1.6M287.0 560v1.6M306.6 560v1.6M313.1 560v1.6M332.1 560v1.6M350.6 560v1.6M368.6 560v1.6M389.0 560v1.6M395.5 560v1.6M414.5 560v1.6M433.0 560v1.6M451.0 560v1.6M468.8 560v1.6M475.3 560v1.6M494.3 560v1.6M512.8 560v1.6M530.8 560v1.6" stroke="#555" stroke-width="0.6"/>
<text x="50" y="479.5" font-size="3.6" fill="#222" text-anchor="end" font-family="'Liberation Sans', sans-serif">4.0M</text>
<line x1="50.6" y1="478.3" x2="52.6" y2="478.3" stroke="#777" stroke-width="0.5"/>
<text x="50" y="500.1" font-size="3.6" fill="#222" text-anchor="end" font-family="'Liberation Sans', sans-serif">3.0M</text>
<line x1="50.6" y1="498.9" x2="52.6" y2="498.9" stroke="#777" stroke-width="0.5"/>
<text x="50" y="520.7" font-size="3.6" fill="#222" text-anchor="end" font-family="'Liberation Sans', sans-serif">2.0M</text>
<line x1="50.6" y1="519.5" x2="52.6" y2="519.5" stroke="#777" stroke-width="0.5"/>
<text x="50" y="541.3" font-size="3.6" fill="#222" text-anchor="end" font-family="'Liberation Sans', sans-serif">1.0M</text>
<line x1="50.6" y1="540.1" x2="52.6" y2="540.1" stroke="#777" stroke-width="0.5"/>
<text x="50" y="561.7" font-size="3.6" fill="#222" text-anchor="end" font-family="'Liberation Sans', sans-serif">0</text>
<line x1="50.6" y1="560.5" x2="52.6" y2="560.5" stroke="#777" stroke-width="0.5"/>
<text x="55.2" y="566.9" font-size="3.6" fill="#222" text-anchor="middle" font-family="'Liberation Sans', sans-serif">-10³</text>
<text x="61.1" y="566.9" font-size="3.6" fill="#222" text-anchor="middle" font-family="'Liberation Sans', sans-serif">0</text>
<text x="67.6" y="566.9" font-size="3.6" fill="#222" text-anchor="middle" font-family="'Liberation Sans', sans-serif">10³</text>
<text x="86.4" y="566.9" font-size="3.6" fill="#222" text-anchor="middle" font-family="'Liberation Sans', sans-serif">10⁴</text>
<text x="105.1" y="566.9" font-size="3.6" fill="#222" text-anchor="middle" font-family="'Liberation Sans', sans-serif">10⁵</text>
<text x="123.1" y="566.9" font-size="3.6" fill="#222" text-anchor="middle" font-family="'Liberation Sans', sans-serif">10⁶</text>
<text x="137.6" y="566.9" font-size="3.6" fill="#222" text-anchor="middle" font-family="'Liberation Sans', sans-serif">-10³</text>
<text x="143.5" y="566.9" font-size="3.6" fill="#222" text-anchor="middle" font-family="'Liberation Sans', sans-serif">0</text>
<text x="150.0" y="566.9" font-size="3.6" fill="#222" text-anchor="middle" font-family="'Liberation Sans', sans-serif">10³</text>
<text x="168.8" y="566.9" font-size="3.6" fill="#222" text-anchor="middle" font-family="'Liberation Sans', sans-serif">10⁴</text>
<text x="187.5" y="566.9" font-size="3.6" fill="#222" text-anchor="middle" font-family="'Liberation Sans', sans-serif">10⁵</text>
<text x="205.5" y="566.9" font-size="3.6" fill="#222" text-anchor="middle" font-family="'Liberation Sans', sans-serif">10⁶</text>
<text x="219.6" y="566.9" font-size="3.6" fill="#222" text-anchor="middle" font-family="'Liberation Sans', sans-serif">-10³</text>
<text x="225.5" y="566.9" font-size="3.6" fill="#222" text-anchor="middle" font-family="'Liberation Sans', sans-serif">0</text>
<text x="232.0" y="566.9" font-size="3.6" fill="#222" text-anchor="middle" font-family="'Liberation Sans', sans-serif">10³</text>
<text x="250.8" y="566.9" font-size="3.6" fill="#222" text-anchor="middle" font-family="'Liberation Sans', sans-serif">10⁴</text>
<text x="269.5" y="566.9" font-size="3.6" fill="#222" text-anchor="middle" font-family="'Liberation Sans', sans-serif">10⁵</text>
<text x="287.5" y="566.9" font-size="3.6" fill="#222" text-anchor="middle" font-family="'Liberation Sans', sans-serif">10⁶</text>
<text x="301.2" y="566.9" font-size="3.6" fill="#222" text-anchor="middle" font-family="'Liberation Sans', sans-serif">-10³</text>
<text x="307.1" y="566.9" font-size="3.6" fill="#222" text-anchor="middle" font-family="'Liberation Sans', sans-serif">0</text>
<text x="313.6" y="566.9" font-size="3.6" fill="#222" text-anchor="middle" font-family="'Liberation Sans', sans-serif">10³</text>
<text x="332.4" y="566.9" font-size="3.6" fill="#222" text-anchor="middle" font-family="'Liberation Sans', sans-serif">10⁴</text>
<text x="351.1" y="566.9" font-size="3.6" fill="#222" text-anchor="middle" font-family="'Liberation Sans', sans-serif">10⁵</text>
<text x="369.1" y="566.9" font-size="3.6" fill="#222" text-anchor="middle" font-family="'Liberation Sans', sans-serif">10⁶</text>
<text x="383.6" y="566.9" font-size="3.6" fill="#222" text-anchor="middle" font-family="'Liberation Sans', sans-serif">-10³</text>
<text x="389.5" y="566.9" font-size="3.6" fill="#222" text-anchor="middle" font-family="'Liberation Sans', sans-serif">0</text>
<text x="396.0" y="566.9" font-size="3.6" fill="#222" text-anchor="middle" font-family="'Liberation Sans', sans-serif">10³</text>
<text x="414.8" y="566.9" font-size="3.6" fill="#222" text-anchor="middle" font-family="'Liberation Sans', sans-serif">10⁴</text>
<text x="433.5" y="566.9" font-size="3.6" fill="#222" text-anchor="middle" font-family="'Liberation Sans', sans-serif">10⁵</text>
<text x="451.5" y="566.9" font-size="3.6" fill="#222" text-anchor="middle" font-family="'Liberation Sans', sans-serif">10⁶</text>
<text x="463.4" y="566.9" font-size="3.6" fill="#222" text-anchor="middle" font-family="'Liberation Sans', sans-serif">-10³</text>
<text x="469.3" y="566.9" font-size="3.6" fill="#222" text-anchor="middle" font-family="'Liberation Sans', sans-serif">0</text>
<text x="475.8" y="566.9" font-size="3.6" fill="#222" text-anchor="middle" font-family="'Liberation Sans', sans-serif">10³</text>
<text x="494.6" y="566.9" font-size="3.6" fill="#222" text-anchor="middle" font-family="'Liberation Sans', sans-serif">10⁴</text>
<text x="513.3" y="566.9" font-size="3.6" fill="#222" text-anchor="middle" font-family="'Liberation Sans', sans-serif">10⁵</text>
<text x="531.3" y="566.9" font-size="3.6" fill="#222" text-anchor="middle" font-family="'Liberation Sans', sans-serif">10⁶</text>
<rect x="299.34999999999997" y="353.04999999999995" width="81.3" height="85.4" fill="none" stroke="#0e5214" stroke-width="2.3"/>
<rect x="461.04999999999995" y="473.25" width="80.7" height="85.4" fill="none" stroke="#0e5214" stroke-width="2.3"/>
<path d="M21.5 549V570.9H41.5" fill="none" stroke="#111" stroke-width="1.3"/>
<path d="M21.5 545.4L18.6 551H24.4z" fill="#111"/>
<path d="M45.2 570.9L39.6 568V573.8z" fill="#111"/>
<text x="12.2" y="572.3" font-size="10.4" fill="#111" stroke="#111" stroke-width="0.15" transform="rotate(-90 12.2 572.3)" textLength="20.2" lengthAdjust="spacingAndGlyphs" font-family="'Liberation Sans', sans-serif">SSC</text>
<text x="21.2" y="588.9" font-size="10.6" fill="#111" stroke="#111" stroke-width="0.2" textLength="90.1" lengthAdjust="spacingAndGlyphs" font-family="'Liberation Sans', sans-serif">CD57 cFluor B548</text>
</svg>
</body></html>
